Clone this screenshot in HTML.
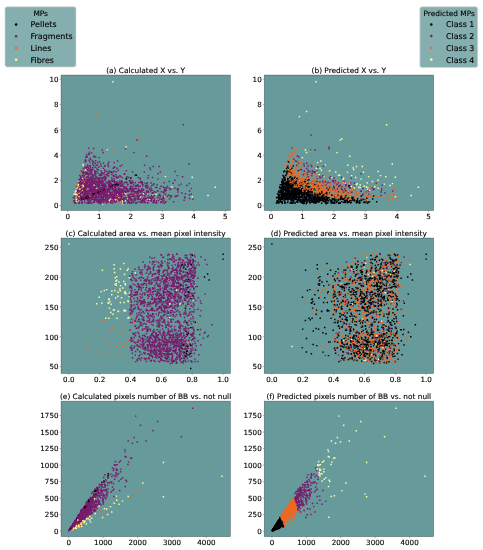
<!DOCTYPE html>
<html><head><meta charset="utf-8"><title>MPs scatter</title>
<style>
html,body{margin:0;padding:0;background:#fff}
body{width:483px;height:550px;position:relative;overflow:hidden}
text{font-family:"DejaVu Sans","Liberation Sans",sans-serif;fill:#000;stroke:#000;stroke-width:0.12px}
.t{font-size:7.15px}
.ti{font-size:7.37px}
.l{font-size:7.95px}
.lt{font-size:7.35px}
</style></head><body>
<svg width="483" height="550" viewBox="0 0 483 550" style="display:block;position:absolute;left:0;top:0">
<rect width="483" height="550" fill="#fff"/>
<g>
<rect x="61.0" y="75.0" width="169.5" height="135.6" fill="#669a9b"/>
<clipPath id="c00"><rect x="61.0" y="75.0" width="169.5" height="135.6"/></clipPath>
<g clip-path="url(#c00)" fill="none" stroke-width="1.45" stroke-linecap="square">
<path d="M100.8 191.1h.01M95.5 193.4h.01M97.2 191.5h.01" stroke="#000004"/>
<path d="M79.2 185.1h.01M121.1 190.0h.01M91.0 193.3h.01M104.1 185.4h.01M111.3 183.5h.01M95.3 197.4h.01M107.7 190.6h.01M99.6 161.8h.01M88.8 174.3h.01M124.8 197.8h.01M90.6 170.8h.01M97.6 184.0h.01M96.3 193.6h.01M98.3 197.3h.01M93.0 169.1h.01M140.9 198.5h.01M104.7 190.2h.01M138.9 182.4h.01M77.3 201.7h.01M97.1 191.8h.01M164.3 203.2h.01M89.1 178.8h.01M98.9 195.5h.01M108.9 187.3h.01M90.9 177.6h.01M79.5 191.3h.01M102.5 199.8h.01M91.6 189.8h.01M79.2 203.2h.01M108.5 194.1h.01M137.2 198.2h.01M88.2 189.8h.01M104.4 184.8h.01M99.5 175.4h.01M114.0 184.7h.01M140.9 194.7h.01M95.6 156.9h.01M103.1 188.2h.01M79.1 197.8h.01M86.3 173.8h.01M94.1 194.0h.01M101.6 188.4h.01M99.3 184.7h.01M140.0 199.4h.01M89.9 180.3h.01M121.4 191.9h.01M140.8 182.6h.01M91.3 181.6h.01M152.0 190.1h.01M135.3 192.0h.01M133.2 188.7h.01M122.4 191.8h.01M100.6 203.0h.01M176.7 196.2h.01M78.7 193.5h.01M177.3 189.3h.01M80.8 183.7h.01" stroke="#781c6d"/>
<path d="M76.4 187.5h.01M88.3 186.1h.01" stroke="#ed6925"/>
<path d="M80.7 189.2h.01M76.6 201.8h.01M74.8 201.3h.01" stroke="#fcffa4"/>
<path d="M83.2 198.5h.01" stroke="#000004"/>
<path d="M144.8 192.9h.01M85.2 161.3h.01M130.8 183.5h.01M104.9 187.4h.01M86.5 186.1h.01M96.6 200.7h.01M116.3 200.9h.01M103.4 168.2h.01M123.8 193.7h.01M120.2 185.6h.01M96.5 185.7h.01M138.1 192.5h.01M110.3 192.8h.01M80.2 186.8h.01M85.7 157.1h.01M83.6 184.3h.01M98.6 188.6h.01M99.3 202.4h.01M116.6 200.0h.01M141.0 191.4h.01M130.8 194.6h.01M110.0 198.9h.01M89.2 177.9h.01M75.4 199.7h.01M101.4 183.4h.01M82.6 196.3h.01M87.4 186.6h.01M89.6 172.5h.01M84.8 182.5h.01M94.1 192.2h.01M81.8 183.2h.01M95.1 184.9h.01M96.3 191.3h.01M92.7 180.6h.01M122.3 184.4h.01M164.9 187.6h.01M147.3 185.3h.01M156.7 202.8h.01M163.6 197.7h.01M112.1 179.7h.01M90.9 195.8h.01M92.7 175.1h.01M95.1 174.9h.01M118.9 193.1h.01M102.9 181.9h.01M100.7 181.0h.01M92.4 180.2h.01M90.2 169.2h.01M118.1 191.9h.01M92.3 179.8h.01M97.9 181.9h.01M156.2 203.2h.01M112.2 189.8h.01M96.9 190.8h.01M99.7 196.0h.01M139.1 196.3h.01M111.4 195.7h.01M133.9 194.0h.01" stroke="#781c6d"/>
<path d="M77.4 197.3h.01M85.9 178.6h.01" stroke="#ed6925"/>
<path d="M79.6 183.4h.01M90.9 181.3h.01M105.9 197.5h.01M81.7 186.1h.01" stroke="#fcffa4"/>
<path d="M75.6 202.7h.01M135.3 175.1h.01M102.2 190.2h.01M136.4 175.3h.01" stroke="#000004"/>
<path d="M134.1 191.5h.01M87.6 172.4h.01M139.8 195.5h.01M88.2 167.1h.01M112.5 203.3h.01M99.2 199.1h.01M133.3 201.4h.01M110.9 200.1h.01M86.2 166.9h.01M79.1 203.2h.01M95.7 190.2h.01M103.2 199.0h.01M131.8 189.7h.01M141.5 182.4h.01M77.3 200.8h.01M101.1 174.0h.01M84.2 192.1h.01M77.7 197.0h.01M88.4 176.8h.01M79.8 182.0h.01M82.1 184.5h.01M123.5 199.3h.01M95.5 189.9h.01M111.5 196.5h.01M148.2 195.6h.01M143.9 198.3h.01M92.1 192.0h.01M80.1 198.0h.01M191.4 188.6h.01M83.0 183.2h.01M84.3 183.5h.01M85.1 191.1h.01M104.7 180.3h.01M110.8 200.7h.01M97.1 201.3h.01M143.3 198.7h.01M108.1 190.0h.01M97.4 199.2h.01M95.8 187.1h.01M124.9 187.1h.01M104.9 194.6h.01M91.4 176.3h.01M82.3 198.0h.01M92.5 186.2h.01M93.8 190.6h.01M104.8 169.9h.01M148.1 186.5h.01M92.4 188.5h.01M152.3 196.9h.01M112.5 196.0h.01M95.3 195.9h.01M90.1 182.8h.01M144.1 202.7h.01M111.3 172.0h.01M86.8 196.0h.01M150.0 167.9h.01" stroke="#781c6d"/>
<path d="M86.5 197.7h.01" stroke="#ed6925"/>
<path d="M83.0 193.6h.01M111.1 202.1h.01M77.4 194.4h.01M121.5 199.1h.01" stroke="#fcffa4"/>
<path d="M116.4 184.5h.01" stroke="#000004"/>
<path d="M93.8 192.1h.01M130.4 196.7h.01M125.0 195.1h.01M120.3 200.2h.01M118.9 192.4h.01M85.4 195.1h.01M83.2 181.8h.01M117.6 194.3h.01M100.3 190.1h.01M105.5 195.0h.01M90.6 185.9h.01M107.5 188.8h.01M92.8 196.2h.01M145.6 187.0h.01M122.3 199.8h.01M160.4 195.8h.01M115.5 188.9h.01M113.9 196.9h.01M140.4 199.2h.01M104.7 188.7h.01M141.6 190.0h.01M154.3 202.0h.01M101.0 199.1h.01M92.9 199.2h.01M96.5 191.2h.01M142.4 200.2h.01M84.4 187.7h.01M135.9 196.8h.01M99.2 157.6h.01M123.8 194.8h.01M117.6 193.6h.01M79.8 194.2h.01M105.1 190.7h.01M95.2 163.1h.01M109.2 185.3h.01M138.2 190.7h.01M142.6 193.8h.01M152.5 193.8h.01M117.2 200.6h.01M89.2 191.2h.01M142.3 190.9h.01M88.2 193.6h.01M89.7 194.0h.01M161.4 191.7h.01M104.4 190.6h.01M84.4 188.1h.01M84.0 176.1h.01M91.5 184.2h.01M121.9 190.2h.01M121.7 192.9h.01M134.0 196.1h.01M130.8 189.3h.01M81.0 178.4h.01M94.3 180.5h.01M114.1 180.3h.01M154.3 200.3h.01M123.3 194.4h.01M121.7 181.7h.01M130.4 182.9h.01M120.2 166.2h.01M95.1 170.7h.01M95.5 189.4h.01" stroke="#781c6d"/>
<path d="M86.0 175.5h.01" stroke="#ed6925"/>
<path d="M137.5 196.2h.01" stroke="#fcffa4"/>
<path d="M115.5 185.1h.01M87.4 196.6h.01" stroke="#000004"/>
<path d="M104.2 184.6h.01M81.6 183.1h.01M106.1 182.6h.01M89.9 193.5h.01M87.5 193.7h.01M85.2 168.1h.01M145.4 201.8h.01M102.6 188.1h.01M78.3 193.2h.01M114.3 162.6h.01M120.1 198.7h.01M100.8 193.5h.01M121.8 186.1h.01M108.8 181.6h.01M82.3 202.6h.01M120.0 191.8h.01M129.7 189.0h.01M98.7 181.6h.01M119.1 198.3h.01M132.2 189.3h.01M94.9 183.9h.01M94.4 184.2h.01M82.6 175.7h.01M101.4 200.0h.01M140.4 178.1h.01M130.4 194.2h.01M126.3 178.0h.01M81.9 192.5h.01M116.9 186.0h.01M104.0 185.1h.01M86.4 172.9h.01M108.8 185.0h.01M145.4 185.5h.01M157.6 191.1h.01M80.6 176.2h.01M152.3 192.8h.01M94.0 180.5h.01M103.4 177.7h.01M109.4 193.7h.01M100.8 182.3h.01M166.1 190.6h.01M89.1 190.5h.01M151.8 190.2h.01M128.5 202.3h.01M108.1 193.2h.01M98.6 184.9h.01M89.9 180.5h.01M92.3 184.7h.01M94.1 183.8h.01M106.3 174.6h.01M169.5 199.0h.01M117.3 198.5h.01M78.8 201.6h.01M120.6 176.4h.01M76.8 192.5h.01M120.2 185.4h.01M111.0 172.0h.01M83.3 182.1h.01" stroke="#781c6d"/>
<path d="M119.3 196.2h.01" stroke="#ed6925"/>
<path d="M149.6 199.4h.01M87.6 182.8h.01M78.8 187.0h.01" stroke="#fcffa4"/>
<path d="M86.6 198.3h.01" stroke="#000004"/>
<path d="M107.6 194.7h.01M163.1 192.1h.01M109.4 180.9h.01M90.7 197.9h.01M91.0 189.0h.01M100.7 187.6h.01M135.2 200.1h.01M93.6 178.0h.01M83.9 194.5h.01M90.3 188.5h.01M77.3 188.1h.01M102.7 192.8h.01M143.0 193.3h.01M131.0 182.6h.01M84.2 185.6h.01M104.7 192.9h.01M150.2 197.4h.01M102.1 190.2h.01M102.0 173.3h.01M82.3 192.7h.01M95.2 196.4h.01M83.8 187.1h.01M113.0 189.0h.01M106.1 191.7h.01M114.7 199.5h.01M89.3 179.7h.01M112.9 200.5h.01M102.6 184.4h.01M98.1 185.0h.01M98.1 185.6h.01M146.1 185.9h.01M120.5 191.6h.01M101.7 201.3h.01M92.6 187.0h.01M95.0 193.4h.01M121.5 189.5h.01M85.9 181.7h.01M153.2 197.2h.01M120.6 199.0h.01M106.9 175.2h.01M111.5 187.8h.01M104.3 187.8h.01M91.9 177.3h.01M103.3 152.4h.01M108.8 191.8h.01M86.7 195.2h.01M112.5 184.9h.01M120.6 195.7h.01M78.9 192.7h.01M127.9 184.8h.01M98.2 184.9h.01M90.9 198.1h.01M126.0 191.7h.01M85.4 162.0h.01M99.2 192.1h.01M118.9 196.3h.01M90.0 198.3h.01M108.0 195.2h.01M103.5 181.4h.01M108.8 199.1h.01" stroke="#781c6d"/>
<path d="M137.1 203.0h.01" stroke="#ed6925"/>
<path d="M82.2 177.9h.01M84.4 187.4h.01" stroke="#fcffa4"/>
<path d="M95.3 193.6h.01M87.5 198.7h.01M105.3 190.9h.01M87.3 195.4h.01M94.2 194.2h.01" stroke="#000004"/>
<path d="M104.3 194.9h.01M121.0 199.8h.01M135.5 185.7h.01M100.9 194.1h.01M129.3 195.3h.01M85.9 184.9h.01M163.2 187.0h.01M94.3 183.4h.01M130.1 180.9h.01M98.6 181.8h.01M74.6 201.5h.01M114.6 199.3h.01M139.8 190.4h.01M102.6 191.5h.01M114.9 196.5h.01M111.0 197.0h.01M91.0 191.7h.01M100.2 181.5h.01M89.6 198.2h.01M96.2 195.8h.01M101.2 197.1h.01M161.0 202.3h.01M123.6 192.8h.01M124.2 192.2h.01M108.1 201.5h.01M88.3 180.5h.01M151.2 187.9h.01M118.3 184.2h.01M125.8 182.3h.01M99.7 189.6h.01M102.1 182.5h.01M105.6 196.8h.01M132.4 196.9h.01M91.6 189.6h.01M89.8 174.4h.01M98.3 192.9h.01M97.1 192.0h.01M84.3 190.2h.01M121.6 195.4h.01M79.1 179.2h.01M107.4 200.3h.01M94.4 188.5h.01M116.3 194.0h.01M100.6 202.3h.01M119.2 199.6h.01M83.2 188.8h.01M94.2 201.5h.01M84.8 188.9h.01M89.5 184.5h.01M81.1 179.0h.01M114.0 190.4h.01M125.6 148.7h.01M97.8 201.7h.01M84.1 172.8h.01" stroke="#781c6d"/>
<path d="M79.2 198.1h.01M156.4 201.1h.01" stroke="#ed6925"/>
<path d="M147.0 194.2h.01M88.3 189.2h.01M89.4 195.1h.01" stroke="#fcffa4"/>
<path d="M117.1 183.4h.01M97.6 192.2h.01" stroke="#000004"/>
<path d="M107.5 188.6h.01M99.3 184.7h.01M140.0 198.2h.01M119.6 198.6h.01M102.5 186.3h.01M100.6 200.8h.01M140.9 197.3h.01M123.9 192.6h.01M140.0 202.2h.01M143.1 200.8h.01M116.4 192.2h.01M137.2 199.5h.01M147.1 187.9h.01M96.3 198.9h.01M103.7 202.2h.01M96.7 190.3h.01M80.9 193.5h.01M106.8 200.1h.01M88.9 191.5h.01M135.2 199.4h.01M137.5 196.5h.01M105.6 196.9h.01M116.4 194.1h.01M147.9 177.9h.01M142.3 201.9h.01M104.5 194.1h.01M145.2 198.4h.01M90.6 188.1h.01M91.6 197.8h.01M79.7 184.8h.01M105.4 196.2h.01M92.3 190.6h.01M98.3 192.8h.01M116.6 199.0h.01M75.4 196.7h.01M101.6 178.9h.01M110.3 193.8h.01M90.0 182.9h.01M80.8 189.2h.01M127.4 191.3h.01M163.4 201.8h.01M97.1 178.9h.01M103.3 194.2h.01M131.8 193.7h.01M140.1 186.2h.01M99.2 178.7h.01M123.7 203.2h.01M115.0 187.5h.01M95.4 174.6h.01M127.2 188.9h.01M81.6 194.1h.01M85.2 183.5h.01M133.7 188.9h.01M177.3 175.6h.01M84.5 165.9h.01M106.4 182.2h.01M87.6 194.8h.01M82.6 188.9h.01M101.0 188.2h.01M91.9 178.4h.01" stroke="#781c6d"/>
<path d="M141.5 197.2h.01" stroke="#ed6925"/>
<path d="M79.1 183.1h.01" stroke="#fcffa4"/>
<path d="M111.9 187.2h.01" stroke="#000004"/>
<path d="M101.7 196.6h.01M119.8 193.3h.01M80.7 189.9h.01M109.1 197.0h.01M86.1 194.3h.01M118.5 200.3h.01M138.4 201.6h.01M103.4 178.2h.01M177.8 195.4h.01M96.2 165.2h.01M81.2 197.9h.01M119.3 194.5h.01M102.3 199.1h.01M111.2 202.4h.01M78.6 195.6h.01M101.3 192.2h.01M99.3 181.5h.01M113.9 197.3h.01M102.6 197.0h.01M86.5 166.9h.01M93.2 177.2h.01M79.9 182.6h.01M103.4 185.3h.01M95.5 198.7h.01M121.0 197.8h.01M91.6 192.7h.01M146.8 183.5h.01M153.2 166.5h.01M128.3 195.1h.01M99.6 180.7h.01M135.1 199.7h.01M95.0 179.1h.01M105.8 196.0h.01M146.6 191.3h.01M108.0 165.0h.01M79.2 187.8h.01M116.2 177.0h.01M82.1 187.4h.01M113.7 200.3h.01M77.4 190.3h.01M87.9 193.7h.01M90.4 201.6h.01M91.2 177.2h.01M101.1 166.0h.01M80.0 196.1h.01M100.0 200.3h.01M82.5 197.8h.01M124.2 186.9h.01M94.7 172.9h.01M92.3 169.9h.01M89.5 185.1h.01M87.7 202.6h.01M99.6 189.9h.01M90.8 196.6h.01M83.4 182.9h.01" stroke="#781c6d"/>
<path d="M95.3 194.2h.01M80.5 171.8h.01M129.6 202.8h.01" stroke="#ed6925"/>
<path d="M124.7 193.0h.01M79.3 185.1h.01M87.9 183.2h.01M120.5 201.6h.01M151.2 200.3h.01" stroke="#fcffa4"/>
<path d="M95.5 193.6h.01" stroke="#000004"/>
<path d="M126.2 192.9h.01M106.9 196.9h.01M144.6 195.9h.01M78.9 189.0h.01M122.0 185.3h.01M110.5 188.8h.01M140.2 192.2h.01M80.4 184.2h.01M102.0 197.4h.01M161.0 202.6h.01M86.9 202.9h.01M135.2 182.7h.01M103.2 197.4h.01M109.9 199.1h.01M110.4 189.5h.01M184.6 197.0h.01M165.3 195.2h.01M116.3 190.2h.01M80.8 196.2h.01M116.1 195.2h.01M108.1 182.6h.01M101.6 175.3h.01M115.9 174.6h.01M145.7 198.1h.01M91.0 194.3h.01M119.4 199.5h.01M116.0 188.9h.01M96.9 197.3h.01M93.2 181.8h.01M95.8 173.4h.01M134.9 194.9h.01M90.2 192.5h.01M90.6 167.3h.01M84.8 192.3h.01M93.8 190.5h.01M106.2 201.7h.01M125.0 188.0h.01M94.5 179.1h.01M91.7 184.7h.01M135.1 188.5h.01M161.8 202.6h.01M97.5 200.1h.01M141.3 202.5h.01M117.0 198.3h.01M121.4 201.7h.01M125.0 197.6h.01M110.0 197.3h.01M151.0 200.5h.01M111.6 192.6h.01M91.3 198.6h.01M113.9 200.9h.01M104.3 186.7h.01M80.6 200.1h.01M102.5 173.3h.01M89.5 192.5h.01M135.1 198.7h.01M88.9 153.8h.01M110.1 187.8h.01" stroke="#781c6d"/>
<path d="M84.5 170.9h.01M79.7 188.1h.01" stroke="#ed6925"/>
<path d="M76.3 197.1h.01M156.0 194.5h.01M112.0 197.3h.01" stroke="#fcffa4"/>
<path d="M84.0 198.5h.01M111.6 186.1h.01" stroke="#000004"/>
<path d="M105.1 177.3h.01M99.2 186.4h.01M75.9 192.2h.01M123.5 188.1h.01M166.9 187.8h.01M144.5 165.3h.01M87.9 166.4h.01M179.1 185.1h.01M157.0 187.6h.01M113.8 195.7h.01M150.5 169.6h.01M86.8 167.9h.01M98.3 194.5h.01M106.2 195.3h.01M110.8 200.1h.01M93.6 148.4h.01M73.4 197.7h.01M128.8 202.5h.01M112.0 202.2h.01M151.6 185.6h.01M148.7 192.1h.01M81.9 194.6h.01M87.0 156.4h.01M82.8 193.5h.01M90.2 200.6h.01M82.6 172.6h.01M121.6 198.5h.01M112.3 197.4h.01M112.1 186.7h.01M134.2 201.1h.01M115.1 193.2h.01M136.4 193.6h.01M104.0 186.5h.01M105.4 192.7h.01M96.7 168.1h.01M93.5 189.5h.01M83.7 188.2h.01M119.0 189.3h.01M93.1 182.9h.01M87.7 193.7h.01M99.3 190.7h.01M99.2 202.7h.01M165.3 202.2h.01M97.8 185.3h.01M127.5 194.7h.01M80.4 186.7h.01M116.9 198.2h.01M91.0 193.6h.01M83.8 194.5h.01M84.5 179.3h.01M131.0 188.1h.01M79.6 187.7h.01M132.5 171.9h.01M89.6 197.3h.01" stroke="#781c6d"/>
<path d="M76.1 197.4h.01M157.9 199.0h.01M78.8 198.0h.01" stroke="#ed6925"/>
<path d="M152.3 194.4h.01M112.0 199.6h.01M74.3 194.0h.01M122.1 193.9h.01M83.7 166.2h.01" stroke="#fcffa4"/>
<path d="M98.4 191.5h.01" stroke="#000004"/>
<path d="M98.1 189.4h.01M100.2 203.4h.01M145.5 202.3h.01M132.4 182.7h.01M171.5 195.6h.01M97.2 184.9h.01M142.5 182.7h.01M111.2 186.9h.01M135.8 185.9h.01M109.7 186.8h.01M115.8 201.8h.01M107.0 198.0h.01M85.1 197.5h.01M170.9 197.2h.01M85.8 185.8h.01M80.1 193.7h.01M97.0 182.5h.01M78.3 196.7h.01M80.2 195.2h.01M142.4 201.1h.01M141.7 188.6h.01M104.9 191.0h.01M94.0 156.7h.01M171.0 189.3h.01M94.1 197.8h.01M100.4 199.6h.01M113.5 200.5h.01M133.4 202.6h.01M116.9 193.0h.01M85.5 186.5h.01M112.3 195.6h.01M117.1 190.9h.01M75.3 198.4h.01M98.3 169.8h.01M124.4 187.9h.01M84.8 198.6h.01M130.6 203.3h.01M87.7 179.8h.01M83.4 173.9h.01M85.1 187.8h.01M102.2 150.0h.01M150.9 200.6h.01M110.9 197.2h.01M142.7 190.6h.01M143.7 193.0h.01M106.8 189.6h.01M93.6 161.4h.01M78.7 182.1h.01M100.6 175.4h.01M120.3 196.0h.01M86.7 191.3h.01M112.7 197.5h.01M113.9 176.2h.01M85.4 185.0h.01M108.9 161.9h.01M120.7 186.0h.01M79.4 197.1h.01M122.9 186.3h.01M111.6 172.3h.01M114.6 167.2h.01" stroke="#781c6d"/>
<path d="M111.8 202.4h.01" stroke="#ed6925"/>
<path d="M83.0 164.7h.01M83.5 183.6h.01" stroke="#fcffa4"/>
<path d="M86.3 197.3h.01M103.5 190.1h.01" stroke="#000004"/>
<path d="M122.1 190.0h.01M96.2 199.5h.01M114.0 194.7h.01M109.5 186.2h.01M90.0 197.0h.01M100.5 193.8h.01M82.5 183.0h.01M103.6 198.2h.01M101.8 197.5h.01M84.8 195.6h.01M117.6 161.0h.01M103.6 183.6h.01M124.4 191.2h.01M93.5 194.5h.01M150.6 191.1h.01M90.1 188.4h.01M110.0 194.4h.01M116.3 185.9h.01M90.4 170.6h.01M86.2 182.7h.01M130.2 188.2h.01M93.5 195.9h.01M124.3 182.8h.01M84.7 184.3h.01M111.8 172.7h.01M78.8 201.9h.01M94.6 202.2h.01M83.7 182.2h.01M122.0 189.8h.01M94.0 187.6h.01M101.7 189.3h.01M114.5 182.7h.01M157.0 184.9h.01M164.7 187.7h.01M93.4 182.8h.01M156.6 200.7h.01M96.1 185.5h.01M144.3 201.3h.01M115.4 197.8h.01M88.9 202.6h.01M132.7 186.7h.01M122.2 181.5h.01M146.8 191.1h.01M113.1 197.8h.01M173.5 201.8h.01M94.8 186.4h.01M117.6 192.7h.01M108.5 166.5h.01M90.8 196.0h.01M115.5 190.8h.01M80.2 183.9h.01M83.8 172.8h.01M89.3 191.5h.01M95.8 190.4h.01M163.9 193.0h.01M137.8 195.3h.01M87.0 183.9h.01" stroke="#781c6d"/>
<path d="M122.6 202.5h.01M94.6 185.3h.01M146.2 199.6h.01M76.3 198.2h.01M90.4 192.4h.01" stroke="#fcffa4"/>
<path d="M97.8 193.0h.01M116.6 183.6h.01M93.2 193.0h.01" stroke="#000004"/>
<path d="M107.4 182.4h.01M89.1 187.2h.01M78.2 188.4h.01M78.5 194.4h.01M173.1 183.2h.01M93.7 199.6h.01M82.1 180.0h.01M115.5 197.7h.01M90.1 186.4h.01M91.7 186.9h.01M90.0 165.4h.01M133.8 190.8h.01M75.4 195.6h.01M85.0 191.3h.01M86.9 177.1h.01M85.3 185.8h.01M141.5 197.4h.01M107.7 173.2h.01M89.4 202.9h.01M115.9 181.9h.01M95.1 199.7h.01M107.3 200.6h.01M141.9 181.8h.01M95.8 160.6h.01M100.7 163.9h.01M105.1 171.1h.01M109.3 190.7h.01M146.5 194.1h.01M103.0 173.6h.01M82.2 192.8h.01M114.6 190.4h.01M109.4 192.7h.01M112.5 194.2h.01M93.0 197.3h.01M119.4 193.6h.01M96.1 183.1h.01M167.5 186.1h.01M81.5 203.1h.01M152.2 196.6h.01M98.9 178.0h.01M104.3 174.6h.01M144.0 200.7h.01M92.8 164.1h.01M137.7 191.2h.01M84.6 186.7h.01M104.4 188.6h.01M92.5 192.0h.01M98.6 197.0h.01M94.0 178.6h.01M85.2 185.7h.01M96.2 194.9h.01M94.0 194.2h.01M162.7 199.9h.01M133.7 196.4h.01M82.5 196.0h.01M110.8 202.6h.01M80.3 184.2h.01" stroke="#781c6d"/>
<path d="M77.1 184.8h.01" stroke="#ed6925"/>
<path d="M140.8 197.1h.01M128.2 198.9h.01M139.5 197.8h.01" stroke="#fcffa4"/>
<path d="M130.8 177.9h.01" stroke="#000004"/>
<path d="M110.9 199.2h.01M84.7 192.8h.01M111.2 180.9h.01M111.9 192.1h.01M86.5 186.1h.01M87.5 183.1h.01M151.8 195.2h.01M161.8 199.6h.01M151.2 199.3h.01M81.8 189.4h.01M140.8 181.5h.01M99.2 199.3h.01M87.5 165.0h.01M91.9 174.2h.01M189.3 183.6h.01M119.3 194.6h.01M81.6 189.8h.01M98.7 188.2h.01M78.9 194.9h.01M83.4 168.6h.01M101.2 183.1h.01M77.5 198.8h.01M151.1 199.1h.01M90.6 194.1h.01M159.9 199.2h.01M98.1 173.3h.01M101.1 191.8h.01M101.9 181.9h.01M85.0 182.1h.01M90.4 190.0h.01M80.8 177.3h.01M121.5 194.0h.01M106.1 192.8h.01M137.0 195.5h.01M96.9 171.5h.01M124.5 198.2h.01M113.5 198.3h.01M84.5 178.4h.01M184.9 197.7h.01M135.7 203.3h.01M82.4 184.0h.01M106.2 199.4h.01M133.3 191.3h.01M108.3 176.1h.01M82.8 183.3h.01M86.0 198.0h.01M123.1 189.4h.01M90.0 179.1h.01M117.1 194.7h.01M75.4 202.6h.01M120.1 188.6h.01M106.4 189.9h.01M83.4 191.2h.01" stroke="#781c6d"/>
<path d="M84.5 188.2h.01M112.4 193.3h.01M83.8 197.4h.01M108.7 201.7h.01M77.5 192.2h.01M79.0 186.5h.01M135.0 194.1h.01" stroke="#ed6925"/>
<path d="M82.0 196.0h.01M78.3 188.1h.01M82.4 190.4h.01" stroke="#fcffa4"/>
<path d="M85.7 190.9h.01M158.5 200.6h.01M87.1 177.4h.01M101.2 203.1h.01M109.3 189.1h.01M113.5 175.4h.01M102.0 184.5h.01M102.6 198.5h.01M122.5 195.6h.01M181.8 192.9h.01M79.0 195.1h.01M100.0 182.6h.01M80.5 198.3h.01M150.9 196.9h.01M88.3 187.7h.01M92.9 182.6h.01M89.8 182.3h.01M121.0 194.4h.01M102.7 185.5h.01M89.5 198.6h.01M89.7 199.8h.01M137.8 185.0h.01M95.4 192.2h.01M104.5 166.2h.01M91.6 185.1h.01M167.4 196.2h.01M95.9 197.8h.01M100.3 189.6h.01M95.2 183.7h.01M174.9 188.3h.01M104.3 193.1h.01M109.1 193.3h.01M109.4 182.9h.01M114.2 180.4h.01M82.9 175.1h.01M135.7 202.9h.01M119.5 181.3h.01M79.8 175.4h.01M161.4 202.0h.01M87.9 173.6h.01M94.8 171.7h.01M122.3 200.9h.01M166.2 190.2h.01M112.2 201.6h.01M84.2 167.3h.01M116.1 190.9h.01M114.2 192.1h.01M85.7 174.3h.01M117.0 198.6h.01M96.5 194.3h.01M103.4 189.4h.01M87.7 185.9h.01M100.2 183.2h.01M97.8 162.4h.01M92.4 196.0h.01M193.0 199.2h.01" stroke="#781c6d"/>
<path d="M76.8 187.8h.01M77.3 191.6h.01M78.4 201.4h.01M113.1 201.5h.01M76.3 194.9h.01M118.6 197.5h.01M75.8 190.6h.01M103.1 203.7h.01" stroke="#fcffa4"/>
<path d="M83.7 198.7h.01" stroke="#000004"/>
<path d="M85.0 196.0h.01M84.3 186.9h.01M120.7 194.6h.01M132.7 199.4h.01M84.5 202.4h.01M164.1 200.1h.01M114.2 176.1h.01M85.9 172.6h.01M98.2 179.2h.01M175.2 196.4h.01M114.9 200.8h.01M95.9 181.0h.01M88.9 199.3h.01M92.2 186.4h.01M87.2 170.3h.01M88.3 202.8h.01M83.1 177.3h.01M90.3 188.2h.01M81.0 186.9h.01M98.6 183.3h.01M87.3 182.7h.01M82.6 191.8h.01M81.1 195.8h.01M165.5 194.1h.01M89.0 184.5h.01M89.7 162.0h.01M88.2 192.6h.01M153.3 202.4h.01M91.5 192.1h.01M84.8 181.6h.01M118.7 187.5h.01M123.4 197.0h.01M113.3 168.3h.01M120.2 188.8h.01M119.8 175.8h.01M101.2 199.4h.01M98.1 187.1h.01M114.2 167.3h.01M93.3 201.6h.01M133.7 184.5h.01M84.8 183.3h.01M100.5 193.8h.01M136.8 186.1h.01M86.2 192.9h.01M105.8 192.9h.01M122.2 165.1h.01M90.9 169.3h.01M92.9 188.4h.01M134.7 193.1h.01M97.4 181.5h.01M129.9 181.4h.01M132.1 186.3h.01M126.3 188.6h.01M96.0 192.7h.01M93.5 192.9h.01M118.9 198.8h.01M84.3 188.6h.01M137.9 191.2h.01M129.0 199.3h.01" stroke="#781c6d"/>
<path d="M79.6 193.0h.01" stroke="#ed6925"/>
<path d="M108.5 193.5h.01M131.7 197.3h.01M147.4 199.0h.01" stroke="#fcffa4"/>
<path d="M90.0 196.3h.01" stroke="#000004"/>
<path d="M97.0 177.7h.01M139.3 196.8h.01M99.6 178.9h.01M170.3 195.9h.01M113.6 171.8h.01M103.5 202.9h.01M87.9 181.7h.01M138.2 196.2h.01M98.4 196.7h.01M162.0 198.8h.01M101.9 172.7h.01M83.8 189.9h.01M101.0 195.9h.01M126.2 178.7h.01M80.6 193.7h.01M95.6 188.0h.01M138.3 185.6h.01M99.8 192.8h.01M114.1 178.6h.01M83.2 189.2h.01M89.2 202.6h.01M118.0 193.6h.01M118.4 199.8h.01M109.7 195.2h.01M105.0 195.6h.01M161.0 186.3h.01M153.9 183.7h.01M81.4 180.2h.01M104.5 193.6h.01M101.5 182.6h.01M107.6 182.7h.01M104.8 200.4h.01M84.6 199.3h.01M90.8 191.2h.01M117.0 198.0h.01M93.3 197.3h.01M80.2 194.1h.01M119.1 189.9h.01M131.2 196.7h.01M131.9 189.3h.01M85.8 171.6h.01M166.3 201.6h.01M79.8 187.8h.01M84.3 187.1h.01M148.1 191.2h.01M96.3 196.8h.01M138.8 199.2h.01M130.4 187.5h.01M105.2 184.4h.01M113.0 201.9h.01M103.6 163.3h.01M160.3 172.2h.01M110.8 196.5h.01M85.7 187.6h.01M91.1 183.4h.01M93.7 183.0h.01M74.1 200.6h.01M79.7 181.6h.01" stroke="#781c6d"/>
<path d="M88.3 174.8h.01" stroke="#ed6925"/>
<path d="M78.8 193.2h.01M79.7 189.0h.01M88.4 178.1h.01M143.2 193.8h.01" stroke="#fcffa4"/>
<path d="M126.5 178.8h.01" stroke="#000004"/>
<path d="M86.8 192.0h.01M89.6 182.2h.01M116.8 190.8h.01M130.2 197.6h.01M136.6 202.7h.01M116.6 193.2h.01M77.8 199.3h.01M94.2 156.0h.01M117.5 185.9h.01M121.9 196.2h.01M117.4 199.8h.01M92.8 181.5h.01M124.7 174.3h.01M91.2 181.4h.01M128.2 197.4h.01M125.1 200.5h.01M137.0 185.3h.01M124.2 173.7h.01M84.6 191.0h.01M76.3 199.1h.01M93.8 189.3h.01M129.2 198.3h.01M144.0 199.2h.01M79.1 189.5h.01M93.9 175.9h.01M105.1 190.4h.01M113.8 171.0h.01M112.7 184.6h.01M101.2 185.4h.01M113.9 188.7h.01M146.8 192.4h.01M109.7 183.0h.01M106.4 202.3h.01M115.7 198.7h.01M169.2 181.5h.01M105.9 177.3h.01M92.0 193.2h.01M148.9 198.3h.01M135.2 191.8h.01M118.3 185.2h.01M109.2 180.6h.01M97.0 187.6h.01M97.7 182.7h.01M170.1 189.4h.01M89.5 184.9h.01M102.4 196.6h.01M127.7 191.2h.01M91.8 177.1h.01M146.9 187.8h.01M84.2 184.3h.01M138.0 194.1h.01M129.2 198.5h.01M109.7 191.8h.01M108.3 185.0h.01M81.7 198.6h.01M189.5 198.4h.01M111.8 177.8h.01M102.3 179.8h.01M84.3 186.1h.01" stroke="#781c6d"/>
<path d="M92.7 151.2h.01" stroke="#ed6925"/>
<path d="M76.5 199.6h.01M117.4 199.7h.01M123.0 196.4h.01" stroke="#fcffa4"/>
<path d="M107.8 173.6h.01M81.8 199.2h.01M123.4 192.5h.01M88.4 194.1h.01M112.8 195.9h.01M86.3 181.0h.01M138.9 186.8h.01M123.6 198.7h.01M150.1 189.7h.01M95.2 181.6h.01M105.6 185.2h.01M140.8 192.1h.01M121.1 180.8h.01M80.1 189.3h.01M154.4 198.7h.01M148.4 175.6h.01M90.2 193.1h.01M110.2 182.4h.01M138.8 198.3h.01M81.5 186.2h.01M104.4 183.8h.01M101.1 171.0h.01M87.6 176.8h.01M84.6 190.0h.01M89.5 196.6h.01M128.7 196.9h.01M105.5 192.8h.01M92.5 198.4h.01M108.8 188.1h.01M141.4 200.6h.01M94.9 189.8h.01M119.4 197.8h.01M114.6 201.8h.01M87.2 181.3h.01M107.7 191.1h.01M119.2 190.9h.01M95.2 181.8h.01M81.2 190.3h.01M101.4 192.1h.01M85.2 194.0h.01M82.0 202.7h.01M91.1 196.2h.01M108.2 190.2h.01M153.8 200.6h.01M108.6 175.5h.01M85.9 184.6h.01M113.1 188.7h.01M148.8 197.2h.01M95.6 178.5h.01M93.2 197.4h.01M98.2 182.8h.01M113.2 191.5h.01M80.1 191.7h.01M83.1 184.2h.01M86.0 160.4h.01M109.1 171.0h.01M92.9 183.5h.01M79.7 185.2h.01M98.9 188.4h.01M103.1 199.3h.01" stroke="#781c6d"/>
<path d="M82.8 184.7h.01M83.5 186.3h.01M122.9 203.7h.01M146.5 201.0h.01" stroke="#fcffa4"/>
<path d="M111.5 186.9h.01M100.2 191.4h.01M87.7 196.0h.01" stroke="#000004"/>
<path d="M83.7 196.3h.01M99.3 178.8h.01M90.8 191.5h.01M119.6 190.7h.01M136.5 192.0h.01M88.0 200.0h.01M131.6 191.7h.01M113.3 186.2h.01M159.8 188.4h.01M121.9 192.1h.01M123.4 200.2h.01M145.8 194.1h.01M102.7 185.3h.01M91.2 197.8h.01M118.9 192.1h.01M89.9 190.4h.01M88.8 193.9h.01M163.2 196.4h.01M97.2 169.5h.01M108.1 199.7h.01M100.4 201.8h.01M118.1 177.5h.01M133.6 191.6h.01M92.7 189.6h.01M84.3 181.1h.01M79.5 180.5h.01M94.2 182.1h.01M108.7 187.0h.01M130.6 186.2h.01M133.2 191.5h.01M83.9 181.8h.01M109.1 189.2h.01M90.3 186.4h.01M105.0 178.7h.01M118.7 191.6h.01M153.4 202.8h.01M163.2 196.5h.01M91.3 179.6h.01M107.9 197.3h.01M112.6 181.3h.01M138.1 197.3h.01M104.1 188.6h.01M77.5 197.1h.01M88.9 189.9h.01M76.5 187.0h.01M95.4 163.1h.01M91.1 184.3h.01M121.9 194.9h.01M79.4 197.4h.01M112.0 174.4h.01M84.4 197.7h.01M103.5 187.8h.01M134.3 198.0h.01M105.3 187.1h.01M153.2 184.8h.01M88.2 177.9h.01M103.0 187.6h.01M189.6 191.0h.01M117.3 197.8h.01M88.3 190.0h.01" stroke="#781c6d"/>
<path d="M76.3 199.4h.01" stroke="#fcffa4"/>
<path d="M87.1 197.4h.01M118.1 184.7h.01M85.9 197.5h.01" stroke="#000004"/>
<path d="M87.1 156.8h.01M78.8 197.7h.01M112.1 201.1h.01M109.1 192.0h.01M99.4 194.3h.01M78.4 198.6h.01M90.2 186.4h.01M97.5 200.0h.01M101.1 194.9h.01M131.4 202.1h.01M93.6 190.2h.01M133.0 189.5h.01M112.7 188.8h.01M84.0 197.4h.01M132.2 182.7h.01M85.5 190.8h.01M102.2 194.3h.01M91.3 184.9h.01M164.6 196.1h.01M119.1 189.7h.01M86.6 177.3h.01M77.7 191.0h.01M116.9 168.2h.01M178.2 188.7h.01M74.1 197.2h.01M148.7 200.4h.01M87.9 186.8h.01M92.8 167.8h.01M78.2 192.3h.01M84.2 193.3h.01M91.1 190.3h.01M133.4 195.8h.01M105.1 165.8h.01M98.7 202.7h.01M99.1 181.3h.01M84.4 193.1h.01M121.2 192.4h.01M94.2 202.3h.01M97.5 165.2h.01M88.8 198.1h.01M168.9 195.2h.01M104.5 199.7h.01M88.7 178.5h.01M128.6 177.4h.01M178.0 192.0h.01M77.8 199.2h.01M114.7 197.2h.01M98.8 201.6h.01M96.5 181.8h.01M130.8 196.9h.01M115.2 201.9h.01M132.4 190.0h.01M106.7 194.9h.01M117.2 196.9h.01M116.6 185.8h.01" stroke="#781c6d"/>
<path d="M109.3 201.9h.01M76.0 195.5h.01" stroke="#ed6925"/>
<path d="M79.0 196.7h.01M164.7 196.4h.01M96.4 188.1h.01M125.3 200.8h.01" stroke="#fcffa4"/>
<path d="M98.0 191.2h.01M82.0 199.6h.01M82.3 197.3h.01M94.2 193.7h.01" stroke="#000004"/>
<path d="M88.5 191.8h.01M102.6 177.6h.01M119.1 195.9h.01M126.4 199.5h.01M127.8 203.0h.01M182.6 176.8h.01M87.1 195.6h.01M120.0 183.4h.01M79.3 194.9h.01M92.0 182.8h.01M112.6 193.0h.01M142.3 184.1h.01M102.9 192.1h.01M87.1 191.7h.01M114.3 181.6h.01M108.9 173.3h.01M108.4 182.6h.01M124.7 188.1h.01M81.6 190.0h.01M80.6 181.1h.01M109.5 181.9h.01M89.9 197.6h.01M98.2 181.5h.01M81.4 195.9h.01M91.2 172.5h.01M141.7 194.3h.01M88.8 148.1h.01M111.6 195.4h.01M89.2 200.0h.01M118.6 182.9h.01M117.4 192.5h.01M123.4 193.5h.01M90.4 196.4h.01M92.7 191.0h.01M103.3 195.4h.01M136.2 188.4h.01M131.9 182.9h.01M135.9 203.3h.01M84.7 201.0h.01M115.0 191.1h.01M105.8 197.0h.01M92.4 194.7h.01M126.5 186.9h.01M84.8 180.3h.01M151.6 200.7h.01M124.0 199.7h.01M78.6 197.9h.01M87.1 182.3h.01M147.3 202.8h.01M142.6 195.4h.01M84.3 175.6h.01M82.2 189.0h.01M113.3 186.4h.01M128.5 190.4h.01M128.6 201.3h.01M146.9 200.5h.01M131.9 200.5h.01M189.4 194.9h.01" stroke="#781c6d"/>
<path d="M85.8 170.2h.01M75.6 194.2h.01" stroke="#fcffa4"/>
<path d="M84.0 199.3h.01M110.8 186.1h.01M86.9 198.2h.01" stroke="#000004"/>
<path d="M115.4 185.7h.01M128.5 194.9h.01M129.5 180.4h.01M111.6 198.8h.01M95.8 184.5h.01M141.5 201.2h.01M153.6 201.6h.01M91.5 152.9h.01M175.8 196.1h.01M132.0 180.7h.01M88.6 174.9h.01M132.6 196.3h.01M125.1 191.3h.01M120.2 196.0h.01M79.9 181.3h.01M121.5 197.7h.01M83.6 194.6h.01M113.9 201.1h.01M103.4 201.9h.01M120.0 184.1h.01M83.2 194.8h.01M116.6 176.5h.01M147.9 202.4h.01M127.2 200.9h.01M115.3 187.6h.01M101.0 188.2h.01M92.3 160.9h.01M83.0 198.0h.01M152.5 177.4h.01M122.3 177.5h.01M125.0 190.0h.01M131.3 201.1h.01M125.3 192.2h.01M94.9 199.1h.01M114.1 197.8h.01M157.8 197.9h.01M155.8 192.2h.01M88.8 154.5h.01M83.2 171.5h.01M95.2 192.0h.01M101.2 181.7h.01M151.9 198.6h.01M89.0 202.5h.01M90.3 158.4h.01M81.8 194.1h.01M122.6 184.0h.01M88.7 168.2h.01M103.1 193.9h.01M148.3 192.2h.01M118.7 193.3h.01M116.0 189.5h.01M79.6 183.5h.01M89.3 195.7h.01M105.3 188.8h.01M85.6 192.7h.01" stroke="#781c6d"/>
<path d="M78.1 187.8h.01M87.2 188.6h.01" stroke="#ed6925"/>
<path d="M125.9 193.9h.01M117.8 194.7h.01M82.8 194.6h.01M78.6 181.5h.01" stroke="#fcffa4"/>
<path d="M114.9 184.4h.01M93.2 194.7h.01M88.7 197.1h.01M81.5 198.9h.01M97.8 193.0h.01M112.9 185.4h.01M89.3 195.6h.01" stroke="#000004"/>
<path d="M110.6 193.7h.01M94.5 182.2h.01M104.8 192.2h.01M107.1 150.5h.01M126.5 181.9h.01M87.3 169.6h.01M86.7 191.1h.01M153.0 192.8h.01M103.3 196.5h.01M108.0 163.8h.01M100.9 193.5h.01M157.9 179.1h.01M85.1 190.2h.01M115.3 186.7h.01M98.4 181.4h.01M99.7 190.4h.01M102.4 177.4h.01M174.9 180.3h.01M97.5 193.6h.01M114.8 187.2h.01M127.7 189.1h.01M86.4 195.4h.01M100.3 177.7h.01M82.9 195.1h.01M126.7 182.8h.01M103.2 191.7h.01M122.3 190.1h.01M114.3 194.1h.01M160.0 197.4h.01M87.6 183.1h.01M114.3 191.3h.01M84.6 199.3h.01M85.9 189.0h.01M101.1 200.4h.01M88.5 203.3h.01M89.4 152.1h.01M142.3 183.1h.01M83.7 194.5h.01M109.3 189.2h.01M88.5 186.5h.01M88.8 195.7h.01M123.4 203.1h.01M140.9 190.5h.01M149.4 188.4h.01M99.9 189.8h.01M154.6 195.8h.01M98.5 190.1h.01M103.5 200.9h.01M98.8 184.9h.01M92.6 163.2h.01M135.3 199.4h.01M117.4 183.1h.01" stroke="#781c6d"/>
<path d="M165.4 196.2h.01M90.0 196.2h.01M77.8 198.9h.01M116.4 196.4h.01M118.4 203.3h.01" stroke="#ed6925"/>
<path d="M86.9 185.8h.01M94.6 180.5h.01M131.7 203.1h.01M102.8 185.9h.01M106.0 196.9h.01M107.1 197.3h.01M98.1 201.4h.01M81.4 170.9h.01M123.0 185.0h.01M104.1 194.1h.01M120.2 182.8h.01M101.7 201.2h.01M108.9 185.6h.01M79.4 191.6h.01M79.0 202.3h.01M164.4 189.6h.01M86.7 154.5h.01M103.2 187.8h.01M88.8 190.6h.01M123.2 200.8h.01M159.7 194.3h.01M92.1 203.0h.01M98.5 194.6h.01M94.4 200.1h.01M88.4 170.2h.01M78.8 191.5h.01M85.1 193.2h.01M90.1 170.1h.01M93.0 192.2h.01M88.8 170.8h.01M127.4 176.6h.01M84.9 185.6h.01M191.2 194.3h.01M164.0 182.7h.01M113.0 181.5h.01M92.8 195.2h.01M93.5 165.5h.01M91.0 186.8h.01M98.9 200.8h.01M98.0 184.3h.01M125.8 197.6h.01M145.2 199.4h.01M89.7 192.9h.01M108.1 189.5h.01M186.8 185.5h.01M118.5 194.6h.01M99.6 190.4h.01M111.4 184.3h.01M142.6 186.0h.01M137.9 192.7h.01M90.9 173.4h.01M155.6 187.3h.01M74.9 203.1h.01M89.8 185.0h.01M169.0 188.1h.01M130.8 199.4h.01M113.8 196.6h.01M149.8 197.7h.01M77.8 191.7h.01" stroke="#781c6d"/>
<path d="M80.5 189.2h.01M78.6 193.5h.01M84.4 182.3h.01" stroke="#ed6925"/>
<path d="M109.4 200.2h.01M115.3 199.8h.01" stroke="#fcffa4"/>
<path d="M104.4 176.5h.01M139.0 191.8h.01M126.4 170.7h.01M100.7 175.1h.01M127.0 189.1h.01M108.2 198.4h.01M80.3 182.4h.01M85.7 190.8h.01M155.4 202.1h.01M103.5 196.8h.01M91.1 180.6h.01M102.4 197.4h.01M132.7 194.7h.01M116.8 182.0h.01M89.0 160.2h.01M120.8 192.5h.01M152.1 198.3h.01M113.9 196.5h.01M151.1 183.0h.01M146.6 198.7h.01M97.2 202.0h.01M97.2 196.8h.01M135.5 186.1h.01M104.7 196.1h.01M108.2 201.7h.01M94.0 187.1h.01M145.0 183.1h.01M100.3 183.1h.01M106.6 195.2h.01M95.4 186.5h.01M124.6 202.8h.01M82.5 196.6h.01M102.0 189.4h.01M98.8 195.2h.01M123.0 190.5h.01M79.4 199.5h.01M110.7 194.5h.01M158.0 195.9h.01M78.5 182.4h.01M117.5 199.0h.01M127.5 184.2h.01M110.1 183.9h.01M96.1 176.5h.01M95.1 167.2h.01M101.1 190.7h.01M89.4 182.4h.01M129.6 191.1h.01M108.9 184.6h.01M94.8 172.4h.01M96.0 199.9h.01M82.2 199.5h.01M132.3 189.2h.01M89.7 183.0h.01M117.9 188.5h.01M103.0 192.7h.01M165.8 189.1h.01M100.4 174.4h.01M114.7 194.2h.01M110.4 202.6h.01" stroke="#781c6d"/>
<path d="M116.5 199.1h.01M82.3 187.8h.01M127.4 193.8h.01" stroke="#ed6925"/>
<path d="M81.7 194.8h.01M79.4 188.9h.01" stroke="#fcffa4"/>
<path d="M104.4 189.0h.01" stroke="#000004"/>
<path d="M86.3 156.5h.01M131.4 193.4h.01M105.7 198.7h.01M91.1 179.4h.01M164.4 191.1h.01M106.1 194.7h.01M104.9 185.0h.01M107.0 203.1h.01M108.6 195.5h.01M108.6 182.5h.01M128.1 200.4h.01M104.8 186.4h.01M111.0 201.2h.01M87.0 182.0h.01M121.0 183.0h.01M113.9 200.2h.01M143.0 184.6h.01M85.2 186.4h.01M91.6 180.1h.01M92.5 199.1h.01M89.4 180.9h.01M87.6 183.7h.01M88.0 185.6h.01M90.9 188.6h.01M100.0 193.0h.01M95.1 199.9h.01M73.8 202.3h.01M83.0 184.0h.01M86.0 199.2h.01M121.5 197.3h.01M116.2 171.7h.01M74.0 201.1h.01M119.5 201.1h.01M116.7 191.2h.01M102.6 180.3h.01M143.1 189.3h.01M119.0 193.6h.01M78.5 190.6h.01M89.1 203.2h.01M91.6 171.7h.01M142.0 202.1h.01M102.1 181.3h.01M137.2 191.1h.01M178.0 190.0h.01M144.3 172.1h.01M116.9 195.7h.01M114.3 196.7h.01M163.6 198.2h.01M106.7 171.4h.01M126.9 190.9h.01M106.2 199.8h.01M118.2 170.2h.01M88.6 201.0h.01M97.7 177.6h.01M91.0 203.0h.01M117.5 183.8h.01M157.9 191.2h.01M114.7 186.1h.01" stroke="#781c6d"/>
<path d="M119.7 197.7h.01" stroke="#ed6925"/>
<path d="M75.3 191.9h.01M78.4 184.8h.01M122.3 200.9h.01M77.2 187.9h.01" stroke="#fcffa4"/>
<path d="M93.3 193.9h.01" stroke="#000004"/>
<path d="M133.1 182.1h.01M138.2 188.6h.01M111.3 194.0h.01M78.5 188.5h.01M104.9 176.8h.01M91.1 178.2h.01M157.9 173.7h.01M86.5 179.3h.01M128.3 191.5h.01M114.7 182.7h.01M109.3 189.9h.01M87.1 173.7h.01M91.3 199.7h.01M138.8 189.6h.01M118.7 177.1h.01M97.8 191.3h.01M130.8 190.0h.01M109.7 171.4h.01M129.9 199.7h.01M81.2 177.9h.01M104.9 191.8h.01M136.2 186.2h.01M95.0 194.2h.01M85.4 184.6h.01M88.2 174.4h.01M104.8 188.6h.01M147.4 182.9h.01M111.3 198.2h.01M98.1 202.3h.01M106.5 186.7h.01M123.7 200.4h.01M88.0 202.3h.01M107.9 193.0h.01M112.8 198.5h.01M92.1 170.2h.01M123.0 196.6h.01M135.3 188.5h.01M90.6 159.3h.01M144.9 195.7h.01M184.1 200.3h.01M90.9 190.1h.01M140.1 178.9h.01M113.6 185.1h.01M111.5 186.9h.01M97.9 185.4h.01M105.7 179.4h.01M159.3 195.2h.01M110.9 184.4h.01M100.6 197.8h.01M120.8 186.3h.01M154.2 191.7h.01M89.2 185.8h.01M114.7 192.8h.01M90.1 165.9h.01M96.7 193.0h.01M86.4 187.8h.01M136.0 191.9h.01M100.0 174.8h.01M129.7 196.9h.01M107.6 192.0h.01M98.4 186.9h.01M116.9 178.0h.01" stroke="#781c6d"/>
<path d="M73.2 203.0h.01" stroke="#ed6925"/>
<path d="M87.6 199.9h.01M98.7 196.9h.01M118.4 193.0h.01M105.9 178.2h.01M82.0 195.0h.01M104.5 200.2h.01M100.3 185.6h.01M112.1 187.4h.01M164.8 190.9h.01M98.8 166.9h.01M97.6 181.0h.01M81.6 201.2h.01M152.5 193.2h.01M138.3 177.4h.01M104.5 172.6h.01M92.8 174.9h.01M130.0 197.0h.01M129.3 202.4h.01M85.3 159.9h.01M113.2 199.2h.01M93.5 196.6h.01M109.9 184.3h.01M87.4 197.4h.01M164.3 192.0h.01M97.9 185.6h.01M131.1 198.8h.01M85.9 195.3h.01M96.1 176.8h.01M113.8 195.6h.01M95.7 187.6h.01M143.7 190.0h.01M147.2 197.8h.01M88.0 182.5h.01M100.3 200.8h.01M185.5 193.7h.01M113.5 186.3h.01M79.4 182.8h.01M87.2 182.5h.01M95.3 186.0h.01M183.4 124.8h.01M137.1 139.9h.01M189.1 163.9h.01M133.9 152.6h.01M146.6 156.3h.01M159.1 166.4h.01M174.9 171.5h.01M181.2 184.1h.01" stroke="#781c6d"/>
<path d="M103.4 111.5h.01M96.2 116.6h.01M107.8 134.9h.01M138.7 138.7h.01M223.1 197.4h.01M185.9 199.9h.01M111.9 150.0h.01" stroke="#ed6925"/>
<path d="M110.5 199.1h.01M112.8 81.8h.01M126.1 146.9h.01M192.2 177.2h.01M208.0 195.5h.01M215.2 187.3h.01M192.2 196.8h.01M107.2 150.0h.01M165.4 176.6h.01M171.8 186.7h.01" stroke="#fcffa4"/>
</g>
<rect x="61.0" y="75.0" width="169.5" height="135.6" fill="none" stroke="#000" stroke-opacity="0.45" stroke-width="0.5"/>
<text x="67.8" y="219.0" text-anchor="middle" class="t">0</text>
<text x="99.3" y="219.0" text-anchor="middle" class="t">1</text>
<text x="130.8" y="219.0" text-anchor="middle" class="t">2</text>
<text x="162.3" y="219.0" text-anchor="middle" class="t">3</text>
<text x="193.8" y="219.0" text-anchor="middle" class="t">4</text>
<text x="225.3" y="219.0" text-anchor="middle" class="t">5</text>
<text x="58.5" y="208.3" text-anchor="end" class="t">0</text>
<text x="58.5" y="183.0" text-anchor="end" class="t">2</text>
<text x="58.5" y="157.8" text-anchor="end" class="t">4</text>
<text x="58.5" y="132.5" text-anchor="end" class="t">6</text>
<text x="58.5" y="107.3" text-anchor="end" class="t">8</text>
<text x="58.5" y="82.0" text-anchor="end" class="t">10</text>
<path d="M67.8 210.6v1.4M99.3 210.6v1.4M130.8 210.6v1.4M162.3 210.6v1.4M193.8 210.6v1.4M225.3 210.6v1.4M61.0 205.6h-1.4M61.0 180.3h-1.4M61.0 155.1h-1.4M61.0 129.8h-1.4M61.0 104.6h-1.4M61.0 79.3h-1.4" stroke="#000" stroke-opacity="0.6" stroke-width="0.5" fill="none"/>
<text x="145.6" y="73.0" text-anchor="middle" class="ti">(a) Calculated X vs. Y</text>
</g>
<g>
<rect x="264.2" y="75.0" width="169.5" height="135.6" fill="#669a9b"/>
<clipPath id="c01"><rect x="264.2" y="75.0" width="169.5" height="135.6"/></clipPath>
<g clip-path="url(#c01)" fill="none" stroke-width="1.45" stroke-linecap="square">
<path d="M282.4 185.1h.01M294.2 193.3h.01M298.5 197.4h.01M310.9 190.6h.01M292.0 174.3h.01M328.0 197.8h.01M299.5 193.6h.01M279.6 187.5h.01M301.5 197.3h.01M283.9 189.2h.01M344.1 198.5h.01M280.5 201.7h.01M300.3 191.8h.01M367.5 203.2h.01M292.3 178.8h.01M302.1 195.5h.01M304.0 191.1h.01M282.7 191.3h.01M305.7 199.8h.01M294.8 189.8h.01M282.4 203.2h.01M311.7 194.1h.01M340.4 198.2h.01M291.4 189.8h.01M291.5 186.1h.01M279.8 201.8h.01M307.6 184.8h.01M306.3 188.2h.01M282.3 197.8h.01M297.3 194.0h.01M298.7 193.4h.01M304.8 188.4h.01M343.2 199.4h.01M293.1 180.3h.01M294.5 181.6h.01M303.8 203.0h.01M278.0 201.3h.01M300.4 191.5h.01M281.9 193.5h.01M284.0 183.7h.01" stroke="#000004"/>
<path d="M298.8 156.9h.01M355.2 190.1h.01" stroke="#781c6d"/>
<path d="M324.3 190.0h.01M307.3 185.4h.01M314.5 183.5h.01M302.8 161.8h.01M293.8 170.8h.01M300.8 184.0h.01M296.2 169.1h.01M307.9 190.2h.01M342.1 182.4h.01M312.1 187.3h.01M294.1 177.6h.01M302.7 175.4h.01M317.2 184.7h.01M344.1 194.7h.01M289.5 173.8h.01M302.5 184.7h.01M324.6 191.9h.01M338.5 192.0h.01M336.4 188.7h.01M325.6 191.8h.01M379.9 196.2h.01" stroke="#ed6925"/>
<path d="M344.0 182.6h.01M380.5 189.3h.01" stroke="#fcffa4"/>
<path d="M288.4 161.3h.01M289.7 186.1h.01M299.8 200.7h.01M319.5 200.9h.01M283.4 186.8h.01M286.8 184.3h.01M280.6 197.3h.01M302.5 202.4h.01M319.8 200.0h.01M334.0 194.6h.01M313.2 198.9h.01M292.4 177.9h.01M278.6 199.7h.01M282.8 183.4h.01M285.8 196.3h.01M309.1 197.5h.01M289.1 178.6h.01M290.6 186.6h.01M288.0 182.5h.01M297.3 192.2h.01M285.0 183.2h.01M299.5 191.3h.01M284.9 186.1h.01M359.9 202.8h.01M294.1 195.8h.01M322.1 193.1h.01M321.3 191.9h.01M359.4 203.2h.01M315.4 189.8h.01M300.1 190.8h.01M302.9 196.0h.01M314.6 195.7h.01M286.4 198.5h.01" stroke="#000004"/>
<path d="M348.0 192.9h.01M306.6 168.2h.01M323.4 185.6h.01M344.2 191.4h.01M368.1 187.6h.01M350.5 185.3h.01" stroke="#781c6d"/>
<path d="M334.0 183.5h.01M308.1 187.4h.01M327.0 193.7h.01M299.7 185.7h.01M341.3 192.5h.01M313.5 192.8h.01M288.9 157.1h.01M301.8 188.6h.01M304.6 183.4h.01M294.1 181.3h.01M292.8 172.5h.01M298.3 184.9h.01M295.9 180.6h.01M325.5 184.4h.01M366.8 197.7h.01M315.3 179.7h.01M295.9 175.1h.01M298.3 174.9h.01M306.1 181.9h.01M303.9 181.0h.01M295.6 180.2h.01M293.4 169.2h.01M295.5 179.8h.01M301.1 181.9h.01M342.3 196.3h.01M337.1 194.0h.01" stroke="#ed6925"/>
<path d="M290.8 172.4h.01M315.7 203.3h.01M302.4 199.1h.01M289.7 197.7h.01M336.5 201.4h.01M314.1 200.1h.01M282.3 203.2h.01M298.9 190.2h.01M306.4 199.0h.01M280.5 200.8h.01M287.4 192.1h.01M280.9 197.0h.01M278.8 202.7h.01M283.0 182.0h.01M285.3 184.5h.01M326.7 199.3h.01M298.7 189.9h.01M314.7 196.5h.01M347.1 198.3h.01M295.3 192.0h.01M283.3 198.0h.01M286.2 183.2h.01M287.5 183.5h.01M286.2 193.6h.01M288.3 191.1h.01M307.9 180.3h.01M314.0 200.7h.01M300.3 201.3h.01M300.6 199.2h.01M308.1 194.6h.01M314.3 202.1h.01M285.5 198.0h.01M295.7 186.2h.01M297.0 190.6h.01M295.6 188.5h.01M298.5 195.9h.01M293.3 182.8h.01M347.3 202.7h.01M314.5 172.0h.01M290.0 196.0h.01M280.6 194.4h.01M324.7 199.1h.01" stroke="#000004"/>
<path d="M304.3 174.0h.01M308.0 169.9h.01" stroke="#781c6d"/>
<path d="M337.3 191.5h.01M343.0 195.5h.01M291.4 167.1h.01M289.4 166.9h.01M335.0 189.7h.01M344.7 182.4h.01M291.6 176.8h.01M351.4 195.6h.01M394.6 188.6h.01M305.4 190.2h.01M346.5 198.7h.01M311.3 190.0h.01M299.0 187.1h.01M328.1 187.1h.01M294.6 176.3h.01M355.5 196.9h.01M315.7 196.0h.01" stroke="#ed6925"/>
<path d="M338.5 175.1h.01M339.6 175.3h.01M351.3 186.5h.01M353.2 167.9h.01" stroke="#fcffa4"/>
<path d="M297.0 192.1h.01M333.6 196.7h.01M323.5 200.2h.01M288.6 195.1h.01M286.4 181.8h.01M320.8 194.3h.01M303.5 190.1h.01M308.7 195.0h.01M310.7 188.8h.01M296.0 196.2h.01M325.5 199.8h.01M318.7 188.9h.01M317.1 196.9h.01M343.6 199.2h.01M357.5 202.0h.01M304.2 199.1h.01M296.1 199.2h.01M299.7 191.2h.01M345.6 200.2h.01M287.6 187.7h.01M327.0 194.8h.01M320.8 193.6h.01M283.0 194.2h.01M308.3 190.7h.01M320.4 200.6h.01M292.4 191.2h.01M291.4 193.6h.01M292.9 194.0h.01M307.6 190.6h.01M287.6 188.1h.01M294.7 184.2h.01M324.9 192.9h.01M337.2 196.1h.01M334.0 189.3h.01M284.2 178.4h.01M357.5 200.3h.01M298.3 170.7h.01M298.7 189.4h.01" stroke="#000004"/>
<path d="M348.8 187.0h.01M344.8 190.0h.01M355.7 193.8h.01M324.9 181.7h.01M323.4 166.2h.01" stroke="#781c6d"/>
<path d="M328.2 195.1h.01M322.1 192.4h.01M293.8 185.9h.01M363.6 195.8h.01M307.9 188.7h.01M319.6 184.5h.01M339.1 196.8h.01M298.4 163.1h.01M340.7 196.2h.01M312.4 185.3h.01M341.4 190.7h.01M345.8 193.8h.01M345.5 190.9h.01M364.6 191.7h.01M289.2 175.5h.01M287.2 176.1h.01M325.1 190.2h.01M297.5 180.5h.01M317.3 180.3h.01M326.5 194.4h.01M333.6 182.9h.01" stroke="#ed6925"/>
<path d="M302.4 157.6h.01" stroke="#fcffa4"/>
<path d="M284.8 183.1h.01M309.3 182.6h.01M293.1 193.5h.01M290.7 193.7h.01M288.4 168.1h.01M348.6 201.8h.01M305.8 188.1h.01M281.5 193.2h.01M323.3 198.7h.01M304.0 193.5h.01M352.8 199.4h.01M290.8 182.8h.01M322.5 196.2h.01M285.5 202.6h.01M282.0 187.0h.01M322.3 198.3h.01M298.1 183.9h.01M297.6 184.2h.01M285.8 175.7h.01M304.6 200.0h.01M285.1 192.5h.01M283.8 176.2h.01M297.2 180.5h.01M312.6 193.7h.01M304.0 182.3h.01M292.3 190.5h.01M331.7 202.3h.01M290.6 196.6h.01M372.7 199.0h.01M320.5 198.5h.01M282.0 201.6h.01M280.0 192.5h.01M286.5 182.1h.01" stroke="#000004"/>
<path d="M332.9 189.0h.01M335.4 189.3h.01M329.5 178.0h.01M320.1 186.0h.01M348.6 185.5h.01M360.8 191.1h.01M369.3 190.6h.01M323.4 185.4h.01M314.2 172.0h.01" stroke="#781c6d"/>
<path d="M307.4 184.6h.01M325.0 186.1h.01M312.0 181.6h.01M323.2 191.8h.01M301.9 181.6h.01M333.6 194.2h.01M307.2 185.1h.01M289.6 172.9h.01M312.0 185.0h.01M318.7 185.1h.01M355.5 192.8h.01M306.6 177.7h.01M355.0 190.2h.01M311.3 193.2h.01M301.8 184.9h.01M293.1 180.5h.01M295.5 184.7h.01M297.3 183.8h.01M309.5 174.6h.01" stroke="#ed6925"/>
<path d="M317.5 162.6h.01M343.6 178.1h.01M323.8 176.4h.01" stroke="#fcffa4"/>
<path d="M289.8 198.3h.01M310.8 194.7h.01M312.6 180.9h.01M293.9 197.9h.01M294.2 189.0h.01M338.4 200.1h.01M296.8 178.0h.01M287.1 194.5h.01M285.4 177.9h.01M293.5 188.5h.01M280.5 188.1h.01M305.9 192.8h.01M287.4 185.6h.01M307.9 192.9h.01M287.6 187.4h.01M353.4 197.4h.01M305.3 190.2h.01M285.5 192.7h.01M298.4 196.4h.01M287.0 187.1h.01M309.3 191.7h.01M317.9 199.5h.01M292.5 179.7h.01M316.1 200.5h.01M305.8 184.4h.01M301.3 185.0h.01M349.3 185.9h.01M304.9 201.3h.01M298.2 193.4h.01M289.1 181.7h.01M323.8 199.0h.01M314.7 187.8h.01M307.5 187.8h.01M312.0 191.8h.01M289.9 195.2h.01M282.1 192.7h.01M294.1 198.1h.01M288.6 162.0h.01M322.1 196.3h.01M293.2 198.3h.01M311.2 195.2h.01M340.3 203.0h.01M312.0 199.1h.01" stroke="#000004"/>
<path d="M366.3 192.1h.01M334.2 182.6h.01" stroke="#781c6d"/>
<path d="M303.9 187.6h.01M346.2 193.3h.01M305.2 173.3h.01M316.2 189.0h.01M301.3 185.6h.01M323.7 191.6h.01M295.8 187.0h.01M324.7 189.5h.01M356.4 197.2h.01M310.1 175.2h.01M295.1 177.3h.01M315.7 184.9h.01M323.8 195.7h.01M331.1 184.8h.01M301.4 184.9h.01M329.2 191.7h.01M302.4 192.1h.01M306.7 181.4h.01" stroke="#ed6925"/>
<path d="M306.5 152.4h.01" stroke="#fcffa4"/>
<path d="M307.5 194.9h.01M324.2 199.8h.01M298.5 193.6h.01M304.1 194.1h.01M290.7 198.7h.01M289.1 184.9h.01M308.5 190.9h.01M290.5 195.4h.01M282.4 198.1h.01M301.8 181.8h.01M277.8 201.5h.01M317.8 199.3h.01M305.8 191.5h.01M318.1 196.5h.01M314.2 197.0h.01M291.5 189.2h.01M294.2 191.7h.01M292.8 198.2h.01M299.4 195.8h.01M297.4 194.2h.01M304.4 197.1h.01M364.2 202.3h.01M311.3 201.5h.01M291.5 180.5h.01M305.3 182.5h.01M308.8 196.8h.01M335.6 196.9h.01M294.8 189.6h.01M301.5 192.9h.01M300.3 192.0h.01M359.6 201.1h.01M287.5 190.2h.01M324.8 195.4h.01M282.3 179.2h.01M310.6 200.3h.01M297.6 188.5h.01M303.8 202.3h.01M322.4 199.6h.01M286.4 188.8h.01M292.6 195.1h.01M297.4 201.5h.01M288.0 188.9h.01M292.7 184.5h.01M284.3 179.0h.01M301.0 201.7h.01" stroke="#000004"/>
<path d="M333.3 180.9h.01M343.0 190.4h.01M329.0 182.3h.01M328.8 148.7h.01" stroke="#781c6d"/>
<path d="M338.7 185.7h.01M332.5 195.3h.01M297.5 183.4h.01M350.2 194.2h.01M303.4 181.5h.01M326.8 192.8h.01M327.4 192.2h.01M321.5 184.2h.01M302.9 189.6h.01M293.0 174.4h.01M319.5 194.0h.01M317.2 190.4h.01M287.3 172.8h.01" stroke="#ed6925"/>
<path d="M366.4 187.0h.01M354.4 187.9h.01" stroke="#fcffa4"/>
<path d="M302.5 184.7h.01M343.2 198.2h.01M322.8 198.6h.01M303.8 200.8h.01M327.1 192.6h.01M343.2 202.2h.01M346.3 200.8h.01M340.4 199.5h.01M299.5 198.9h.01M306.9 202.2h.01M299.9 190.3h.01M284.1 193.5h.01M310.0 200.1h.01M292.1 191.5h.01M338.4 199.4h.01M340.7 196.5h.01M308.8 196.9h.01M282.3 183.1h.01M319.6 194.1h.01M345.5 201.9h.01M307.7 194.1h.01M348.4 198.4h.01M293.8 188.1h.01M294.8 197.8h.01M282.9 184.8h.01M308.6 196.2h.01M295.5 190.6h.01M301.5 192.8h.01M319.8 199.0h.01M278.6 196.7h.01M344.7 197.2h.01M313.5 193.8h.01M293.2 182.9h.01M284.0 189.2h.01M330.6 191.3h.01M366.6 201.8h.01M306.5 194.2h.01M302.4 178.7h.01M326.9 203.2h.01M300.8 192.2h.01M284.8 194.1h.01M288.4 183.5h.01M287.7 165.9h.01M290.8 194.8h.01M285.8 188.9h.01M304.2 188.2h.01" stroke="#000004"/>
<path d="M350.3 187.9h.01M351.1 177.9h.01M336.9 188.9h.01" stroke="#781c6d"/>
<path d="M310.7 188.6h.01M320.3 183.4h.01M305.7 186.3h.01M344.1 197.3h.01M319.6 192.2h.01M304.8 178.9h.01M300.3 178.9h.01M335.0 193.7h.01M343.3 186.2h.01M318.2 187.5h.01M298.6 174.6h.01M330.4 188.9h.01M309.6 182.2h.01M295.1 178.4h.01" stroke="#ed6925"/>
<path d="M380.5 175.6h.01" stroke="#fcffa4"/>
<path d="M304.9 196.6h.01M283.9 189.9h.01M312.3 197.0h.01M289.3 194.3h.01M321.7 200.3h.01M341.6 201.6h.01M284.4 197.9h.01M322.5 194.5h.01M305.5 199.1h.01M314.4 202.4h.01M281.8 195.6h.01M304.5 192.2h.01M317.1 197.3h.01M305.8 197.0h.01M283.1 182.6h.01M298.7 198.7h.01M324.2 197.8h.01M298.5 194.2h.01M294.8 192.7h.01M283.7 171.8h.01M331.5 195.1h.01M338.3 199.7h.01M298.2 179.1h.01M309.0 196.0h.01M282.4 187.8h.01M285.3 187.4h.01M316.9 200.3h.01M282.5 185.1h.01M280.6 190.3h.01M291.1 193.7h.01M291.1 183.2h.01M293.6 201.6h.01M323.7 201.6h.01M283.2 196.1h.01M303.2 200.3h.01M285.7 197.8h.01M332.8 202.8h.01M292.7 185.1h.01M290.9 202.6h.01M294.0 196.6h.01M286.6 182.9h.01" stroke="#000004"/>
<path d="M381.0 195.4h.01M311.2 165.0h.01M304.3 166.0h.01" stroke="#781c6d"/>
<path d="M323.0 193.3h.01M306.6 178.2h.01M299.4 165.2h.01M302.5 181.5h.01M289.7 166.9h.01M296.4 177.2h.01M327.9 193.0h.01M306.6 185.3h.01M302.8 180.7h.01M315.1 187.2h.01M349.8 191.3h.01M319.4 177.0h.01M294.4 177.2h.01M327.4 186.9h.01M297.9 172.9h.01M295.5 169.9h.01M302.8 189.9h.01M354.4 200.3h.01" stroke="#ed6925"/>
<path d="M350.0 183.5h.01M356.4 166.5h.01" stroke="#fcffa4"/>
<path d="M329.4 192.9h.01M310.1 196.9h.01M287.7 170.9h.01M282.1 189.0h.01M298.7 193.6h.01M279.5 197.1h.01M282.9 188.1h.01M313.7 188.8h.01M343.4 192.2h.01M283.6 184.2h.01M305.2 197.4h.01M364.2 202.6h.01M290.1 202.9h.01M306.4 197.4h.01M313.1 199.1h.01M313.6 189.5h.01M284.0 196.2h.01M319.3 195.2h.01M348.9 198.1h.01M294.2 194.3h.01M322.6 199.5h.01M319.2 188.9h.01M300.1 197.3h.01M296.4 181.8h.01M338.1 194.9h.01M293.4 192.5h.01M288.0 192.3h.01M297.0 190.5h.01M309.4 201.7h.01M294.9 184.7h.01M338.3 188.5h.01M365.0 202.6h.01M300.7 200.1h.01M344.5 202.5h.01M320.2 198.3h.01M324.6 201.7h.01M328.2 197.6h.01M313.2 197.3h.01M354.2 200.5h.01M314.8 192.6h.01M294.5 198.6h.01M317.1 200.9h.01M307.5 186.7h.01M283.8 200.1h.01M292.7 192.5h.01M315.2 197.3h.01" stroke="#000004"/>
<path d="M338.4 182.7h.01M305.7 173.3h.01" stroke="#781c6d"/>
<path d="M347.8 195.9h.01M325.2 185.3h.01M387.8 197.0h.01M368.5 195.2h.01M319.5 190.2h.01M311.3 182.6h.01M304.8 175.3h.01M299.0 173.4h.01M293.8 167.3h.01M328.2 188.0h.01M297.7 179.1h.01M359.2 194.5h.01M338.3 198.7h.01M292.1 153.8h.01M313.3 187.8h.01" stroke="#ed6925"/>
<path d="M319.1 174.6h.01" stroke="#fcffa4"/>
<path d="M302.4 186.4h.01M279.1 192.2h.01M326.7 188.1h.01M287.2 198.5h.01M279.3 197.4h.01M317.0 195.7h.01M301.5 194.5h.01M361.1 199.0h.01M315.2 199.6h.01M277.5 194.0h.01M309.4 195.3h.01M314.0 200.1h.01M325.3 193.9h.01M276.6 197.7h.01M332.0 202.5h.01M315.2 202.2h.01M285.1 194.6h.01M286.0 193.5h.01M293.4 200.6h.01M324.8 198.5h.01M315.5 197.4h.01M337.4 201.1h.01M282.0 198.0h.01M308.6 192.7h.01M296.7 189.5h.01M286.9 188.2h.01M296.3 182.9h.01M290.9 193.7h.01M302.4 202.7h.01M368.5 202.2h.01M301.0 185.3h.01M283.6 186.7h.01M320.1 198.2h.01M294.2 193.6h.01M287.0 194.5h.01M287.7 179.3h.01M334.2 188.1h.01M282.8 187.7h.01M292.8 197.3h.01" stroke="#000004"/>
<path d="M382.3 185.1h.01M354.8 185.6h.01M351.9 192.1h.01" stroke="#781c6d"/>
<path d="M308.3 177.3h.01M355.5 194.4h.01M370.1 187.8h.01M291.1 166.4h.01M290.0 167.9h.01M314.8 186.1h.01M296.8 148.4h.01M290.2 156.4h.01M286.9 166.2h.01M285.8 172.6h.01M315.3 186.7h.01M318.3 193.2h.01M339.6 193.6h.01M307.2 186.5h.01M299.9 168.1h.01M322.2 189.3h.01M302.5 190.7h.01M330.7 194.7h.01" stroke="#ed6925"/>
<path d="M347.7 165.3h.01M360.2 187.6h.01M353.7 169.6h.01M335.7 171.9h.01" stroke="#fcffa4"/>
<path d="M301.3 189.4h.01M303.4 203.4h.01M348.7 202.3h.01M319.0 201.8h.01M310.2 198.0h.01M288.3 197.5h.01M315.0 202.4h.01M289.0 185.8h.01M283.3 193.7h.01M281.5 196.7h.01M283.4 195.2h.01M345.6 201.1h.01M297.3 197.8h.01M303.6 199.6h.01M316.7 200.5h.01M336.6 202.6h.01M320.1 193.0h.01M288.7 186.5h.01M278.5 198.4h.01M288.0 198.6h.01M333.8 203.3h.01M290.9 179.8h.01M286.6 173.9h.01M288.3 187.8h.01M354.1 200.6h.01M314.1 197.2h.01M345.9 190.6h.01M281.9 182.1h.01M289.9 191.3h.01M315.9 197.5h.01M288.6 185.0h.01M286.7 183.6h.01M282.6 197.1h.01M301.6 191.5h.01" stroke="#000004"/>
<path d="M335.6 182.7h.01M345.7 182.7h.01M339.0 185.9h.01M344.9 188.6h.01M374.2 189.3h.01M301.5 169.8h.01M327.6 187.9h.01M296.8 161.4h.01M317.1 176.2h.01M314.8 172.3h.01M317.8 167.2h.01" stroke="#781c6d"/>
<path d="M374.7 195.6h.01M300.4 184.9h.01M314.4 186.9h.01M312.9 186.8h.01M374.1 197.2h.01M300.2 182.5h.01M308.1 191.0h.01M297.2 156.7h.01M286.2 164.7h.01M315.5 195.6h.01M320.3 190.9h.01M346.9 193.0h.01M310.0 189.6h.01M303.8 175.4h.01M323.5 196.0h.01M312.1 161.9h.01M323.9 186.0h.01M326.1 186.3h.01" stroke="#ed6925"/>
<path d="M305.4 150.0h.01" stroke="#fcffa4"/>
<path d="M299.4 199.5h.01M289.5 197.3h.01M325.8 202.5h.01M293.2 197.0h.01M303.7 193.8h.01M285.7 183.0h.01M306.8 198.2h.01M305.0 197.5h.01M288.0 195.6h.01M296.7 194.5h.01M293.3 188.4h.01M313.2 194.4h.01M297.8 185.3h.01M289.4 182.7h.01M296.7 195.9h.01M287.9 184.3h.01M282.0 201.9h.01M297.8 202.2h.01M286.9 182.2h.01M297.2 187.6h.01M304.9 189.3h.01M279.5 198.2h.01M296.6 182.8h.01M359.8 200.7h.01M299.3 185.5h.01M347.5 201.3h.01M318.6 197.8h.01M292.1 202.6h.01M293.6 192.4h.01M316.3 197.8h.01M376.7 201.8h.01M298.0 186.4h.01M294.0 196.0h.01M318.7 190.8h.01M283.4 183.9h.01M287.0 172.8h.01M292.5 191.5h.01M299.0 190.4h.01M290.2 183.9h.01" stroke="#000004"/>
<path d="M327.5 182.8h.01M315.0 172.7h.01M325.4 181.5h.01M311.7 166.5h.01" stroke="#781c6d"/>
<path d="M325.3 190.0h.01M317.2 194.7h.01M312.7 186.2h.01M306.8 183.6h.01M327.6 191.2h.01M353.8 191.1h.01M319.5 185.9h.01M293.6 170.6h.01M333.4 188.2h.01M325.2 189.8h.01M349.4 199.6h.01M317.7 182.7h.01M335.9 186.7h.01M350.0 191.1h.01M320.8 192.7h.01M306.7 190.1h.01M367.1 193.0h.01M341.0 195.3h.01" stroke="#ed6925"/>
<path d="M320.8 161.0h.01M360.2 184.9h.01M367.9 187.7h.01" stroke="#fcffa4"/>
<path d="M292.3 187.2h.01M281.4 188.4h.01M281.7 194.4h.01M296.9 199.6h.01M285.3 180.0h.01M318.7 197.7h.01M293.3 186.4h.01M294.9 186.9h.01M278.6 195.6h.01M288.2 191.3h.01M290.1 177.1h.01M288.5 185.8h.01M344.7 197.4h.01M292.6 202.9h.01M301.0 193.0h.01M298.3 199.7h.01M310.5 200.6h.01M285.4 192.8h.01M315.7 194.2h.01M296.2 197.3h.01M299.3 183.1h.01M284.7 203.1h.01M347.2 200.7h.01M287.8 186.7h.01M295.7 192.0h.01M301.8 197.0h.01M297.2 178.6h.01M288.4 185.7h.01M299.4 194.9h.01M297.2 194.2h.01M285.7 196.0h.01M314.0 202.6h.01M280.3 184.8h.01M296.4 193.0h.01M283.5 184.2h.01" stroke="#000004"/>
<path d="M376.3 183.2h.01M303.9 163.9h.01M308.3 171.1h.01M307.5 174.6h.01" stroke="#781c6d"/>
<path d="M310.6 182.4h.01M293.2 165.4h.01M337.0 190.8h.01M310.9 173.2h.01M319.1 181.9h.01M344.0 197.1h.01M331.4 198.9h.01M345.1 181.8h.01M299.0 160.6h.01M312.5 190.7h.01M349.7 194.1h.01M306.2 173.6h.01M317.8 190.4h.01M319.8 183.6h.01M312.6 192.7h.01M322.6 193.6h.01M370.7 186.1h.01M355.4 196.6h.01M342.7 197.8h.01M302.1 178.0h.01M296.0 164.1h.01M340.9 191.2h.01M307.6 188.6h.01M365.9 199.9h.01M336.9 196.4h.01" stroke="#ed6925"/>
<path d="M314.1 199.2h.01M287.9 192.8h.01M287.7 188.2h.01M285.2 196.0h.01M315.6 193.3h.01M289.7 186.1h.01M365.0 199.6h.01M287.0 197.4h.01M354.4 199.3h.01M311.9 201.7h.01M285.0 189.4h.01M302.4 199.3h.01M322.5 194.6h.01M284.8 189.8h.01M301.9 188.2h.01M282.1 194.9h.01M286.6 168.6h.01M280.7 198.8h.01M354.3 199.1h.01M293.8 194.1h.01M363.1 199.2h.01M304.3 191.8h.01M280.7 192.2h.01M281.5 188.1h.01M288.2 182.1h.01M293.6 190.0h.01M284.0 177.3h.01M327.7 198.2h.01M316.7 198.3h.01M287.7 178.4h.01M338.9 203.3h.01M285.6 184.0h.01M309.4 199.4h.01M286.0 183.3h.01M282.2 186.5h.01M289.2 198.0h.01M285.6 190.4h.01M293.2 179.1h.01M320.3 194.7h.01M278.6 202.6h.01M286.6 191.2h.01" stroke="#000004"/>
<path d="M344.0 181.5h.01M334.0 177.9h.01" stroke="#781c6d"/>
<path d="M314.4 180.9h.01M315.1 192.1h.01M290.7 183.1h.01M355.0 195.2h.01M290.7 165.0h.01M295.1 174.2h.01M304.4 183.1h.01M301.3 173.3h.01M305.1 181.9h.01M324.7 194.0h.01M309.3 192.8h.01M340.2 195.5h.01M300.1 171.5h.01M388.1 197.7h.01M336.5 191.3h.01M311.5 176.1h.01M326.3 189.4h.01M323.3 188.6h.01M309.6 189.9h.01M338.2 194.1h.01" stroke="#ed6925"/>
<path d="M392.5 183.6h.01" stroke="#fcffa4"/>
<path d="M288.9 190.9h.01M361.7 200.6h.01M304.4 203.1h.01M305.8 198.5h.01M282.2 195.1h.01M280.0 187.8h.01M283.7 198.3h.01M280.5 191.6h.01M291.5 187.7h.01M293.0 182.3h.01M324.2 194.4h.01M305.9 185.5h.01M292.7 198.6h.01M292.9 199.8h.01M281.6 201.4h.01M298.6 192.2h.01M294.8 185.1h.01M299.1 197.8h.01M303.5 189.6h.01M316.3 201.5h.01M307.5 193.1h.01M312.3 193.3h.01M279.5 194.9h.01M321.8 197.5h.01M286.1 175.1h.01M338.9 202.9h.01M283.0 175.4h.01M364.6 202.0h.01M291.1 173.6h.01M325.5 200.9h.01M315.4 201.6h.01M279.0 190.6h.01M287.4 167.3h.01M320.2 198.6h.01M299.7 194.3h.01M306.3 203.7h.01M306.6 189.4h.01M290.9 185.9h.01M303.4 183.2h.01M295.6 196.0h.01" stroke="#000004"/>
<path d="M385.0 192.9h.01M322.7 181.3h.01" stroke="#781c6d"/>
<path d="M290.3 177.4h.01M312.5 189.1h.01M316.7 175.4h.01M305.2 184.5h.01M325.7 195.6h.01M303.2 182.6h.01M354.1 196.9h.01M296.1 182.6h.01M341.0 185.0h.01M307.7 166.2h.01M370.6 196.2h.01M298.4 183.7h.01M312.6 182.9h.01M317.4 180.4h.01M298.0 171.7h.01M319.3 190.9h.01M317.4 192.1h.01M288.9 174.3h.01M301.0 162.4h.01M396.2 199.2h.01" stroke="#ed6925"/>
<path d="M378.1 188.3h.01M369.4 190.2h.01" stroke="#fcffa4"/>
<path d="M288.2 196.0h.01M287.5 186.9h.01M323.9 194.6h.01M335.9 199.4h.01M287.7 202.4h.01M318.1 200.8h.01M292.1 199.3h.01M291.5 202.8h.01M282.8 193.0h.01M293.5 188.2h.01M284.2 186.9h.01M290.5 182.7h.01M285.8 191.8h.01M284.3 195.8h.01M292.2 184.5h.01M291.4 192.6h.01M356.5 202.4h.01M294.7 192.1h.01M288.0 181.6h.01M326.6 197.0h.01M304.4 199.4h.01M296.5 201.6h.01M288.0 183.3h.01M303.7 193.8h.01M289.4 192.9h.01M286.9 198.7h.01M309.0 192.9h.01M296.1 188.4h.01M299.2 192.7h.01M296.7 192.9h.01M322.1 198.8h.01M287.5 188.6h.01M332.2 199.3h.01" stroke="#000004"/>
<path d="M368.7 194.1h.01M323.0 175.8h.01M317.4 167.3h.01M336.9 184.5h.01M333.1 181.4h.01M329.5 188.6h.01" stroke="#781c6d"/>
<path d="M367.3 200.1h.01M317.4 176.1h.01M289.1 172.6h.01M301.4 179.2h.01M378.4 196.4h.01M299.1 181.0h.01M295.4 186.4h.01M290.4 170.3h.01M286.3 177.3h.01M301.8 183.3h.01M311.7 193.5h.01M292.9 162.0h.01M321.9 187.5h.01M334.9 197.3h.01M323.4 188.8h.01M301.3 187.1h.01M340.0 186.1h.01M294.1 169.3h.01M350.6 199.0h.01M337.9 193.1h.01M300.6 181.5h.01M335.3 186.3h.01M341.1 191.2h.01" stroke="#ed6925"/>
<path d="M316.5 168.3h.01M325.4 165.1h.01" stroke="#fcffa4"/>
<path d="M282.0 193.2h.01M373.5 195.9h.01M306.7 202.9h.01M291.1 181.7h.01M341.4 196.2h.01M301.6 196.7h.01M282.9 189.0h.01M287.0 189.9h.01M304.2 195.9h.01M291.5 174.8h.01M283.8 193.7h.01M298.8 188.0h.01M303.0 192.8h.01M286.4 189.2h.01M292.4 202.6h.01M321.2 193.6h.01M321.6 199.8h.01M312.9 195.2h.01M308.2 195.6h.01M284.6 180.2h.01M307.7 193.6h.01M308.0 200.4h.01M287.8 199.3h.01M294.0 191.2h.01M320.2 198.0h.01M296.5 197.3h.01M283.4 194.1h.01M334.4 196.7h.01M289.0 171.6h.01M369.5 201.6h.01M283.0 187.8h.01M293.2 196.3h.01M287.5 187.1h.01M299.5 196.8h.01M342.0 199.2h.01M308.4 184.4h.01M316.2 201.9h.01M314.0 196.5h.01M288.9 187.6h.01M294.3 183.4h.01M277.3 200.6h.01M282.9 181.6h.01" stroke="#000004"/>
<path d="M317.3 178.6h.01M333.6 187.5h.01M306.8 163.3h.01" stroke="#781c6d"/>
<path d="M300.2 177.7h.01M342.5 196.8h.01M302.8 178.9h.01M365.2 198.8h.01M305.1 172.7h.01M341.5 185.6h.01M291.6 178.1h.01M304.7 182.6h.01M310.8 182.7h.01M322.3 189.9h.01M335.1 189.3h.01M346.4 193.8h.01M351.3 191.2h.01M296.9 183.0h.01" stroke="#ed6925"/>
<path d="M316.8 171.8h.01M329.4 178.7h.01M364.2 186.3h.01M357.1 183.7h.01M363.5 172.2h.01" stroke="#fcffa4"/>
<path d="M290.0 192.0h.01M292.8 182.2h.01M333.4 197.6h.01M339.8 202.7h.01M319.8 193.2h.01M281.0 199.3h.01M320.6 199.8h.01M296.0 181.5h.01M328.3 200.5h.01M279.7 199.6h.01M287.8 191.0h.01M279.5 199.1h.01M297.0 189.3h.01M332.4 198.3h.01M347.2 199.2h.01M282.3 189.5h.01M308.3 190.4h.01M315.9 184.6h.01M309.6 202.3h.01M318.9 198.7h.01M295.2 193.2h.01M352.1 198.3h.01M338.4 191.8h.01M300.2 187.6h.01M320.6 199.7h.01M292.7 184.9h.01M305.6 196.6h.01M295.0 177.1h.01M287.4 184.3h.01M332.4 198.5h.01M284.9 198.6h.01M305.5 179.8h.01M326.2 196.4h.01M287.5 186.1h.01" stroke="#000004"/>
<path d="M297.4 156.0h.01M340.2 185.3h.01M317.0 171.0h.01M312.9 183.0h.01M321.5 185.2h.01M373.3 189.4h.01M350.1 187.8h.01M329.7 178.8h.01" stroke="#781c6d"/>
<path d="M320.0 190.8h.01M320.7 185.9h.01M325.1 196.2h.01M327.9 174.3h.01M294.4 181.4h.01M331.4 197.4h.01M327.4 173.7h.01M297.1 175.9h.01M304.4 185.4h.01M295.9 151.2h.01M317.1 188.7h.01M350.0 192.4h.01M309.1 177.3h.01M312.4 180.6h.01M300.9 182.7h.01M330.9 191.2h.01M341.2 194.1h.01M312.9 191.8h.01M311.5 185.0h.01M392.7 198.4h.01M315.0 177.8h.01" stroke="#ed6925"/>
<path d="M372.4 181.5h.01" stroke="#fcffa4"/>
<path d="M285.0 199.2h.01M326.6 192.5h.01M291.6 194.1h.01M316.0 195.9h.01M289.5 181.0h.01M286.0 184.7h.01M326.8 198.7h.01M283.3 189.3h.01M357.6 198.7h.01M293.4 193.1h.01M286.7 186.3h.01M342.0 198.3h.01M284.7 186.2h.01M307.6 183.8h.01M290.8 176.8h.01M287.8 190.0h.01M292.7 196.6h.01M308.7 192.8h.01M295.7 198.4h.01M344.6 200.6h.01M298.1 189.8h.01M322.6 197.8h.01M317.8 201.8h.01M326.1 203.7h.01M310.9 191.1h.01M322.4 190.9h.01M284.4 190.3h.01M349.7 201.0h.01M304.6 192.1h.01M288.4 194.0h.01M285.2 202.7h.01M294.3 196.2h.01M357.0 200.6h.01M289.1 184.6h.01M352.0 197.2h.01M296.4 197.4h.01M301.4 182.8h.01M283.3 191.7h.01M286.3 184.2h.01M296.1 183.5h.01M282.9 185.2h.01M302.1 188.4h.01M306.3 199.3h.01" stroke="#000004"/>
<path d="M342.1 186.8h.01M304.3 171.0h.01M311.8 175.5h.01M312.3 171.0h.01" stroke="#781c6d"/>
<path d="M311.0 173.6h.01M353.3 189.7h.01M298.4 181.6h.01M308.8 185.2h.01M344.0 192.1h.01M324.3 180.8h.01M313.4 182.4h.01M331.9 196.9h.01M312.0 188.1h.01M290.4 181.3h.01M298.4 181.8h.01M311.4 190.2h.01M316.3 188.7h.01M298.8 178.5h.01M316.4 191.5h.01M289.2 160.4h.01" stroke="#ed6925"/>
<path d="M351.6 175.6h.01" stroke="#fcffa4"/>
<path d="M286.9 196.3h.01M294.0 191.5h.01M291.2 200.0h.01M279.5 199.4h.01M326.6 200.2h.01M294.4 197.8h.01M322.1 192.1h.01M293.1 190.4h.01M292.0 193.9h.01M311.3 199.7h.01M303.6 201.8h.01M295.9 189.6h.01M287.5 181.1h.01M282.7 180.5h.01M297.4 182.1h.01M287.1 181.8h.01M312.3 189.2h.01M290.9 196.0h.01M321.9 191.6h.01M356.6 202.8h.01M294.5 179.6h.01M311.1 197.3h.01M341.3 197.3h.01M307.3 188.6h.01M280.7 197.1h.01M292.1 189.9h.01M279.7 187.0h.01M294.3 184.3h.01M282.6 197.4h.01M287.6 197.7h.01M308.5 187.1h.01M291.4 177.9h.01M320.5 197.8h.01M291.5 190.0h.01" stroke="#000004"/>
<path d="M363.0 188.4h.01M300.4 169.5h.01M333.8 186.2h.01M298.6 163.1h.01M392.8 191.0h.01" stroke="#781c6d"/>
<path d="M302.5 178.8h.01M322.8 190.7h.01M339.7 192.0h.01M334.8 191.7h.01M316.5 186.2h.01M325.1 192.1h.01M349.0 194.1h.01M305.9 185.3h.01M366.4 196.4h.01M321.3 177.5h.01M314.7 186.9h.01M336.8 191.6h.01M303.4 191.4h.01M311.9 187.0h.01M336.4 191.5h.01M293.5 186.4h.01M308.2 178.7h.01M366.4 196.5h.01M315.8 181.3h.01M325.1 194.9h.01M315.2 174.4h.01M306.7 187.8h.01M337.5 198.0h.01M306.2 187.6h.01" stroke="#ed6925"/>
<path d="M356.4 184.8h.01" stroke="#fcffa4"/>
<path d="M282.0 197.7h.01M315.3 201.1h.01M290.3 197.4h.01M282.2 196.7h.01M312.3 192.0h.01M302.6 194.3h.01M281.6 198.6h.01M293.4 186.4h.01M300.7 200.0h.01M304.3 194.9h.01M334.6 202.1h.01M296.8 190.2h.01M312.5 201.9h.01M287.2 197.4h.01M288.7 190.8h.01M305.4 194.3h.01M289.8 177.3h.01M280.9 191.0h.01M289.1 197.5h.01M277.3 197.2h.01M351.9 200.4h.01M291.1 186.8h.01M281.4 192.3h.01M287.4 193.3h.01M294.3 190.3h.01M301.9 202.7h.01M287.6 193.1h.01M297.4 202.3h.01M328.5 200.8h.01M292.0 198.1h.01M307.7 199.7h.01M291.9 178.5h.01M281.0 199.2h.01M317.9 197.2h.01M302.0 201.6h.01M318.4 201.9h.01M279.2 195.5h.01M309.9 194.9h.01M320.4 196.9h.01" stroke="#000004"/>
<path d="M335.4 182.7h.01M381.4 188.7h.01M308.3 165.8h.01M381.2 192.0h.01M335.6 190.0h.01" stroke="#781c6d"/>
<path d="M290.3 156.8h.01M367.9 196.4h.01M336.2 189.5h.01M315.9 188.8h.01M294.5 184.9h.01M367.8 196.1h.01M322.3 189.7h.01M321.3 184.7h.01M296.0 167.8h.01M336.6 195.8h.01M299.6 188.1h.01M302.3 181.3h.01M324.4 192.4h.01M300.7 165.2h.01M372.1 195.2h.01M299.7 181.8h.01M334.0 196.9h.01M319.8 185.8h.01" stroke="#ed6925"/>
<path d="M320.1 168.2h.01M331.8 177.4h.01" stroke="#fcffa4"/>
<path d="M291.7 191.8h.01M322.3 195.9h.01M329.6 199.5h.01M331.0 203.0h.01M301.2 191.2h.01M290.3 195.6h.01M285.2 199.6h.01M282.5 194.9h.01M295.2 182.8h.01M306.1 192.1h.01M290.3 191.7h.01M311.6 182.6h.01M284.8 190.0h.01M283.8 181.1h.01M293.1 197.6h.01M301.4 181.5h.01M285.5 197.3h.01M284.6 195.9h.01M314.8 195.4h.01M292.4 200.0h.01M278.8 194.2h.01M326.6 193.5h.01M293.6 196.4h.01M297.4 193.7h.01M295.9 191.0h.01M306.5 195.4h.01M339.1 203.3h.01M287.9 201.0h.01M309.0 197.0h.01M295.6 194.7h.01M288.0 180.3h.01M354.8 200.7h.01M327.2 199.7h.01M281.8 197.9h.01M350.5 202.8h.01M345.8 195.4h.01M285.4 189.0h.01M331.8 201.3h.01M350.1 200.5h.01M335.1 200.5h.01" stroke="#000004"/>
<path d="M305.8 177.6h.01M345.5 184.1h.01M317.5 181.6h.01M312.1 173.3h.01M292.0 148.1h.01M329.7 186.9h.01" stroke="#781c6d"/>
<path d="M323.2 183.4h.01M315.8 193.0h.01M327.9 188.1h.01M312.7 181.9h.01M294.4 172.5h.01M344.9 194.3h.01M289.0 170.2h.01M321.8 182.9h.01M320.6 192.5h.01M339.4 188.4h.01M335.1 182.9h.01M318.2 191.1h.01M290.3 182.3h.01M287.5 175.6h.01M316.5 186.4h.01M331.7 190.4h.01M392.6 194.9h.01" stroke="#ed6925"/>
<path d="M385.8 176.8h.01" stroke="#fcffa4"/>
<path d="M331.7 194.9h.01M314.8 198.8h.01M344.7 201.2h.01M356.8 201.6h.01M323.4 196.0h.01M283.1 181.3h.01M324.7 197.7h.01M286.8 194.6h.01M317.1 201.1h.01M306.6 201.9h.01M286.4 194.8h.01M321.0 194.7h.01M287.2 199.3h.01M351.1 202.4h.01M330.4 200.9h.01M286.2 198.0h.01M328.2 190.0h.01M334.5 201.1h.01M298.1 199.1h.01M317.3 197.8h.01M290.1 198.2h.01M286.4 171.5h.01M286.0 194.6h.01M281.3 187.8h.01M298.4 192.0h.01M304.4 181.7h.01M292.2 202.5h.01M285.0 194.1h.01M291.9 168.2h.01M306.3 193.9h.01M281.8 181.5h.01M282.8 183.5h.01M292.5 195.7h.01M290.4 188.6h.01M308.5 188.8h.01M288.8 192.7h.01" stroke="#000004"/>
<path d="M332.7 180.4h.01M335.2 180.7h.01M319.8 176.5h.01M295.5 160.9h.01M351.5 192.2h.01" stroke="#781c6d"/>
<path d="M318.6 185.7h.01M299.0 184.5h.01M294.7 152.9h.01M379.0 196.1h.01M291.8 174.9h.01M335.8 196.3h.01M328.3 191.3h.01M329.1 193.9h.01M323.2 184.1h.01M318.5 187.6h.01M304.2 188.2h.01M314.0 186.1h.01M325.5 177.5h.01M328.5 192.2h.01M361.0 197.9h.01M359.0 192.2h.01M292.0 154.5h.01M355.1 198.6h.01M293.5 158.4h.01M325.8 184.0h.01M321.9 193.3h.01M319.2 189.5h.01" stroke="#ed6925"/>
<path d="M355.7 177.4h.01" stroke="#fcffa4"/>
<path d="M308.0 192.2h.01M290.5 169.6h.01M289.9 191.1h.01M306.5 196.5h.01M296.4 194.7h.01M304.1 193.5h.01M288.3 190.2h.01M302.9 190.4h.01M300.7 193.6h.01M289.6 195.4h.01M286.1 195.1h.01M317.5 194.1h.01M291.9 197.1h.01M290.8 183.1h.01M287.8 199.3h.01M289.1 189.0h.01M304.3 200.4h.01M291.7 203.3h.01M293.2 196.2h.01M281.0 198.9h.01M286.9 194.5h.01M291.7 186.5h.01M284.7 198.9h.01M319.6 196.4h.01M292.0 195.7h.01M326.6 203.1h.01M301.7 190.1h.01M306.7 200.9h.01M301.0 193.0h.01M321.6 203.3h.01M292.5 195.6h.01M338.5 199.4h.01" stroke="#000004"/>
<path d="M329.9 182.8h.01" stroke="#781c6d"/>
<path d="M313.8 193.7h.01M297.7 182.2h.01M329.7 181.9h.01M356.2 192.8h.01M311.2 163.8h.01M318.1 184.4h.01M368.6 196.2h.01M318.5 186.7h.01M301.6 181.4h.01M305.6 177.4h.01M318.0 187.2h.01M330.9 189.1h.01M303.5 177.7h.01M306.4 191.7h.01M325.5 190.1h.01M363.2 197.4h.01M317.5 191.3h.01M292.6 152.1h.01M312.5 189.2h.01M344.1 190.5h.01M352.6 188.4h.01M303.1 189.8h.01M357.8 195.8h.01M302.0 184.9h.01M316.1 185.4h.01M295.8 163.2h.01M320.6 183.1h.01" stroke="#ed6925"/>
<path d="M310.3 150.5h.01M361.1 179.1h.01M378.1 180.3h.01M345.5 183.1h.01" stroke="#fcffa4"/>
<path d="M290.1 185.8h.01M334.9 203.1h.01M306.0 185.9h.01M309.2 196.9h.01M310.3 197.3h.01M301.3 201.4h.01M312.6 200.2h.01M284.6 170.9h.01M307.3 194.1h.01M304.9 201.2h.01M282.6 191.6h.01M282.2 202.3h.01M292.0 190.6h.01M326.4 200.8h.01M295.3 203.0h.01M301.7 194.6h.01M297.6 200.1h.01M282.0 191.5h.01M288.3 193.2h.01M296.2 192.2h.01M288.1 185.6h.01M296.0 195.2h.01M283.7 189.2h.01M302.1 200.8h.01M329.0 197.6h.01M292.9 192.9h.01M311.3 189.5h.01M281.8 193.5h.01M278.1 203.1h.01M293.0 185.0h.01M318.5 199.8h.01M287.6 182.3h.01M334.0 199.4h.01M317.0 196.6h.01M353.0 197.7h.01M281.0 191.7h.01" stroke="#000004"/>
<path d="M326.2 185.0h.01M323.4 182.8h.01M362.9 194.3h.01M330.6 176.6h.01M316.2 181.5h.01M296.7 165.5h.01M345.8 186.0h.01M372.2 188.1h.01" stroke="#781c6d"/>
<path d="M297.8 180.5h.01M312.1 185.6h.01M289.9 154.5h.01M306.4 187.8h.01M291.6 170.2h.01M293.3 170.1h.01M292.0 170.8h.01M394.4 194.3h.01M294.2 186.8h.01M301.2 184.3h.01M348.4 199.4h.01M321.7 194.6h.01M302.8 190.4h.01M314.6 184.3h.01M341.1 192.7h.01M294.1 173.4h.01" stroke="#ed6925"/>
<path d="M367.6 189.6h.01M367.2 182.7h.01M390.0 185.5h.01M358.8 187.3h.01" stroke="#fcffa4"/>
<path d="M311.4 198.4h.01M283.5 182.4h.01M288.9 190.8h.01M358.6 202.1h.01M306.7 196.8h.01M294.3 180.6h.01M305.6 197.4h.01M284.9 194.8h.01M300.4 202.0h.01M300.4 196.8h.01M307.9 196.1h.01M311.4 201.7h.01M309.8 195.2h.01M327.8 202.8h.01M285.7 196.6h.01M302.0 195.2h.01M319.7 199.1h.01M282.6 199.5h.01M361.2 195.9h.01M281.7 182.4h.01M320.7 199.0h.01M285.5 187.8h.01M304.3 190.7h.01M292.6 182.4h.01M282.6 188.9h.01M299.2 199.9h.01M285.4 199.5h.01M306.2 192.7h.01M317.9 194.2h.01M313.6 202.6h.01" stroke="#000004"/>
<path d="M320.0 182.0h.01M354.3 183.0h.01M338.7 186.1h.01" stroke="#781c6d"/>
<path d="M307.6 176.5h.01M342.2 191.8h.01M303.9 175.1h.01M330.2 189.1h.01M335.9 194.7h.01M292.2 160.2h.01M324.0 192.5h.01M355.3 198.3h.01M317.1 196.5h.01M349.8 198.7h.01M297.2 187.1h.01M348.2 183.1h.01M303.5 183.1h.01M298.6 186.5h.01M305.2 189.4h.01M326.2 190.5h.01M313.9 194.5h.01M330.7 184.2h.01M313.3 183.9h.01M299.3 176.5h.01M298.3 167.2h.01M332.8 191.1h.01M312.1 184.6h.01M298.0 172.4h.01M335.5 189.2h.01M292.9 183.0h.01M330.6 193.8h.01M321.1 188.5h.01M369.0 189.1h.01M303.6 174.4h.01" stroke="#ed6925"/>
<path d="M329.6 170.7h.01" stroke="#fcffa4"/>
<path d="M308.9 198.7h.01M278.5 191.9h.01M309.3 194.7h.01M322.9 197.7h.01M310.2 203.1h.01M311.8 195.5h.01M331.3 200.4h.01M308.0 186.4h.01M314.2 201.2h.01M290.2 182.0h.01M281.6 184.8h.01M317.1 200.2h.01M288.4 186.4h.01M295.7 199.1h.01M290.8 183.7h.01M291.2 185.6h.01M294.1 188.6h.01M303.2 193.0h.01M298.3 199.9h.01M277.0 202.3h.01M286.2 184.0h.01M289.2 199.2h.01M324.7 197.3h.01M277.2 201.1h.01M322.7 201.1h.01M281.7 190.6h.01M292.3 203.2h.01M345.2 202.1h.01M305.3 181.3h.01M325.5 200.9h.01M317.5 196.7h.01M366.8 198.2h.01M309.4 199.8h.01M280.4 187.9h.01M291.8 201.0h.01M294.2 203.0h.01M317.9 186.1h.01" stroke="#000004"/>
<path d="M367.6 191.1h.01M346.2 184.6h.01M381.2 190.0h.01M309.9 171.4h.01M361.1 191.2h.01" stroke="#781c6d"/>
<path d="M289.5 156.5h.01M334.6 193.4h.01M294.3 179.4h.01M308.1 185.0h.01M311.8 182.5h.01M324.2 183.0h.01M294.8 180.1h.01M292.6 180.9h.01M319.4 171.7h.01M319.9 191.2h.01M305.8 180.3h.01M346.3 189.3h.01M322.2 193.6h.01M294.8 171.7h.01M340.4 191.1h.01M320.1 195.7h.01M330.1 190.9h.01M300.9 177.6h.01M307.6 189.0h.01M320.7 183.8h.01" stroke="#ed6925"/>
<path d="M347.5 172.1h.01M321.4 170.2h.01" stroke="#fcffa4"/>
<path d="M314.5 194.0h.01M296.5 193.9h.01M281.7 188.5h.01M294.3 178.2h.01M294.5 199.7h.01M301.0 191.3h.01M333.1 199.7h.01M284.4 177.9h.01M308.1 191.8h.01M298.2 194.2h.01M288.6 184.6h.01M314.5 198.2h.01M301.3 202.3h.01M309.7 186.7h.01M326.9 200.4h.01M291.2 202.3h.01M311.1 193.0h.01M316.0 198.5h.01M326.2 196.6h.01M294.1 190.1h.01M301.1 185.4h.01M308.9 179.4h.01M276.4 203.0h.01M314.1 184.4h.01M303.8 197.8h.01M292.4 185.8h.01M293.3 165.9h.01M299.9 193.0h.01M289.6 187.8h.01M310.8 192.0h.01" stroke="#000004"/>
<path d="M341.4 188.6h.01M308.1 176.8h.01M361.1 173.7h.01M342.0 189.6h.01M321.9 177.1h.01M312.9 171.4h.01M339.4 186.2h.01M350.6 182.9h.01M293.8 159.3h.01M362.5 195.2h.01M303.2 174.8h.01M320.1 178.0h.01" stroke="#781c6d"/>
<path d="M336.3 182.1h.01M289.7 179.3h.01M331.5 191.5h.01M317.9 182.7h.01M312.5 189.9h.01M290.3 173.7h.01M334.0 190.0h.01M291.4 174.4h.01M308.0 188.6h.01M295.3 170.2h.01M338.5 188.5h.01M348.1 195.7h.01M387.3 200.3h.01M316.8 185.1h.01M314.7 186.9h.01M324.0 186.3h.01M357.4 191.7h.01M317.9 192.8h.01M339.2 191.9h.01M332.9 196.9h.01M301.6 186.9h.01" stroke="#ed6925"/>
<path d="M343.3 178.9h.01" stroke="#fcffa4"/>
<path d="M290.8 199.9h.01M301.9 196.9h.01M321.6 193.0h.01M285.2 195.0h.01M307.7 200.2h.01M284.8 201.2h.01M332.5 202.4h.01M316.4 199.2h.01M296.7 196.6h.01M290.6 197.4h.01M313.7 199.1h.01M301.1 185.6h.01M334.3 198.8h.01M289.1 195.3h.01M317.0 195.6h.01M298.9 187.6h.01M303.5 200.8h.01M282.6 182.8h.01" stroke="#000004"/>
<path d="M368.0 190.9h.01M341.5 177.4h.01M307.7 172.6h.01M311.0 134.9h.01M329.3 146.9h.01M315.1 150.0h.01M310.4 150.0h.01" stroke="#781c6d"/>
<path d="M309.1 178.2h.01M303.5 185.6h.01M315.3 187.4h.01M302.0 166.9h.01M300.8 181.0h.01M355.7 193.2h.01M296.0 174.9h.01M333.2 197.0h.01M288.5 159.9h.01M313.1 184.3h.01M367.5 192.0h.01M299.3 176.8h.01M346.9 190.0h.01M350.4 197.8h.01M291.2 182.5h.01M388.7 193.7h.01M316.7 186.3h.01M290.4 182.5h.01M298.5 186.0h.01M426.3 197.4h.01M389.1 199.9h.01" stroke="#ed6925"/>
<path d="M316.0 81.8h.01M306.6 111.5h.01M299.4 116.6h.01M386.6 124.8h.01M341.9 138.7h.01M340.3 139.9h.01M392.3 163.9h.01M395.4 177.2h.01M411.2 195.5h.01M418.4 187.3h.01M395.4 196.8h.01M337.1 152.6h.01M349.8 156.3h.01M362.3 166.4h.01M378.1 171.5h.01M368.6 176.6h.01M384.4 184.1h.01M374.9 186.7h.01" stroke="#fcffa4"/>
</g>
<rect x="264.2" y="75.0" width="169.5" height="135.6" fill="none" stroke="#000" stroke-opacity="0.45" stroke-width="0.5"/>
<text x="271.0" y="219.0" text-anchor="middle" class="t">0</text>
<text x="302.5" y="219.0" text-anchor="middle" class="t">1</text>
<text x="334.0" y="219.0" text-anchor="middle" class="t">2</text>
<text x="365.5" y="219.0" text-anchor="middle" class="t">3</text>
<text x="397.0" y="219.0" text-anchor="middle" class="t">4</text>
<text x="428.5" y="219.0" text-anchor="middle" class="t">5</text>
<text x="261.7" y="208.3" text-anchor="end" class="t">0</text>
<text x="261.7" y="183.0" text-anchor="end" class="t">2</text>
<text x="261.7" y="157.8" text-anchor="end" class="t">4</text>
<text x="261.7" y="132.5" text-anchor="end" class="t">6</text>
<text x="261.7" y="107.3" text-anchor="end" class="t">8</text>
<text x="261.7" y="82.0" text-anchor="end" class="t">10</text>
<path d="M271.0 210.6v1.4M302.5 210.6v1.4M334.0 210.6v1.4M365.5 210.6v1.4M397.0 210.6v1.4M428.5 210.6v1.4M264.2 205.6h-1.4M264.2 180.3h-1.4M264.2 155.1h-1.4M264.2 129.8h-1.4M264.2 104.6h-1.4M264.2 79.3h-1.4" stroke="#000" stroke-opacity="0.6" stroke-width="0.5" fill="none"/>
<text x="348.8" y="73.0" text-anchor="middle" class="ti">(b) Predicted X vs. Y</text>
</g>
<g>
<rect x="61.0" y="238.0" width="169.5" height="135.6" fill="#669a9b"/>
<clipPath id="c10"><rect x="61.0" y="238.0" width="169.5" height="135.6"/></clipPath>
<g clip-path="url(#c10)" fill="none" stroke-width="1.45" stroke-linecap="square">
<path d="M161.7 344.3h.01M176.4 340.2h.01M172.8 334.9h.01M155.5 332.4h.01M131.4 349.8h.01M175.4 275.2h.01M189.6 337.8h.01M183.3 345.6h.01M173.2 343.5h.01M130.2 313.0h.01M174.0 282.9h.01M172.9 336.0h.01M156.9 325.8h.01M175.5 297.7h.01M156.5 347.0h.01M198.4 297.8h.01M177.4 359.0h.01M176.3 332.8h.01M154.6 288.1h.01M151.9 324.6h.01M141.1 323.3h.01M142.3 274.4h.01M161.2 295.7h.01M176.9 270.2h.01M174.6 260.7h.01M157.7 349.8h.01M179.6 287.1h.01M180.2 341.1h.01M173.4 276.9h.01M145.6 348.6h.01M144.6 267.4h.01M152.3 296.9h.01M174.9 341.7h.01M131.3 337.4h.01M151.6 316.0h.01M154.9 302.3h.01M145.4 302.8h.01M167.8 291.2h.01M195.8 268.1h.01M160.1 350.6h.01M149.1 321.9h.01M142.8 339.0h.01M144.4 301.8h.01M164.0 350.9h.01M138.7 319.6h.01M134.8 289.7h.01M177.4 346.3h.01M169.1 341.3h.01M164.8 274.5h.01M180.7 274.0h.01M172.3 362.9h.01M158.1 344.1h.01M147.6 345.0h.01M183.6 335.4h.01M144.5 293.8h.01M193.1 260.8h.01M130.2 310.3h.01M153.9 360.5h.01M139.1 321.1h.01M195.1 269.5h.01M189.6 261.0h.01M158.3 271.0h.01M187.4 298.0h.01M145.4 346.9h.01M158.3 356.5h.01M171.7 293.6h.01M191.5 305.4h.01M162.1 337.2h.01M159.3 343.3h.01M179.6 354.0h.01" stroke="#781c6d"/>
<path d="M124.6 292.9h.01M128.2 269.0h.01M109.2 299.0h.01M125.9 293.7h.01" stroke="#fcffa4"/>
<path d="M163.2 290.4h.01M156.7 310.5h.01M163.4 340.4h.01M145.8 358.7h.01M163.9 291.8h.01M185.9 291.9h.01M185.0 320.5h.01M173.9 284.4h.01M156.5 295.9h.01M169.2 324.4h.01M163.7 282.4h.01M140.2 322.3h.01M130.0 297.6h.01M149.6 280.5h.01M194.2 275.5h.01M171.5 279.5h.01M144.1 306.3h.01M179.6 298.9h.01M185.9 312.1h.01M177.6 265.8h.01M165.9 280.5h.01M186.0 257.5h.01M156.4 302.8h.01M166.7 300.5h.01M166.4 356.1h.01M182.7 339.8h.01M179.7 348.4h.01M164.8 311.1h.01M184.3 276.2h.01M144.7 293.1h.01M140.2 352.1h.01M187.6 322.6h.01M191.7 271.1h.01M179.8 277.2h.01M152.1 299.2h.01M161.5 297.6h.01M150.1 349.6h.01M150.6 273.2h.01M157.6 335.6h.01M148.2 298.2h.01M173.4 360.7h.01M187.2 350.5h.01M156.1 353.3h.01M158.7 262.7h.01M190.0 286.4h.01M178.0 355.3h.01M179.2 337.1h.01M150.9 350.0h.01M171.8 357.9h.01M169.3 268.4h.01M170.4 342.7h.01M195.2 261.2h.01M146.5 280.0h.01M178.0 265.6h.01M160.1 330.4h.01M143.3 284.5h.01M177.3 306.8h.01M154.4 346.3h.01M152.1 307.7h.01M191.8 276.7h.01M154.5 344.8h.01M159.7 361.8h.01M150.4 330.5h.01M159.5 347.6h.01M185.0 349.0h.01M186.7 334.3h.01M200.8 345.0h.01M131.2 347.8h.01M143.5 278.2h.01" stroke="#781c6d"/>
<path d="M122.8 346.6h.01M143.4 330.2h.01" stroke="#ed6925"/>
<path d="M109.7 301.4h.01M115.8 281.3h.01M123.8 263.4h.01" stroke="#fcffa4"/>
<path d="M167.2 350.0h.01M185.4 310.4h.01M163.4 271.5h.01M175.0 280.6h.01M175.5 352.0h.01M173.4 336.8h.01M193.5 270.4h.01M171.4 293.8h.01M154.6 291.1h.01M146.4 281.0h.01M157.2 270.7h.01M178.9 288.1h.01M171.4 259.8h.01M190.8 296.3h.01M151.5 279.9h.01M169.3 348.9h.01M176.1 349.9h.01M176.1 348.8h.01M181.0 298.4h.01M192.8 316.7h.01M194.3 337.5h.01M156.2 346.3h.01M161.3 299.4h.01M194.9 268.2h.01M148.0 346.6h.01M193.5 303.4h.01M133.0 277.2h.01M163.6 360.7h.01M179.1 327.4h.01M190.7 277.1h.01M171.5 271.7h.01M164.2 298.1h.01M194.8 292.8h.01M169.0 298.8h.01M185.2 257.6h.01M184.6 262.4h.01M168.6 330.8h.01M167.3 345.9h.01M160.2 286.2h.01M182.3 262.7h.01M167.7 300.9h.01M168.0 307.8h.01M180.9 341.2h.01M155.6 338.9h.01M179.0 346.8h.01M169.1 350.7h.01M162.5 305.5h.01M149.1 358.6h.01M136.1 274.7h.01M181.0 362.4h.01M180.9 262.7h.01M144.3 280.7h.01M172.5 358.9h.01M135.4 307.1h.01M190.9 260.1h.01M172.9 257.7h.01M179.0 356.7h.01M163.9 331.1h.01M194.3 353.4h.01M149.7 338.8h.01M150.0 338.6h.01M165.7 325.0h.01M167.7 344.2h.01M138.6 289.7h.01M150.2 289.5h.01M145.7 347.8h.01M146.4 273.2h.01M156.9 293.1h.01M152.5 339.5h.01M141.6 304.1h.01M152.2 299.2h.01M188.6 260.4h.01" stroke="#781c6d"/>
<path d="M121.5 327.4h.01" stroke="#ed6925"/>
<path d="M120.4 268.9h.01" stroke="#fcffa4"/>
<path d="M185.0 264.9h.01" stroke="#000004"/>
<path d="M156.2 355.4h.01M191.9 336.0h.01M186.8 332.4h.01M187.4 324.4h.01M164.6 308.9h.01M184.6 355.2h.01M131.4 302.2h.01M150.0 355.8h.01M163.9 295.0h.01M134.1 305.0h.01M183.3 363.1h.01M174.4 337.8h.01M155.0 278.6h.01M174.9 350.5h.01M189.1 293.0h.01M185.0 300.3h.01M146.6 333.4h.01M147.6 331.0h.01M188.2 297.3h.01M164.2 297.4h.01M150.5 314.9h.01M184.1 330.1h.01M155.7 300.7h.01M167.7 287.1h.01M143.2 324.0h.01M144.3 335.3h.01M167.1 286.2h.01M174.8 344.3h.01M159.5 298.4h.01M176.7 346.7h.01M171.6 360.1h.01M159.8 348.8h.01M161.4 312.5h.01M193.9 275.3h.01M190.7 284.2h.01M193.0 306.9h.01M158.3 315.6h.01M173.6 342.0h.01M143.0 287.5h.01M178.4 286.6h.01M132.4 358.0h.01M176.5 311.4h.01M141.6 272.4h.01M162.7 318.5h.01M142.6 335.5h.01M152.3 264.0h.01M166.8 313.5h.01M199.1 264.9h.01M155.8 336.4h.01M152.4 296.6h.01M164.5 311.1h.01M166.5 335.5h.01M185.4 336.8h.01M200.9 257.0h.01M170.8 319.9h.01M165.6 282.0h.01M198.9 354.7h.01M135.0 321.1h.01M206.9 264.5h.01M191.8 286.8h.01M155.8 350.3h.01M190.1 292.8h.01M161.5 260.9h.01M134.2 347.7h.01M168.6 361.5h.01M182.5 339.7h.01M175.9 329.9h.01M165.9 355.1h.01M182.2 264.8h.01M180.4 259.8h.01" stroke="#781c6d"/>
<path d="M115.4 329.2h.01" stroke="#ed6925"/>
<path d="M116.2 285.2h.01M129.2 296.8h.01" stroke="#fcffa4"/>
<path d="M145.8 349.9h.01M158.6 345.6h.01M141.6 357.9h.01M160.9 294.3h.01M193.6 261.1h.01M155.2 354.4h.01M187.3 294.7h.01M169.0 332.8h.01M153.0 352.1h.01M155.7 338.9h.01M148.6 290.8h.01M185.2 274.9h.01M187.8 334.4h.01M181.5 288.6h.01M146.9 309.7h.01M188.3 266.5h.01M176.8 283.0h.01M156.0 340.6h.01M151.6 351.2h.01M155.6 357.2h.01M145.0 280.1h.01M174.7 289.0h.01M163.2 298.3h.01M157.7 344.7h.01M133.1 284.1h.01M166.8 359.8h.01M179.9 350.5h.01M131.9 345.6h.01M161.0 348.3h.01M179.8 301.3h.01M141.4 344.9h.01M177.5 292.2h.01M163.0 333.2h.01M178.9 297.9h.01M174.9 312.3h.01M154.2 354.0h.01M182.6 278.3h.01M143.6 317.4h.01M152.9 317.1h.01M150.5 337.5h.01M171.6 280.0h.01M181.6 276.8h.01M181.7 340.4h.01M166.9 351.5h.01M177.5 320.9h.01M191.2 351.6h.01M139.7 286.8h.01M165.1 337.7h.01M190.3 262.9h.01M182.5 277.8h.01M137.1 359.5h.01M182.8 265.0h.01M154.4 350.9h.01M175.1 264.8h.01M154.4 288.4h.01M182.7 260.2h.01M150.9 346.0h.01M155.1 361.4h.01M188.1 331.1h.01M191.0 349.0h.01M151.9 344.7h.01M169.1 263.5h.01M151.5 360.1h.01M178.4 277.6h.01M186.0 305.7h.01M169.1 292.3h.01M150.5 292.6h.01M151.7 321.6h.01M159.3 299.5h.01M161.8 309.7h.01M157.0 337.1h.01" stroke="#781c6d"/>
<path d="M122.2 355.6h.01" stroke="#ed6925"/>
<path d="M115.1 284.2h.01M125.5 284.8h.01" stroke="#fcffa4"/>
<path d="M186.2 355.1h.01M183.5 289.0h.01M186.5 322.4h.01M185.9 279.7h.01" stroke="#000004"/>
<path d="M184.2 298.1h.01M183.7 266.9h.01M164.5 288.1h.01M142.3 284.5h.01M169.1 280.6h.01M168.2 292.3h.01M173.5 261.8h.01M178.5 331.1h.01M167.5 348.7h.01M131.3 296.6h.01M198.1 340.7h.01M164.6 339.7h.01M187.6 355.4h.01M174.6 361.0h.01M151.7 310.2h.01M163.8 274.9h.01M192.9 266.3h.01M166.2 349.1h.01M179.6 355.2h.01M174.1 346.6h.01M164.4 289.6h.01M133.6 333.7h.01M165.0 280.8h.01M173.4 335.7h.01M184.5 262.9h.01M191.8 362.1h.01M161.6 261.9h.01M189.8 308.9h.01M164.8 289.0h.01M170.8 304.9h.01M166.1 277.1h.01M176.2 269.8h.01M165.8 270.3h.01M156.4 336.4h.01M164.0 347.9h.01M141.9 354.1h.01M151.9 351.3h.01M170.4 278.9h.01M199.8 334.4h.01M178.8 295.1h.01M152.4 355.9h.01M166.5 347.9h.01M130.0 309.5h.01M154.0 298.3h.01M186.5 295.6h.01M148.1 354.3h.01M151.0 344.8h.01M137.3 345.5h.01M180.2 348.5h.01M145.9 327.0h.01M168.9 296.3h.01M141.7 301.5h.01M190.7 261.3h.01M134.6 292.6h.01M153.9 267.1h.01M165.1 342.5h.01M176.7 362.2h.01M148.8 342.2h.01M192.1 311.8h.01M164.6 321.1h.01M154.3 316.7h.01M146.5 361.4h.01M163.8 270.5h.01M191.4 298.6h.01M140.3 340.6h.01M132.0 280.8h.01M188.8 294.3h.01M164.1 319.9h.01" stroke="#781c6d"/>
<path d="M188.7 343.2h.01" stroke="#ed6925"/>
<path d="M125.6 310.8h.01" stroke="#fcffa4"/>
<path d="M174.3 298.1h.01M186.1 346.1h.01M164.7 281.3h.01M155.0 264.6h.01M131.4 309.7h.01M147.3 269.3h.01M162.5 348.1h.01M166.9 358.3h.01M169.7 300.5h.01M168.1 351.5h.01M190.8 302.6h.01M193.5 293.8h.01M163.4 281.3h.01M166.8 281.9h.01M177.9 280.8h.01M177.7 310.2h.01M152.4 345.0h.01M164.3 350.2h.01M192.8 278.6h.01M172.5 353.8h.01M153.3 291.6h.01M175.8 346.8h.01M151.8 355.7h.01M178.9 344.2h.01M191.3 265.2h.01M166.7 286.1h.01M194.6 341.5h.01M153.5 320.7h.01M152.4 292.2h.01M164.0 315.1h.01M163.4 332.5h.01M161.1 316.5h.01M195.3 343.6h.01M167.4 303.8h.01M164.6 322.9h.01M132.7 275.5h.01M167.1 350.9h.01M191.7 361.5h.01M169.3 341.9h.01M159.0 351.3h.01M180.8 325.0h.01M136.9 286.4h.01M166.3 358.7h.01M169.4 273.7h.01M156.6 294.6h.01M175.6 342.2h.01M183.1 272.2h.01M159.9 339.8h.01M173.8 289.8h.01M148.0 348.0h.01M140.1 324.9h.01M176.0 359.0h.01M188.4 348.4h.01M147.8 346.3h.01M171.6 289.0h.01M145.0 339.2h.01M146.8 316.2h.01M165.8 344.7h.01M142.4 337.7h.01M145.5 342.2h.01M170.6 322.0h.01M139.1 346.4h.01M166.8 281.1h.01M138.0 283.7h.01M152.9 310.5h.01M133.1 340.7h.01M136.9 301.3h.01M169.6 337.6h.01M169.1 254.8h.01M159.1 325.3h.01" stroke="#781c6d"/>
<path d="M119.7 332.7h.01M99.1 347.6h.01" stroke="#ed6925"/>
<path d="M129.4 293.1h.01M104.3 290.5h.01" stroke="#fcffa4"/>
<path d="M188.0 304.1h.01M192.8 339.1h.01" stroke="#000004"/>
<path d="M158.5 277.0h.01M167.2 325.0h.01M181.6 346.2h.01M192.9 280.7h.01M131.3 286.4h.01M153.6 331.1h.01M165.0 360.9h.01M167.4 300.6h.01M180.3 351.3h.01M138.8 267.2h.01M160.2 352.3h.01M166.4 343.9h.01M160.0 283.4h.01M174.6 326.4h.01M174.9 272.6h.01M156.6 282.0h.01M183.8 289.7h.01M176.7 354.4h.01M194.8 338.4h.01M166.8 294.7h.01M174.2 286.4h.01M158.2 327.1h.01M182.7 344.5h.01M149.7 288.3h.01M186.1 348.8h.01M190.8 279.6h.01M130.5 347.3h.01M195.2 271.8h.01M170.7 349.5h.01M167.6 349.7h.01M177.7 333.9h.01M167.5 270.1h.01M191.6 286.3h.01M161.6 265.5h.01M159.2 312.3h.01M173.1 316.0h.01M174.9 306.5h.01M191.9 327.5h.01M164.9 261.6h.01M179.2 270.8h.01M143.0 348.6h.01M162.2 276.7h.01M169.0 351.6h.01M164.2 342.8h.01M172.6 342.1h.01M181.1 305.0h.01M176.1 294.0h.01M177.5 335.9h.01M161.0 335.0h.01M171.1 335.0h.01M170.5 306.0h.01M131.1 347.9h.01M191.0 281.1h.01M153.2 294.2h.01M175.2 281.3h.01M167.8 346.7h.01M166.8 351.1h.01M147.6 295.4h.01M152.5 314.9h.01M170.3 292.1h.01M187.0 262.2h.01M183.3 283.1h.01M179.5 257.6h.01M187.9 276.7h.01M172.7 337.8h.01M141.0 298.2h.01" stroke="#781c6d"/>
<path d="M122.8 333.8h.01M103.2 351.9h.01" stroke="#ed6925"/>
<path d="M118.9 282.0h.01M108.7 303.0h.01M109.4 308.1h.01M124.2 311.0h.01" stroke="#fcffa4"/>
<path d="M154.8 298.9h.01M171.9 306.3h.01M152.6 274.4h.01M191.9 345.2h.01M173.4 270.3h.01M130.2 314.4h.01M179.8 297.3h.01M168.0 266.0h.01M181.9 275.4h.01M169.9 289.0h.01M180.8 354.3h.01M166.1 288.0h.01M139.6 336.9h.01M176.4 339.5h.01M152.0 333.5h.01M177.3 273.6h.01M171.7 279.2h.01M153.2 302.7h.01M176.9 344.0h.01M139.4 300.3h.01M166.1 286.9h.01M145.2 353.7h.01M177.4 340.0h.01M153.0 279.0h.01M189.0 313.9h.01M138.9 285.2h.01M163.6 302.7h.01M171.7 282.4h.01M174.7 291.6h.01M164.4 334.5h.01M177.0 275.8h.01M177.4 333.6h.01M167.0 340.4h.01M163.5 271.1h.01M176.3 277.2h.01M184.5 317.4h.01M195.2 349.3h.01M187.5 296.4h.01M171.5 326.0h.01M171.7 360.3h.01M141.4 284.4h.01M166.9 278.3h.01M193.8 288.2h.01M168.0 356.0h.01M149.6 303.8h.01M171.6 341.2h.01M166.9 292.8h.01M136.6 280.7h.01M159.8 357.3h.01M172.4 302.5h.01M129.9 295.5h.01M186.0 305.6h.01M165.6 327.5h.01M169.5 335.8h.01M160.1 324.5h.01M144.3 299.8h.01M131.8 294.4h.01M138.9 285.4h.01M173.3 282.4h.01M190.9 264.2h.01M147.2 344.7h.01M186.1 296.7h.01M187.8 276.5h.01M196.9 265.1h.01M172.7 254.7h.01M150.3 273.1h.01M152.7 320.4h.01M137.2 297.6h.01M172.2 257.6h.01M149.1 290.7h.01" stroke="#781c6d"/>
<path d="M125.9 327.5h.01" stroke="#ed6925"/>
<path d="M108.9 318.3h.01M117.9 296.2h.01M110.8 312.4h.01" stroke="#fcffa4"/>
<path d="M184.3 352.6h.01" stroke="#000004"/>
<path d="M162.9 341.2h.01M181.5 278.5h.01M166.9 302.8h.01M181.2 270.7h.01M148.7 274.2h.01M156.6 358.2h.01M190.5 334.5h.01M135.5 343.0h.01M158.3 277.3h.01M141.7 277.3h.01M183.4 271.5h.01M138.5 286.1h.01M170.3 259.0h.01M181.1 340.4h.01M190.4 273.0h.01M159.0 293.2h.01M194.7 267.6h.01M172.9 281.3h.01M162.7 341.4h.01M166.3 327.2h.01M180.4 329.0h.01M183.7 313.9h.01M150.4 347.1h.01M161.6 349.2h.01M170.9 282.7h.01M166.4 343.2h.01M132.8 311.8h.01M160.7 264.5h.01M148.8 266.5h.01M144.3 358.2h.01M144.5 323.5h.01M204.4 333.3h.01M153.6 262.4h.01M138.1 308.0h.01M172.2 310.5h.01M153.4 321.8h.01M163.6 332.0h.01M131.4 287.3h.01M176.8 272.8h.01M181.5 338.3h.01M184.8 338.6h.01M163.5 284.3h.01M166.3 289.4h.01M137.4 360.6h.01M183.1 285.3h.01M160.3 354.7h.01M147.9 292.0h.01M192.9 259.8h.01M164.1 332.0h.01M164.4 342.3h.01M193.1 318.6h.01M131.0 290.6h.01M193.0 336.1h.01M182.2 361.7h.01M189.0 320.5h.01M150.3 329.3h.01M132.0 305.4h.01M142.7 344.2h.01M130.0 286.0h.01M135.2 326.2h.01M174.3 285.9h.01M182.1 292.8h.01M159.6 354.4h.01M178.6 330.9h.01M193.6 334.1h.01M153.2 267.9h.01M166.8 354.0h.01M174.0 308.0h.01M174.8 296.2h.01M173.2 319.4h.01" stroke="#781c6d"/>
<path d="M127.9 300.9h.01M114.9 290.4h.01M117.0 318.3h.01" stroke="#fcffa4"/>
<path d="M187.8 281.3h.01M185.3 356.1h.01" stroke="#000004"/>
<path d="M161.0 295.0h.01M179.7 322.2h.01M162.8 287.9h.01M166.2 276.5h.01M159.0 285.4h.01M139.1 319.2h.01M175.9 337.0h.01M133.6 308.4h.01M165.1 344.9h.01M180.6 346.2h.01M193.1 328.4h.01M142.8 311.4h.01M174.6 330.4h.01M139.0 269.2h.01M160.1 344.5h.01M164.0 348.0h.01M140.3 315.0h.01M156.2 333.9h.01M183.2 260.8h.01M192.3 333.9h.01M148.9 329.5h.01M136.5 304.1h.01M180.8 335.1h.01M151.2 310.0h.01M150.3 290.2h.01M170.3 292.8h.01M171.2 277.2h.01M169.9 350.5h.01M147.7 340.6h.01M191.0 350.5h.01M177.7 280.3h.01M194.4 276.2h.01M172.9 339.5h.01M157.6 291.2h.01M195.3 267.1h.01M163.8 292.0h.01M148.0 338.1h.01M196.3 346.0h.01M174.7 269.9h.01M160.8 352.3h.01M136.4 328.2h.01M171.4 283.2h.01M176.0 286.6h.01M172.0 353.5h.01M148.4 280.2h.01M180.7 267.6h.01M142.8 292.9h.01M168.3 295.0h.01M175.1 340.5h.01M189.2 281.0h.01M180.0 336.1h.01M180.5 258.6h.01M186.9 287.3h.01M163.7 348.0h.01M193.4 332.6h.01M148.5 339.7h.01M159.8 302.4h.01M175.5 291.0h.01M177.6 343.8h.01M158.4 350.9h.01M194.9 359.1h.01M139.3 336.3h.01M186.6 255.5h.01M183.0 264.4h.01M147.8 313.2h.01M161.5 279.1h.01M137.0 345.0h.01" stroke="#781c6d"/>
<path d="M124.5 274.3h.01M111.7 294.7h.01M96.7 303.7h.01M191.4 299.6h.01M127.3 270.2h.01" stroke="#fcffa4"/>
<path d="M183.8 267.1h.01" stroke="#000004"/>
<path d="M182.9 344.1h.01M188.8 262.9h.01M185.0 280.6h.01M162.6 356.4h.01M182.1 344.8h.01M193.0 261.7h.01M147.9 350.5h.01M150.5 360.6h.01M158.7 313.8h.01M179.7 325.6h.01M151.8 348.0h.01M172.8 285.7h.01M149.2 289.8h.01M160.6 359.0h.01M169.3 351.2h.01M169.5 359.8h.01M180.7 347.0h.01M161.6 304.3h.01M158.1 266.4h.01M139.9 300.8h.01M137.6 349.8h.01M176.6 314.7h.01M165.0 270.3h.01M177.9 277.4h.01M147.3 306.5h.01M172.2 265.4h.01M153.2 331.1h.01M186.3 355.1h.01M169.3 348.0h.01M167.5 342.4h.01M150.8 347.5h.01M134.8 346.0h.01M152.7 287.6h.01M150.5 271.6h.01M189.2 281.9h.01M180.8 288.7h.01M155.7 273.5h.01M168.5 299.1h.01M156.3 354.8h.01M142.8 303.3h.01M130.9 279.6h.01M176.4 363.2h.01M151.4 299.3h.01M176.2 361.1h.01M163.7 297.9h.01M155.6 298.6h.01M131.1 338.9h.01M130.7 299.2h.01M174.6 341.1h.01M138.4 306.4h.01M179.8 279.7h.01M186.6 285.0h.01M146.3 324.3h.01M184.1 335.2h.01M171.7 353.6h.01M130.7 287.1h.01M176.9 335.4h.01M164.7 306.3h.01M149.8 341.2h.01M149.8 343.9h.01M185.1 272.1h.01M143.0 339.3h.01M188.8 286.9h.01M176.3 268.6h.01M185.9 313.6h.01M138.5 342.6h.01M189.1 269.8h.01M155.5 280.2h.01" stroke="#781c6d"/>
<path d="M167.7 279.4h.01M101.9 302.9h.01M115.3 277.7h.01M118.4 311.1h.01M102.4 270.2h.01" stroke="#fcffa4"/>
<path d="M185.9 331.3h.01" stroke="#000004"/>
<path d="M141.1 277.4h.01M178.2 305.7h.01M193.0 327.1h.01M167.5 279.5h.01M176.2 335.7h.01M148.4 314.5h.01M164.8 292.4h.01M138.1 302.4h.01M156.0 351.2h.01M147.9 294.9h.01M150.0 294.6h.01M193.5 321.4h.01M187.2 266.7h.01M159.8 280.2h.01M174.4 277.3h.01M162.3 340.7h.01M135.3 355.1h.01M179.5 350.5h.01M131.1 306.0h.01M159.5 350.6h.01M167.7 354.1h.01M198.0 361.4h.01M159.4 298.6h.01M171.1 293.9h.01M172.3 295.8h.01M136.1 318.4h.01M169.4 293.7h.01M164.8 344.8h.01M148.6 268.9h.01M167.2 358.5h.01M182.4 345.0h.01M182.7 344.9h.01M186.4 290.2h.01M181.1 343.4h.01M156.5 299.2h.01M186.4 344.9h.01M188.6 325.2h.01M187.1 272.5h.01M179.3 273.8h.01M158.9 308.0h.01M160.3 265.3h.01M150.7 350.4h.01M166.3 358.4h.01M157.7 291.7h.01M155.6 342.0h.01M179.9 343.6h.01M170.2 337.7h.01M164.9 286.7h.01M179.8 359.5h.01M168.4 354.5h.01M178.1 345.9h.01M180.1 352.0h.01M142.1 319.6h.01M173.2 314.6h.01M161.0 280.1h.01M191.5 314.6h.01M140.6 325.0h.01M179.8 356.7h.01M205.1 294.1h.01M185.7 300.6h.01M179.5 342.0h.01M148.9 310.8h.01M153.0 288.7h.01M162.4 263.2h.01M174.4 275.1h.01M155.9 304.2h.01M168.4 254.3h.01M167.2 311.0h.01" stroke="#781c6d"/>
<path d="M113.6 345.6h.01M125.3 355.6h.01" stroke="#ed6925"/>
<path d="M125.2 283.8h.01M105.8 318.3h.01M120.5 285.7h.01" stroke="#fcffa4"/>
<path d="M171.3 344.0h.01M137.9 299.0h.01M151.6 283.9h.01M183.6 268.5h.01M171.7 322.0h.01M157.2 349.1h.01M178.6 266.7h.01M189.6 273.7h.01M162.7 311.0h.01M179.8 347.4h.01M137.5 349.2h.01M167.7 342.5h.01M187.4 358.4h.01M175.0 303.5h.01M167.8 312.6h.01M172.5 286.4h.01M138.8 288.9h.01M155.5 278.1h.01M177.7 341.5h.01M155.5 356.5h.01M182.7 326.3h.01M163.4 293.4h.01M193.8 264.9h.01M166.1 306.0h.01M150.2 303.8h.01M180.3 335.1h.01M160.1 286.2h.01M186.9 328.4h.01M189.5 271.6h.01M178.8 285.1h.01M176.2 340.2h.01M148.2 302.5h.01M178.3 294.1h.01M141.2 312.9h.01M164.2 354.0h.01M146.1 283.8h.01M135.7 295.1h.01M167.7 303.6h.01M187.6 345.1h.01M166.2 354.1h.01M160.2 288.2h.01M154.6 340.5h.01M183.5 289.0h.01M163.5 257.5h.01M164.4 311.1h.01M180.6 270.7h.01M145.3 336.6h.01M180.7 271.2h.01M159.1 347.0h.01M162.4 296.3h.01M163.5 344.5h.01M180.0 357.4h.01M169.9 295.4h.01M188.7 340.2h.01M170.4 345.6h.01M180.3 268.8h.01M150.6 290.8h.01M173.7 350.8h.01M143.5 320.5h.01M152.3 334.8h.01M182.5 342.9h.01M141.1 302.4h.01M176.5 353.6h.01M144.0 313.0h.01M168.2 268.5h.01M153.6 349.6h.01M172.6 356.4h.01M174.7 300.2h.01M169.8 300.1h.01M180.1 360.4h.01" stroke="#781c6d"/>
<path d="M108.2 353.7h.01" stroke="#ed6925"/>
<path d="M115.7 298.0h.01M118.1 292.3h.01M101.1 291.6h.01" stroke="#fcffa4"/>
<path d="M184.5 281.5h.01M187.9 292.1h.01" stroke="#000004"/>
<path d="M170.9 294.1h.01M190.7 257.4h.01M154.1 300.1h.01M183.5 344.7h.01M146.7 287.6h.01M166.2 339.1h.01M164.2 321.4h.01M168.4 298.7h.01M180.1 327.8h.01M153.3 352.9h.01M169.5 301.8h.01M168.8 318.0h.01M177.3 302.2h.01M141.2 272.3h.01M190.3 344.3h.01M172.9 343.9h.01M151.6 308.5h.01M178.3 286.2h.01M166.7 342.0h.01M159.2 267.3h.01M170.7 341.5h.01M141.1 288.7h.01M175.3 289.0h.01M173.4 347.1h.01M179.6 291.7h.01M150.5 322.6h.01M169.1 337.9h.01M177.9 264.3h.01M168.7 312.0h.01M159.0 269.6h.01M183.0 355.6h.01M153.5 319.2h.01M165.5 350.9h.01M164.2 305.4h.01M182.7 291.3h.01M171.2 313.1h.01M159.5 319.1h.01M180.7 316.2h.01M157.3 294.9h.01M165.4 339.3h.01M131.1 301.0h.01M203.4 338.2h.01M176.6 269.0h.01M142.1 295.0h.01M169.0 273.5h.01M178.0 341.9h.01M148.0 304.0h.01M140.3 296.6h.01M145.2 359.6h.01M159.5 270.0h.01M193.9 277.7h.01M177.9 304.6h.01M152.8 261.5h.01M186.8 289.2h.01M179.9 334.8h.01M158.8 321.2h.01M168.9 357.1h.01M166.8 278.1h.01M158.7 357.5h.01M157.1 279.9h.01M143.9 343.4h.01M146.7 358.4h.01M146.6 340.4h.01M135.1 320.1h.01M190.1 268.6h.01M188.2 265.3h.01M138.6 314.8h.01" stroke="#781c6d"/>
<path d="M99.5 329.1h.01M128.6 341.2h.01" stroke="#ed6925"/>
<path d="M122.8 287.9h.01M128.4 301.5h.01M128.0 318.3h.01" stroke="#fcffa4"/>
<path d="M190.7 368.4h.01M181.9 348.2h.01" stroke="#000004"/>
<path d="M180.5 355.0h.01M201.1 303.2h.01M170.2 351.0h.01M152.8 333.0h.01M171.7 361.3h.01M159.0 308.0h.01M159.3 295.6h.01M169.5 350.7h.01M187.6 345.9h.01M187.6 262.5h.01M172.3 271.4h.01M162.3 265.8h.01M148.2 353.7h.01M185.6 298.5h.01M165.6 288.7h.01M147.9 326.9h.01M153.1 309.3h.01M164.7 353.6h.01M158.6 278.6h.01M170.5 312.4h.01M146.7 285.3h.01M179.8 350.7h.01M179.4 312.0h.01M189.8 356.5h.01M155.2 274.0h.01M160.1 320.5h.01M164.2 342.4h.01M135.0 295.1h.01M159.3 274.1h.01M168.3 322.8h.01M153.9 329.8h.01M192.0 345.4h.01M179.7 328.2h.01M142.8 318.1h.01M188.4 361.1h.01M194.9 276.0h.01M157.6 346.1h.01M192.9 272.4h.01M185.6 289.1h.01M166.6 350.9h.01M163.3 334.7h.01M184.9 290.6h.01M151.1 361.0h.01M178.5 259.1h.01M177.0 343.3h.01M135.0 268.9h.01M160.8 265.4h.01M162.2 325.7h.01M193.3 277.7h.01M146.3 309.4h.01M144.6 301.4h.01M161.3 354.0h.01M137.4 321.5h.01M184.9 343.4h.01M184.2 329.3h.01M190.1 344.0h.01M143.7 352.8h.01M159.9 346.6h.01M161.1 282.0h.01M161.4 309.0h.01M159.3 306.4h.01M148.6 320.8h.01M172.9 269.3h.01M161.8 344.6h.01M160.8 342.8h.01M156.8 335.3h.01M195.0 256.6h.01M144.9 352.9h.01M157.8 272.6h.01" stroke="#781c6d"/>
<path d="M125.5 293.3h.01M114.2 268.8h.01M121.5 297.7h.01" stroke="#fcffa4"/>
<path d="M188.4 279.3h.01" stroke="#000004"/>
<path d="M171.0 349.2h.01M187.5 315.7h.01M172.0 341.3h.01M146.1 310.4h.01M172.0 259.7h.01M162.3 326.3h.01M138.3 327.1h.01M191.3 268.8h.01M182.5 301.1h.01M177.0 287.6h.01M184.0 322.3h.01M157.4 323.0h.01M154.9 285.8h.01M149.6 320.0h.01M139.7 351.6h.01M165.1 333.1h.01M192.4 348.0h.01M173.7 286.5h.01M153.3 314.0h.01M171.8 360.4h.01M168.0 278.5h.01M189.7 263.8h.01M173.4 347.8h.01M133.0 348.1h.01M131.6 288.3h.01M189.1 291.4h.01M158.0 285.8h.01M144.1 348.8h.01M160.8 359.4h.01M147.8 345.2h.01M178.8 327.2h.01M137.1 342.3h.01M167.4 290.8h.01M160.1 333.1h.01M163.6 353.7h.01M177.7 299.9h.01M158.8 350.9h.01M174.2 279.1h.01M133.2 333.1h.01M194.2 284.6h.01M173.3 341.6h.01M134.4 342.3h.01M176.5 287.7h.01M161.0 300.7h.01M188.2 274.8h.01M168.6 302.6h.01M193.9 331.0h.01M141.4 284.6h.01M183.2 303.7h.01M157.4 277.4h.01M167.5 274.9h.01M154.1 302.5h.01M172.8 280.7h.01M142.9 341.2h.01M169.0 318.3h.01M138.7 341.1h.01M143.7 284.0h.01M198.1 262.6h.01M161.5 255.2h.01M174.6 351.4h.01M182.3 336.8h.01M185.1 255.1h.01M135.6 351.5h.01M158.5 298.5h.01M181.6 345.3h.01M185.0 348.3h.01" stroke="#781c6d"/>
<path d="M107.1 319.8h.01M110.1 330.9h.01" stroke="#ed6925"/>
<path d="M120.2 290.7h.01M111.2 304.2h.01M124.1 302.5h.01M180.2 304.0h.01M108.6 299.5h.01" stroke="#fcffa4"/>
<path d="M187.3 273.1h.01" stroke="#000004"/>
<path d="M150.6 344.5h.01M142.4 330.3h.01M149.4 342.6h.01M186.0 343.5h.01M159.9 350.1h.01M170.2 336.1h.01M195.1 361.4h.01M171.0 335.8h.01M180.9 339.7h.01M144.6 280.6h.01M149.0 316.1h.01M185.5 275.5h.01M138.0 284.1h.01M169.4 259.3h.01M176.4 301.4h.01M162.6 338.5h.01M176.8 271.8h.01M191.5 323.7h.01M172.6 278.0h.01M167.1 361.5h.01M164.8 298.1h.01M175.4 359.2h.01M166.8 307.0h.01M165.6 307.9h.01M147.2 337.7h.01M151.0 335.2h.01M173.5 298.0h.01M135.5 280.7h.01M158.6 296.9h.01M130.4 322.5h.01M131.1 287.3h.01M190.8 318.7h.01M157.1 289.8h.01M161.3 358.1h.01M171.3 286.3h.01M181.9 289.3h.01M156.0 337.4h.01M194.4 299.0h.01M165.2 314.6h.01M174.1 307.6h.01M150.0 351.1h.01M140.3 294.0h.01M159.6 293.5h.01M135.6 325.9h.01M159.3 301.8h.01M173.4 296.1h.01M168.6 267.2h.01M172.3 283.2h.01M171.1 338.0h.01M168.8 313.1h.01M149.8 284.0h.01M176.7 253.9h.01M179.9 289.3h.01M157.1 336.8h.01M161.2 267.1h.01M191.1 334.5h.01M149.1 288.7h.01M194.2 337.8h.01M176.5 345.7h.01M159.4 343.6h.01M172.6 350.6h.01M138.3 287.0h.01M192.4 299.8h.01M187.6 301.9h.01M144.9 264.9h.01M184.4 312.5h.01M164.6 283.1h.01M182.6 351.9h.01M148.7 267.6h.01M185.6 327.0h.01M181.2 353.1h.01M157.0 355.6h.01" stroke="#781c6d"/>
<path d="M116.7 346.3h.01" stroke="#ed6925"/>
<path d="M189.1 354.5h.01" stroke="#000004"/>
<path d="M185.6 285.2h.01M170.7 297.9h.01M189.8 254.6h.01M142.8 340.7h.01M164.7 355.3h.01M171.6 289.7h.01M170.4 363.4h.01M174.2 284.9h.01M165.6 351.4h.01M184.0 357.8h.01M163.8 295.4h.01M173.7 256.4h.01M180.7 297.7h.01M141.1 301.0h.01M167.3 271.1h.01M183.1 267.9h.01M149.4 340.2h.01M177.1 287.2h.01M151.7 295.0h.01M164.4 334.8h.01M162.4 353.2h.01M134.0 295.2h.01M174.1 296.6h.01M187.7 259.3h.01M192.1 286.2h.01M180.4 285.9h.01M192.4 254.9h.01M177.3 299.9h.01M154.8 351.4h.01M166.6 339.7h.01M181.0 297.4h.01M147.4 331.2h.01M161.5 275.8h.01M161.4 348.8h.01M157.4 304.1h.01M167.1 264.1h.01M160.4 289.2h.01M180.0 340.3h.01M154.7 310.8h.01M189.1 260.7h.01M188.0 345.6h.01M156.0 333.5h.01M180.6 314.1h.01M168.1 304.8h.01M191.5 352.9h.01M174.5 294.2h.01M139.9 355.3h.01M165.2 307.7h.01M169.1 341.9h.01M174.2 258.8h.01M154.0 353.6h.01M175.5 269.7h.01M153.5 336.3h.01M187.3 354.3h.01M174.7 330.5h.01M188.5 296.2h.01M172.7 361.7h.01M157.5 335.1h.01M177.3 283.5h.01M185.2 321.1h.01M172.3 306.0h.01M142.4 297.2h.01M143.0 328.9h.01M170.5 307.1h.01M154.9 347.0h.01M191.7 340.3h.01M157.5 294.5h.01M173.0 311.9h.01M174.5 351.7h.01M147.5 330.2h.01" stroke="#781c6d"/>
<path d="M127.1 342.1h.01" stroke="#ed6925"/>
<path d="M106.7 289.6h.01M114.4 309.7h.01" stroke="#fcffa4"/>
<path d="M147.9 266.4h.01M183.3 276.1h.01M156.0 342.5h.01M170.8 302.0h.01M171.7 329.1h.01M153.7 266.3h.01M149.8 302.9h.01M134.6 295.0h.01M160.1 345.9h.01M183.4 361.6h.01M171.6 297.8h.01M177.7 296.2h.01M157.7 284.9h.01M139.2 278.2h.01M138.1 328.2h.01M161.2 339.9h.01M179.0 283.0h.01M172.5 295.8h.01M183.9 351.9h.01M150.0 341.3h.01M177.8 342.6h.01M150.7 352.5h.01M170.8 310.7h.01M194.1 304.9h.01M140.8 270.1h.01M162.4 303.9h.01M170.9 306.1h.01M178.1 263.8h.01M191.7 299.9h.01M167.3 334.4h.01M158.6 323.7h.01M147.0 321.3h.01M164.2 275.6h.01M178.4 339.6h.01M175.4 282.3h.01M172.5 331.5h.01M143.5 319.7h.01M193.4 282.9h.01M183.9 341.3h.01M140.1 310.5h.01M187.5 276.9h.01M185.8 361.8h.01M182.9 260.5h.01M154.4 257.8h.01M156.5 349.6h.01M168.4 283.1h.01M140.8 287.3h.01M138.8 308.6h.01M172.7 308.3h.01M158.0 303.6h.01M161.4 308.0h.01M176.4 278.8h.01M131.6 311.8h.01M154.7 301.4h.01M173.8 279.0h.01M146.9 291.7h.01M165.3 357.5h.01M180.8 300.1h.01M177.9 337.8h.01M187.0 258.0h.01M139.7 301.3h.01M180.5 265.3h.01M134.5 334.4h.01M162.4 355.9h.01M139.2 358.6h.01M188.1 287.7h.01M166.2 344.9h.01M158.8 357.0h.01M173.6 279.3h.01M198.0 329.7h.01M163.9 311.4h.01M144.0 303.1h.01" stroke="#781c6d"/>
<path d="M113.3 310.1h.01" stroke="#fcffa4"/>
<path d="M176.3 260.2h.01M132.0 338.8h.01M179.8 325.2h.01M168.2 331.1h.01M171.0 283.5h.01M170.6 327.0h.01M132.1 350.2h.01M188.9 301.2h.01M138.5 309.2h.01M169.5 354.1h.01M183.8 276.9h.01M135.9 291.9h.01M139.2 312.6h.01M173.4 283.8h.01M181.8 279.2h.01M148.3 350.4h.01M160.1 290.6h.01M160.3 345.7h.01M143.6 341.5h.01M145.6 289.8h.01M151.0 353.9h.01M171.8 353.4h.01M129.8 276.0h.01M133.5 334.0h.01M169.5 278.2h.01M176.3 286.2h.01M161.4 310.2h.01M129.9 287.5h.01M159.9 332.4h.01M185.8 279.2h.01M163.0 315.9h.01M188.2 333.1h.01M177.3 357.9h.01M184.1 358.7h.01M178.4 322.1h.01M191.7 274.7h.01M141.2 290.6h.01M169.7 334.5h.01M135.9 293.1h.01M169.1 339.8h.01M180.8 296.8h.01M174.3 345.3h.01M131.6 319.5h.01M156.4 336.7h.01M174.8 346.3h.01M158.6 331.7h.01M158.5 361.1h.01M183.5 360.7h.01M139.8 358.7h.01M148.8 357.6h.01M167.5 304.3h.01M186.1 351.8h.01M131.0 307.4h.01M148.2 316.9h.01M173.2 256.4h.01M178.5 356.6h.01M175.7 288.7h.01M174.7 343.1h.01M168.0 299.4h.01M179.5 291.3h.01M152.7 342.3h.01M150.1 268.9h.01M169.4 307.2h.01M145.3 266.4h.01M135.7 332.8h.01M132.4 296.1h.01M172.1 354.0h.01" stroke="#781c6d"/>
<path d="M102.2 320.5h.01M112.9 328.4h.01" stroke="#ed6925"/>
<path d="M113.0 314.2h.01M116.7 280.2h.01M120.4 302.4h.01M111.9 290.9h.01" stroke="#fcffa4"/>
<path d="M186.8 351.1h.01" stroke="#000004"/>
<path d="M153.1 302.7h.01M154.4 341.0h.01M180.0 269.6h.01M195.9 350.3h.01M148.3 304.6h.01M169.6 353.8h.01M160.0 300.2h.01M147.8 277.0h.01M178.5 262.2h.01M193.2 259.4h.01M139.1 327.0h.01M137.5 294.5h.01M159.4 270.9h.01M167.5 316.3h.01M163.9 315.3h.01M168.4 354.5h.01M180.7 357.6h.01M192.9 274.7h.01M157.5 309.1h.01M173.6 333.9h.01M183.1 288.6h.01M149.6 337.4h.01M186.9 279.8h.01M139.3 287.6h.01M154.2 350.2h.01M158.7 351.0h.01M193.7 311.9h.01M142.7 302.2h.01M195.7 286.4h.01M182.5 349.2h.01M169.0 331.1h.01M149.8 318.6h.01M147.8 341.9h.01M157.3 329.7h.01M182.0 342.9h.01M189.4 269.7h.01M136.6 292.0h.01M163.7 335.6h.01M167.9 297.5h.01M134.9 308.8h.01M183.5 332.9h.01M167.7 262.5h.01M168.4 285.3h.01M147.4 328.4h.01M132.6 271.6h.01M137.4 292.5h.01M167.7 297.0h.01M164.1 320.2h.01M187.9 291.6h.01M154.4 300.2h.01M169.5 307.0h.01M167.3 299.8h.01M177.2 278.6h.01M165.0 301.8h.01M158.4 339.3h.01M185.7 288.0h.01M166.7 308.1h.01M176.9 272.1h.01M193.1 262.6h.01M157.1 320.2h.01M162.6 257.1h.01M162.1 349.9h.01M164.9 278.9h.01M193.2 267.3h.01M167.7 255.4h.01M133.1 310.0h.01M181.1 266.3h.01M159.3 342.1h.01M167.7 353.3h.01M148.9 282.9h.01M191.6 274.4h.01" stroke="#781c6d"/>
<path d="M194.9 284.8h.01" stroke="#fcffa4"/>
<path d="M188.5 333.1h.01M191.2 264.5h.01" stroke="#000004"/>
<path d="M186.2 346.5h.01M163.6 275.9h.01M155.2 352.8h.01M165.9 284.3h.01M193.2 298.4h.01M181.0 332.9h.01M151.9 308.9h.01M162.2 321.9h.01M193.8 296.6h.01M160.9 297.7h.01M162.4 336.0h.01M172.6 341.2h.01M179.7 314.4h.01M140.8 280.2h.01M176.2 275.2h.01M184.8 281.5h.01M153.7 345.9h.01M175.4 292.8h.01M174.9 349.6h.01M175.6 334.3h.01M130.5 293.9h.01M180.1 359.1h.01M151.3 282.3h.01M164.9 312.3h.01M157.9 309.3h.01M167.7 259.4h.01M156.4 277.4h.01M131.9 290.4h.01M154.7 348.7h.01M200.9 310.6h.01M188.9 340.4h.01M183.8 353.6h.01M148.8 296.2h.01M177.2 337.6h.01M173.5 314.5h.01M159.9 353.6h.01M175.3 350.3h.01M188.4 264.2h.01M177.0 322.1h.01M173.6 346.5h.01M140.5 273.4h.01M158.6 357.0h.01M179.9 272.5h.01M184.5 300.0h.01M177.9 282.6h.01M175.6 345.8h.01M155.3 338.4h.01M172.3 293.6h.01M161.2 356.3h.01M152.2 345.3h.01M167.3 353.3h.01M177.1 277.9h.01M178.9 345.6h.01M169.3 353.8h.01M179.5 301.7h.01M190.4 289.5h.01M150.6 336.9h.01M187.8 345.8h.01M188.1 264.1h.01M164.4 337.9h.01M160.1 352.5h.01M198.0 309.3h.01M151.6 342.4h.01M178.4 295.1h.01M180.7 326.2h.01M184.5 293.2h.01M166.3 278.9h.01" stroke="#781c6d"/>
<path d="M134.5 322.7h.01" stroke="#ed6925"/>
<path d="M114.0 264.8h.01M171.4 283.1h.01M176.4 290.3h.01" stroke="#fcffa4"/>
<path d="M188.5 292.1h.01" stroke="#000004"/>
<path d="M194.4 254.9h.01M180.3 283.8h.01M178.8 349.4h.01M132.4 353.3h.01M177.4 338.3h.01M191.3 254.3h.01M205.2 259.7h.01M174.8 299.6h.01M146.5 281.2h.01M170.0 294.3h.01M193.4 333.5h.01M151.2 282.9h.01M150.3 268.2h.01M177.2 287.6h.01M153.1 335.7h.01M194.4 309.8h.01M184.1 357.5h.01M178.2 335.8h.01M153.2 325.1h.01M194.7 273.5h.01M200.5 329.5h.01M189.1 278.5h.01M191.4 274.4h.01M190.9 306.1h.01M167.5 332.6h.01M157.0 308.8h.01M185.9 281.4h.01M168.7 357.6h.01M161.1 301.8h.01M147.1 304.8h.01M152.2 275.9h.01M193.9 289.5h.01M190.3 279.9h.01M164.3 298.1h.01M167.4 303.8h.01M154.7 273.7h.01M162.9 322.0h.01M183.9 349.5h.01M174.0 302.3h.01M146.2 287.4h.01M161.5 351.5h.01M139.2 355.8h.01M172.4 355.4h.01M177.6 301.2h.01M175.6 300.9h.01M137.9 346.2h.01M154.4 337.8h.01M155.3 291.0h.01M184.3 345.5h.01M174.2 262.1h.01M188.5 295.4h.01M150.6 352.7h.01M192.5 263.7h.01M163.7 349.8h.01M170.6 331.8h.01M154.0 280.8h.01M158.2 279.9h.01M167.3 349.8h.01M139.4 278.1h.01M180.5 345.5h.01M143.5 345.9h.01M181.3 351.1h.01M142.9 311.7h.01M169.5 276.4h.01M136.9 292.5h.01M173.1 280.3h.01M162.9 301.6h.01M158.4 337.7h.01M152.7 357.5h.01" stroke="#781c6d"/>
<path d="M125.5 342.0h.01" stroke="#ed6925"/>
<path d="M129.3 277.8h.01M108.1 303.0h.01" stroke="#fcffa4"/>
<path d="M190.5 298.6h.01M187.2 334.7h.01" stroke="#000004"/>
<path d="M158.9 339.1h.01M136.9 316.3h.01M170.4 336.1h.01M190.0 296.6h.01M182.6 336.6h.01M190.3 282.1h.01M176.5 279.3h.01M173.2 361.4h.01M149.8 355.5h.01M182.8 343.4h.01M131.2 304.8h.01M152.8 345.6h.01M131.3 279.2h.01M178.9 278.7h.01M152.3 282.6h.01M168.1 325.1h.01M157.7 335.3h.01M158.6 286.6h.01M164.7 280.7h.01M143.4 302.0h.01M187.5 274.2h.01M179.3 266.1h.01M167.3 357.3h.01M185.2 291.7h.01M189.1 300.1h.01M152.7 313.7h.01M164.0 341.8h.01M180.3 334.4h.01M175.4 316.4h.01M163.3 291.9h.01M171.2 274.1h.01M174.4 329.2h.01M141.7 316.1h.01M191.5 283.8h.01M173.0 267.4h.01M163.7 348.9h.01M159.7 350.6h.01M144.7 294.7h.01M192.7 272.0h.01M140.7 303.7h.01M158.7 343.1h.01M165.2 285.7h.01M133.8 298.4h.01M154.6 261.5h.01M191.7 293.4h.01M147.6 340.8h.01M164.2 353.8h.01M165.2 292.2h.01M176.8 342.2h.01M167.3 272.9h.01M135.7 361.6h.01M168.0 322.3h.01M165.0 336.4h.01M156.5 347.6h.01M188.7 328.4h.01M132.0 313.4h.01M175.5 353.0h.01M147.0 329.2h.01M136.8 313.5h.01M192.6 333.8h.01M178.3 303.1h.01M172.0 357.4h.01M156.2 321.1h.01M166.1 302.7h.01M148.7 282.9h.01M155.0 337.1h.01M145.0 347.7h.01M191.6 356.3h.01M186.5 336.4h.01" stroke="#781c6d"/>
<path d="M103.3 338.5h.01M198.1 324.3h.01" stroke="#ed6925"/>
<path d="M190.5 353.6h.01" stroke="#000004"/>
<path d="M146.9 310.6h.01M147.0 270.5h.01M180.6 277.7h.01M171.0 272.3h.01M142.4 269.9h.01M185.1 300.2h.01M143.3 262.0h.01M168.0 332.7h.01M156.2 347.2h.01M175.8 339.6h.01M181.6 333.9h.01M186.2 255.6h.01M162.3 337.3h.01M148.3 317.7h.01M164.4 286.1h.01M193.3 286.9h.01M155.8 306.3h.01M149.8 257.1h.01M176.9 254.2h.01M156.5 345.9h.01M159.1 271.8h.01M174.4 361.0h.01M184.9 275.9h.01M188.6 304.3h.01M150.5 336.3h.01M174.3 343.4h.01M179.7 340.3h.01M163.7 344.7h.01M169.0 292.2h.01M142.6 339.5h.01M147.1 279.0h.01M131.6 291.9h.01M175.4 305.6h.01M149.1 358.7h.01M167.9 352.6h.01M181.8 358.5h.01M134.1 337.5h.01M139.9 272.1h.01M191.7 335.0h.01M193.6 270.2h.01M165.7 300.6h.01M158.6 325.5h.01M179.6 346.9h.01M143.0 344.0h.01M132.3 273.6h.01M168.2 354.4h.01M149.7 354.4h.01M175.5 270.2h.01M166.7 306.4h.01M157.1 340.7h.01M185.2 341.4h.01M187.2 348.1h.01M192.2 267.5h.01M175.0 339.5h.01M136.0 279.2h.01M190.2 344.1h.01M162.5 329.0h.01M161.1 300.2h.01M178.1 276.9h.01M162.9 346.2h.01M190.2 311.9h.01M190.5 270.1h.01M171.7 339.4h.01M183.2 286.7h.01M164.8 357.8h.01M172.7 270.9h.01M156.3 314.2h.01M193.1 350.2h.01M179.5 259.9h.01M143.4 302.2h.01" stroke="#781c6d"/>
<path d="M123.7 281.5h.01M128.9 317.4h.01" stroke="#fcffa4"/>
<path d="M145.9 326.7h.01M167.9 340.8h.01M140.6 322.5h.01M183.1 345.2h.01M152.0 258.3h.01M142.9 347.0h.01M174.1 341.1h.01M151.1 316.2h.01M180.0 284.1h.01M159.8 295.3h.01M137.5 291.9h.01M170.6 354.4h.01M139.3 346.4h.01M182.2 339.4h.01M143.8 344.5h.01M160.5 289.0h.01M190.7 321.6h.01M177.8 288.1h.01M174.3 297.1h.01M151.9 356.4h.01M164.3 312.5h.01M181.1 345.6h.01M158.3 354.2h.01M134.9 320.9h.01M156.9 283.6h.01M158.9 274.5h.01M144.8 328.7h.01M132.3 322.5h.01M151.9 303.7h.01M161.0 299.3h.01M141.0 338.4h.01M200.2 315.8h.01M158.6 266.4h.01M162.7 296.9h.01M171.2 330.8h.01M170.1 286.1h.01M163.8 306.7h.01M189.0 273.2h.01M177.3 287.3h.01M142.2 342.3h.01M144.4 349.4h.01M140.7 304.4h.01M184.3 294.6h.01M168.0 266.1h.01M159.7 345.5h.01M197.5 329.6h.01M164.3 280.9h.01M180.3 290.3h.01M138.0 332.3h.01M192.0 293.9h.01M179.1 323.2h.01M197.9 278.2h.01M177.7 352.6h.01M189.8 261.9h.01M165.5 306.0h.01M140.7 347.2h.01M176.0 292.3h.01M184.1 328.5h.01M143.9 320.4h.01M200.3 300.9h.01M135.5 335.8h.01M168.6 334.2h.01M181.8 343.1h.01M156.6 302.5h.01M195.9 300.6h.01M188.5 315.4h.01M176.0 294.6h.01M161.1 354.8h.01M131.6 341.4h.01M171.2 319.5h.01" stroke="#781c6d"/>
<path d="M118.4 311.5h.01M193.0 300.1h.01M114.6 272.5h.01" stroke="#fcffa4"/>
<path d="M173.4 277.3h.01M147.6 348.6h.01M134.3 278.5h.01M178.3 320.9h.01M205.2 332.3h.01M180.3 331.1h.01M186.0 355.5h.01M192.1 286.2h.01M153.5 270.2h.01M161.1 317.3h.01M134.9 284.9h.01M141.2 309.5h.01M159.1 340.4h.01M194.0 281.5h.01M184.0 341.4h.01M179.7 347.5h.01M152.4 350.9h.01M162.7 278.7h.01M161.3 318.7h.01M178.0 296.7h.01M157.0 352.7h.01M189.3 260.0h.01M158.7 334.7h.01M160.0 308.2h.01M177.7 286.7h.01M165.5 287.7h.01M153.2 274.4h.01M191.1 360.9h.01M154.7 336.2h.01M172.2 268.7h.01M131.8 273.8h.01M136.2 294.6h.01M190.0 280.2h.01M153.8 332.3h.01M156.3 305.7h.01M185.3 276.0h.01M138.5 358.3h.01M136.8 317.0h.01M179.3 266.1h.01M169.2 294.9h.01M194.7 284.2h.01M176.2 341.9h.01M158.2 320.4h.01M169.3 317.2h.01M141.9 315.9h.01M147.0 330.9h.01M185.4 314.5h.01M193.8 329.6h.01M185.3 349.5h.01M169.8 342.2h.01M134.8 301.2h.01M165.7 341.8h.01M187.7 264.1h.01M153.1 346.7h.01M138.4 339.9h.01M171.9 285.2h.01M170.2 296.2h.01M161.0 306.5h.01M172.1 283.6h.01M145.0 336.1h.01M143.3 300.5h.01M175.5 322.2h.01M160.2 351.0h.01M186.2 340.4h.01M150.9 351.4h.01M170.6 348.0h.01M193.2 275.5h.01" stroke="#781c6d"/>
<path d="M110.0 344.5h.01M119.8 352.1h.01M139.1 342.9h.01" stroke="#ed6925"/>
<path d="M116.8 276.6h.01M124.2 310.0h.01M125.0 291.7h.01" stroke="#fcffa4"/>
<path d="M185.3 295.8h.01" stroke="#000004"/>
<path d="M150.0 306.0h.01M140.7 360.1h.01M185.8 328.5h.01M187.3 292.3h.01M177.6 267.4h.01M176.6 357.0h.01M197.2 286.4h.01M178.3 283.3h.01M185.1 360.3h.01M180.3 333.8h.01M130.4 340.2h.01M157.7 278.6h.01M141.1 303.3h.01M159.3 326.7h.01M151.4 338.1h.01M175.5 309.3h.01M159.5 302.1h.01M163.1 272.8h.01M191.7 275.3h.01M154.1 343.0h.01M154.7 342.1h.01M171.9 303.4h.01M151.8 334.0h.01M153.0 341.5h.01M168.2 275.1h.01M158.4 346.3h.01M181.3 296.3h.01M140.2 344.1h.01M155.9 294.5h.01M157.9 298.7h.01M158.7 289.6h.01M144.2 301.2h.01M153.5 269.6h.01M160.9 360.3h.01M149.8 262.2h.01M164.6 280.4h.01M139.0 333.8h.01M172.9 270.6h.01M165.3 346.1h.01M150.8 310.2h.01M147.6 336.6h.01M191.0 271.0h.01M152.6 343.9h.01M194.2 268.6h.01M191.3 275.3h.01M156.9 261.6h.01M150.0 294.1h.01M164.2 307.6h.01M167.1 278.0h.01M195.1 273.0h.01M152.6 289.0h.01M168.8 326.1h.01M208.3 335.4h.01M159.8 339.3h.01M160.9 254.6h.01M177.3 282.9h.01M172.9 351.1h.01M144.3 305.2h.01M173.4 347.6h.01M149.4 304.0h.01M145.4 347.9h.01M159.4 322.7h.01M150.4 301.8h.01M177.3 267.1h.01M163.2 340.8h.01M166.4 286.5h.01M190.6 273.0h.01M190.3 280.1h.01M157.4 293.2h.01" stroke="#781c6d"/>
<path d="M119.9 289.0h.01M116.4 283.6h.01M169.9 303.9h.01" stroke="#fcffa4"/>
<path d="M190.5 345.5h.01M186.3 353.2h.01M183.6 344.7h.01M187.0 351.2h.01M181.1 285.2h.01M185.4 308.3h.01M192.9 295.8h.01M185.8 269.3h.01M187.5 346.6h.01M190.6 327.6h.01M195.3 322.2h.01M181.9 264.9h.01M186.0 356.7h.01M192.2 255.5h.01M187.7 287.6h.01M223.1 254.3h.01M223.1 259.1h.01M207.6 274.0h.01M209.2 280.0h.01M204.5 277.0h.01" stroke="#000004"/>
<path d="M193.7 276.8h.01M158.5 285.4h.01M152.9 291.7h.01M191.9 335.4h.01M130.0 330.3h.01M159.0 272.4h.01M186.0 275.4h.01M149.4 281.2h.01M171.5 293.1h.01M192.7 343.9h.01M175.6 351.4h.01M190.6 273.2h.01M156.5 334.9h.01M141.8 325.8h.01M158.0 301.4h.01M189.2 352.1h.01M142.9 345.8h.01M170.5 315.5h.01M175.6 295.9h.01M167.0 284.8h.01M137.4 304.4h.01M162.6 360.2h.01M167.8 298.1h.01M166.3 280.3h.01M189.8 312.8h.01M185.1 330.2h.01M168.2 328.9h.01M176.6 362.9h.01M161.7 344.5h.01M160.8 358.8h.01M183.0 280.4h.01M157.1 337.0h.01M144.7 283.5h.01M155.9 283.8h.01M144.1 283.5h.01M158.6 291.9h.01M182.7 303.2h.01M184.2 337.6h.01M144.9 280.0h.01M170.9 272.2h.01M149.2 345.2h.01M155.9 339.9h.01M160.2 307.2h.01M159.5 354.0h.01M172.1 342.0h.01M177.0 304.9h.01M212.2 324.8h.01M207.6 336.8h.01" stroke="#781c6d"/>
<path d="M88.8 346.4h.01" stroke="#ed6925"/>
<path d="M99.3 297.3h.01M169.4 317.6h.01M135.2 273.0h.01M68.8 244.1h.01" stroke="#fcffa4"/>
</g>
<rect x="61.0" y="238.0" width="169.5" height="135.6" fill="none" stroke="#000" stroke-opacity="0.45" stroke-width="0.5"/>
<text x="68.8" y="382.0" text-anchor="middle" class="t">0.0</text>
<text x="99.6" y="382.0" text-anchor="middle" class="t">0.2</text>
<text x="130.5" y="382.0" text-anchor="middle" class="t">0.4</text>
<text x="161.3" y="382.0" text-anchor="middle" class="t">0.6</text>
<text x="192.2" y="382.0" text-anchor="middle" class="t">0.8</text>
<text x="223.1" y="382.0" text-anchor="middle" class="t">1.0</text>
<text x="58.5" y="369.4" text-anchor="end" class="t">50</text>
<text x="58.5" y="339.5" text-anchor="end" class="t">100</text>
<text x="58.5" y="309.6" text-anchor="end" class="t">150</text>
<text x="58.5" y="279.7" text-anchor="end" class="t">200</text>
<text x="58.5" y="249.8" text-anchor="end" class="t">250</text>
<path d="M68.8 373.6v1.4M99.6 373.6v1.4M130.5 373.6v1.4M161.3 373.6v1.4M192.2 373.6v1.4M223.1 373.6v1.4M61.0 366.7h-1.4M61.0 336.8h-1.4M61.0 306.9h-1.4M61.0 277.0h-1.4M61.0 247.1h-1.4" stroke="#000" stroke-opacity="0.6" stroke-width="0.5" fill="none"/>
<text x="145.6" y="236.0" text-anchor="middle" class="ti">(c) Calculated area vs. mean pixel intensity</text>
</g>
<g>
<rect x="264.2" y="238.0" width="169.5" height="135.6" fill="#669a9b"/>
<clipPath id="c11"><rect x="264.2" y="238.0" width="169.5" height="135.6"/></clipPath>
<g clip-path="url(#c11)" fill="none" stroke-width="1.45" stroke-linecap="square">
<path d="M364.9 344.3h.01M379.6 340.2h.01M378.6 275.2h.01M392.8 337.8h.01M359.7 347.0h.01M380.6 359.0h.01M357.8 288.1h.01M355.1 324.6h.01M344.3 323.3h.01M345.5 274.4h.01M360.9 349.8h.01M383.4 341.1h.01M376.6 276.9h.01M348.8 348.6h.01M347.8 267.4h.01M327.8 292.9h.01M348.6 302.8h.01M371.0 291.2h.01M399.0 268.1h.01M312.4 299.0h.01M363.3 350.6h.01M352.3 321.9h.01M347.6 301.8h.01M380.6 346.3h.01M383.9 274.0h.01M361.3 344.1h.01M386.8 335.4h.01M347.7 293.8h.01M396.3 260.8h.01M357.1 360.5h.01M392.8 261.0h.01M361.5 271.0h.01M348.6 346.9h.01M365.3 337.2h.01M362.5 343.3h.01M382.8 354.0h.01" stroke="#000004"/>
<path d="M358.7 332.4h.01M386.5 345.6h.01M377.2 282.9h.01M378.7 297.7h.01M379.5 332.8h.01M346.0 339.0h.01" stroke="#781c6d"/>
<path d="M376.0 334.9h.01M334.6 349.8h.01M376.4 343.5h.01M333.4 313.0h.01M376.1 336.0h.01M360.1 325.8h.01M401.6 297.8h.01M364.4 295.7h.01M380.1 270.2h.01M377.8 260.7h.01M382.8 287.1h.01M355.5 296.9h.01M378.1 341.7h.01M334.5 337.4h.01M331.4 269.0h.01M354.8 316.0h.01M358.1 302.3h.01M367.2 350.9h.01M341.9 319.6h.01M338.0 289.7h.01M372.3 341.3h.01M375.5 362.9h.01M350.8 345.0h.01M333.4 310.3h.01M342.3 321.1h.01M398.3 269.5h.01M390.6 298.0h.01M361.5 356.5h.01M374.9 293.6h.01M394.7 305.4h.01M329.1 293.7h.01" stroke="#ed6925"/>
<path d="M368.0 274.5h.01" stroke="#fcffa4"/>
<path d="M359.9 310.5h.01M367.1 291.8h.01M389.1 291.9h.01M388.2 320.5h.01M377.1 284.4h.01M359.7 295.9h.01M372.4 324.4h.01M366.9 282.4h.01M312.9 301.4h.01M333.2 297.6h.01M352.8 280.5h.01M374.7 279.5h.01M347.3 306.3h.01M389.1 312.1h.01M380.8 265.8h.01M359.6 302.8h.01M369.9 300.5h.01M369.6 356.1h.01M368.0 311.1h.01M387.5 276.2h.01M343.4 352.1h.01M390.8 322.6h.01M364.7 297.6h.01M353.3 349.6h.01M353.8 273.2h.01M360.8 335.6h.01M351.4 298.2h.01M376.6 360.7h.01M359.3 353.3h.01M346.6 330.2h.01M393.2 286.4h.01M382.4 337.1h.01M375.0 357.9h.01M373.6 342.7h.01M349.7 280.0h.01M363.3 330.4h.01M346.5 284.5h.01M357.6 346.3h.01M395.0 276.7h.01M327.0 263.4h.01M404.0 345.0h.01M334.4 347.8h.01" stroke="#000004"/>
<path d="M366.6 340.4h.01M343.4 322.3h.01M382.8 298.9h.01M389.2 257.5h.01M383.0 277.2h.01M319.0 281.3h.01M361.9 262.7h.01M381.2 355.3h.01M353.6 330.5h.01" stroke="#781c6d"/>
<path d="M366.4 290.4h.01M349.0 358.7h.01M326.0 346.6h.01M397.4 275.5h.01M369.1 280.5h.01M385.9 339.8h.01M382.9 348.4h.01M347.9 293.1h.01M394.9 271.1h.01M355.3 299.2h.01M390.4 350.5h.01M354.1 350.0h.01M372.5 268.4h.01M398.4 261.2h.01M381.2 265.6h.01M380.5 306.8h.01M355.3 307.7h.01M357.7 344.8h.01M362.9 361.8h.01M362.7 347.6h.01M388.2 349.0h.01M389.9 334.3h.01M346.7 278.2h.01" stroke="#ed6925"/>
<path d="M370.4 350.0h.01M366.6 271.5h.01M378.2 280.6h.01M349.6 281.0h.01M360.4 270.7h.01M374.6 259.8h.01M354.7 279.9h.01M379.3 348.8h.01M384.2 298.4h.01M396.0 316.7h.01M359.4 346.3h.01M398.1 268.2h.01M396.7 303.4h.01M393.9 277.1h.01M374.7 271.7h.01M372.2 298.8h.01M363.4 286.2h.01M385.5 262.7h.01M358.8 338.9h.01M372.3 350.7h.01M352.3 358.6h.01M384.2 362.4h.01M338.6 307.1h.01M394.1 260.1h.01M367.1 331.1h.01M397.5 353.4h.01M352.9 338.8h.01M353.2 338.6h.01M370.9 344.2h.01M353.4 289.5h.01M348.9 347.8h.01M324.7 327.4h.01M355.7 339.5h.01M344.8 304.1h.01M355.4 299.2h.01" stroke="#000004"/>
<path d="M396.7 270.4h.01M357.8 291.1h.01M379.3 349.9h.01M364.5 299.4h.01M351.2 346.6h.01M366.8 360.7h.01M371.8 330.8h.01M384.1 262.7h.01" stroke="#781c6d"/>
<path d="M388.6 310.4h.01M378.7 352.0h.01M376.6 336.8h.01M323.6 268.9h.01M374.6 293.8h.01M382.1 288.1h.01M394.0 296.3h.01M372.5 348.9h.01M397.5 337.5h.01M336.2 277.2h.01M382.3 327.4h.01M367.4 298.1h.01M398.0 292.8h.01M388.4 257.6h.01M387.8 262.4h.01M370.5 345.9h.01M370.9 300.9h.01M371.2 307.8h.01M382.2 346.8h.01M365.7 305.5h.01M339.3 274.7h.01M347.5 280.7h.01M375.7 358.9h.01M376.1 257.7h.01M382.2 356.7h.01M368.9 325.0h.01M341.8 289.7h.01M349.6 273.2h.01M360.1 293.1h.01M391.8 260.4h.01" stroke="#ed6925"/>
<path d="M384.1 341.2h.01" stroke="#fcffa4"/>
<path d="M395.1 336.0h.01M390.6 324.4h.01M367.8 308.9h.01M337.3 305.0h.01M386.5 363.1h.01M377.6 337.8h.01M358.2 278.6h.01M392.3 293.0h.01M388.2 300.3h.01M349.8 333.4h.01M346.4 324.0h.01M378.0 344.3h.01M362.7 298.4h.01M374.8 360.1h.01M397.1 275.3h.01M393.9 284.2h.01M396.2 306.9h.01M319.4 285.2h.01M381.6 286.6h.01M379.7 311.4h.01M344.8 272.4h.01M345.8 335.5h.01M355.5 264.0h.01M370.0 313.5h.01M359.0 336.4h.01M355.6 296.6h.01M369.7 335.5h.01M388.6 336.8h.01M368.8 282.0h.01M402.1 354.7h.01M395.0 286.8h.01M393.3 292.8h.01M364.7 260.9h.01M337.4 347.7h.01M371.8 361.5h.01M318.6 329.2h.01M369.1 355.1h.01" stroke="#000004"/>
<path d="M353.2 355.8h.01M391.4 297.3h.01M367.4 297.4h.01M387.3 330.1h.01M346.2 287.5h.01M404.1 257.0h.01M379.1 329.9h.01M385.4 264.8h.01" stroke="#781c6d"/>
<path d="M359.4 355.4h.01M390.0 332.4h.01M387.8 355.2h.01M334.6 302.2h.01M367.1 295.0h.01M378.1 350.5h.01M350.8 331.0h.01M353.7 314.9h.01M358.9 300.7h.01M370.9 287.1h.01M347.5 335.3h.01M370.3 286.2h.01M379.9 346.7h.01M363.0 348.8h.01M364.6 312.5h.01M388.2 264.9h.01M361.5 315.6h.01M376.8 342.0h.01M335.6 358.0h.01M365.9 318.5h.01M332.4 296.8h.01M402.3 264.9h.01M367.7 311.1h.01M374.0 319.9h.01M338.2 321.1h.01M359.0 350.3h.01M385.7 339.7h.01M383.6 259.8h.01" stroke="#ed6925"/>
<path d="M410.1 264.5h.01" stroke="#fcffa4"/>
<path d="M344.8 357.9h.01M364.1 294.3h.01M318.3 284.2h.01M372.2 332.8h.01M356.2 352.1h.01M358.9 338.9h.01M391.0 334.4h.01M384.7 288.6h.01M350.1 309.7h.01M391.5 266.5h.01M358.8 357.2h.01M348.2 280.1h.01M377.9 289.0h.01M366.4 298.3h.01M360.9 344.7h.01M370.0 359.8h.01M364.2 348.3h.01M344.6 344.9h.01M380.7 292.2h.01M382.1 297.9h.01M328.7 284.8h.01M357.4 354.0h.01M385.8 278.3h.01M346.8 317.4h.01M356.1 317.1h.01M374.8 280.0h.01M384.9 340.4h.01M370.1 351.5h.01M342.9 286.8h.01M368.3 337.7h.01M386.0 265.0h.01M357.6 350.9h.01M378.3 264.8h.01M357.6 288.4h.01M354.1 346.0h.01M391.3 331.1h.01M394.2 349.0h.01M355.1 344.7h.01M372.3 263.5h.01M354.7 360.1h.01M381.6 277.6h.01M372.3 292.3h.01M353.7 292.6h.01M354.9 321.6h.01M365.0 309.7h.01M360.2 337.1h.01" stroke="#000004"/>
<path d="M349.0 349.9h.01M358.4 354.4h.01M351.8 290.8h.01M354.8 351.2h.01M384.8 276.8h.01M380.7 320.9h.01M325.4 355.6h.01" stroke="#781c6d"/>
<path d="M361.8 345.6h.01M396.8 261.1h.01M390.5 294.7h.01M388.4 274.9h.01M380.0 283.0h.01M359.2 340.6h.01M336.3 284.1h.01M383.1 350.5h.01M335.1 345.6h.01M383.0 301.3h.01M366.2 333.2h.01M378.1 312.3h.01M353.7 337.5h.01M394.4 351.6h.01M393.5 262.9h.01M385.7 277.8h.01M340.3 359.5h.01M385.9 260.2h.01M358.3 361.4h.01M389.2 305.7h.01M362.5 299.5h.01" stroke="#ed6925"/>
<path d="M387.4 298.1h.01M345.5 284.5h.01M371.4 292.3h.01M376.7 261.8h.01M334.5 296.6h.01M401.3 340.7h.01M367.8 339.7h.01M328.8 310.8h.01M354.9 310.2h.01M382.8 355.2h.01M389.7 322.4h.01M367.6 289.6h.01M389.1 279.7h.01M336.8 333.7h.01M387.7 262.9h.01M393.0 308.9h.01M368.0 289.0h.01M391.9 343.2h.01M367.2 347.9h.01M355.1 351.3h.01M403.0 334.4h.01M357.2 298.3h.01M389.7 295.6h.01M354.2 344.8h.01M340.5 345.5h.01M372.1 296.3h.01M344.9 301.5h.01M393.9 261.3h.01M357.1 267.1h.01M368.3 342.5h.01M367.8 321.1h.01M367.0 270.5h.01M335.2 280.8h.01M367.3 319.9h.01" stroke="#000004"/>
<path d="M367.7 288.1h.01M389.4 355.1h.01M386.7 289.0h.01M369.4 349.1h.01M377.3 346.6h.01M374.0 304.9h.01M369.3 277.1h.01M351.3 354.3h.01M337.8 292.6h.01M379.9 362.2h.01M394.6 298.6h.01" stroke="#781c6d"/>
<path d="M386.9 266.9h.01M372.3 280.6h.01M381.7 331.1h.01M370.7 348.7h.01M390.8 355.4h.01M377.8 361.0h.01M367.0 274.9h.01M396.1 266.3h.01M368.2 280.8h.01M395.0 362.1h.01M364.8 261.9h.01M379.4 269.8h.01M369.0 270.3h.01M359.6 336.4h.01M345.1 354.1h.01M373.6 278.9h.01M382.0 295.1h.01M355.6 355.9h.01M369.7 347.9h.01M333.2 309.5h.01M383.4 348.5h.01M349.1 327.0h.01M352.0 342.2h.01M395.3 311.8h.01M357.5 316.7h.01M349.7 361.4h.01M392.0 294.3h.01" stroke="#ed6925"/>
<path d="M376.6 335.7h.01M343.5 340.6h.01" stroke="#fcffa4"/>
<path d="M358.2 264.6h.01M334.6 309.7h.01M365.7 348.1h.01M370.1 358.3h.01M371.3 351.5h.01M366.6 281.3h.01M381.1 280.8h.01M380.9 310.2h.01M356.5 291.6h.01M379.0 346.8h.01M355.0 355.7h.01M369.9 286.1h.01M355.6 292.2h.01M366.6 332.5h.01M398.5 343.6h.01M370.6 303.8h.01M307.5 290.5h.01M394.9 361.5h.01M384.0 325.0h.01M340.1 286.4h.01M369.5 358.7h.01M359.8 294.6h.01M378.8 342.2h.01M363.1 339.8h.01M377.0 289.8h.01M351.2 348.0h.01M343.3 324.9h.01M379.2 359.0h.01M350.0 316.2h.01M322.9 332.7h.01M356.1 310.5h.01M372.8 337.6h.01M302.3 347.6h.01M362.3 325.3h.01" stroke="#000004"/>
<path d="M367.9 281.3h.01M367.5 350.2h.01M394.5 265.2h.01M367.2 315.1h.01M372.6 273.7h.01M351.0 346.3h.01M348.2 339.2h.01M345.6 337.7h.01M373.8 322.0h.01" stroke="#781c6d"/>
<path d="M377.5 298.1h.01M350.5 269.3h.01M372.9 300.5h.01M394.0 302.6h.01M396.7 293.8h.01M370.0 281.9h.01M355.6 345.0h.01M396.0 278.6h.01M375.7 353.8h.01M382.1 344.2h.01M397.8 341.5h.01M356.7 320.7h.01M364.3 316.5h.01M367.8 322.9h.01M335.9 275.5h.01M370.3 350.9h.01M332.6 293.1h.01M372.5 341.9h.01M362.2 351.3h.01M391.6 348.4h.01M374.8 289.0h.01M369.0 344.7h.01M348.7 342.2h.01M342.3 346.4h.01M370.0 281.1h.01M336.3 340.7h.01M340.1 301.3h.01M372.3 254.8h.01" stroke="#ed6925"/>
<path d="M389.3 346.1h.01M386.3 272.2h.01M341.2 283.7h.01" stroke="#fcffa4"/>
<path d="M361.7 277.0h.01M396.1 280.7h.01M356.8 331.1h.01M370.6 300.6h.01M363.4 352.3h.01M369.6 343.9h.01M377.8 326.4h.01M322.1 282.0h.01M370.0 294.7h.01M377.4 286.4h.01M361.4 327.1h.01M385.9 344.5h.01M391.2 304.1h.01M394.0 279.6h.01M311.9 303.0h.01M398.4 271.8h.01M370.8 349.7h.01M380.9 333.9h.01M370.7 270.1h.01M394.8 286.3h.01M312.6 308.1h.01M378.1 306.5h.01M395.1 327.5h.01M365.4 276.7h.01M326.0 333.8h.01M375.8 342.1h.01M384.3 305.0h.01M379.3 294.0h.01M380.7 335.9h.01M327.4 311.0h.01M306.4 351.9h.01M334.3 347.9h.01M394.2 281.1h.01M356.4 294.2h.01M371.0 346.7h.01M390.2 262.2h.01M386.5 283.1h.01M375.9 337.8h.01" stroke="#000004"/>
<path d="M370.4 325.0h.01M383.5 351.3h.01M363.2 283.4h.01M364.8 265.5h.01M367.4 342.8h.01" stroke="#781c6d"/>
<path d="M384.8 346.2h.01M334.5 286.4h.01M368.2 360.9h.01M342.0 267.2h.01M378.1 272.6h.01M359.8 282.0h.01M387.0 289.7h.01M379.9 354.4h.01M398.0 338.4h.01M352.9 288.3h.01M389.3 348.8h.01M333.7 347.3h.01M373.9 349.5h.01M362.4 312.3h.01M376.3 316.0h.01M368.1 261.6h.01M346.2 348.6h.01M396.0 339.1h.01M372.2 351.6h.01M364.2 335.0h.01M374.3 335.0h.01M373.7 306.0h.01M378.4 281.3h.01M370.0 351.1h.01M350.8 295.4h.01M355.7 314.9h.01M373.5 292.1h.01M382.7 257.6h.01M391.1 276.7h.01M344.2 298.2h.01" stroke="#ed6925"/>
<path d="M382.4 270.8h.01" stroke="#fcffa4"/>
<path d="M358.0 298.9h.01M375.1 306.3h.01M376.6 270.3h.01M333.4 314.4h.01M383.0 297.3h.01M384.0 354.3h.01M379.6 339.5h.01M380.5 273.6h.01M374.9 279.2h.01M356.4 302.7h.01M380.1 344.0h.01M369.3 286.9h.01M348.4 353.7h.01M377.9 291.6h.01M380.2 275.8h.01M366.7 271.1h.01M379.5 277.2h.01M387.7 317.4h.01M312.1 318.3h.01M390.7 296.4h.01M344.6 284.4h.01M370.1 278.3h.01M374.8 341.2h.01M370.1 292.8h.01M339.8 280.7h.01M375.6 302.5h.01M335.0 294.4h.01M342.1 285.4h.01M376.5 282.4h.01M350.4 344.7h.01M391.0 276.5h.01M400.1 265.1h.01M375.4 257.6h.01" stroke="#000004"/>
<path d="M355.8 274.4h.01M371.2 266.0h.01M385.1 275.4h.01M342.6 300.3h.01M374.9 360.3h.01M363.0 357.3h.01M333.1 295.5h.01M347.5 299.8h.01M352.3 290.7h.01" stroke="#781c6d"/>
<path d="M395.1 345.2h.01M373.1 289.0h.01M369.3 288.0h.01M342.8 336.9h.01M355.2 333.5h.01M380.6 340.0h.01M356.2 279.0h.01M392.2 313.9h.01M342.1 285.2h.01M366.8 302.7h.01M374.9 282.4h.01M367.6 334.5h.01M380.6 333.6h.01M370.2 340.4h.01M398.4 349.3h.01M374.7 326.0h.01M397.0 288.2h.01M371.2 356.0h.01M352.8 303.8h.01M321.1 296.2h.01M329.1 327.5h.01M389.2 305.6h.01M368.8 327.5h.01M372.7 335.8h.01M363.3 324.5h.01M394.1 264.2h.01M389.3 296.7h.01M375.9 254.7h.01M353.5 273.1h.01M314.0 312.4h.01M355.9 320.4h.01M340.4 297.6h.01" stroke="#ed6925"/>
<path d="M366.1 341.2h.01M370.1 302.8h.01M359.8 358.2h.01M393.7 334.5h.01M344.9 277.3h.01M341.7 286.1h.01M393.6 273.0h.01M383.6 329.0h.01M386.9 313.9h.01M364.8 349.2h.01M374.1 282.7h.01M336.0 311.8h.01M363.9 264.5h.01M352.0 266.5h.01M341.3 308.0h.01M356.6 321.8h.01M366.8 332.0h.01M384.7 338.3h.01M366.7 284.3h.01M386.3 285.3h.01M363.5 354.7h.01M351.1 292.0h.01M396.1 259.8h.01M367.6 342.3h.01M396.3 318.6h.01M318.1 290.4h.01M334.2 290.6h.01M392.2 320.5h.01M353.5 329.3h.01M345.9 344.2h.01M333.2 286.0h.01M320.2 318.3h.01M338.4 326.2h.01M377.5 285.9h.01M356.4 267.9h.01M387.5 352.6h.01M377.2 308.0h.01M378.0 296.2h.01M376.4 319.4h.01" stroke="#000004"/>
<path d="M397.9 267.6h.01M369.5 327.2h.01M353.6 347.1h.01M340.6 360.6h.01M367.3 332.0h.01M335.2 305.4h.01M370.0 354.0h.01" stroke="#781c6d"/>
<path d="M384.7 278.5h.01M384.4 270.7h.01M351.9 274.2h.01M338.7 343.0h.01M361.5 277.3h.01M386.6 271.5h.01M373.5 259.0h.01M384.3 340.4h.01M362.2 293.2h.01M376.1 281.3h.01M365.9 341.4h.01M331.1 300.9h.01M369.6 343.2h.01M347.5 358.2h.01M347.7 323.5h.01M407.6 333.3h.01M356.8 262.4h.01M375.4 310.5h.01M334.6 287.3h.01M380.0 272.8h.01M388.0 338.6h.01M369.5 289.4h.01M396.2 336.1h.01M385.4 361.7h.01M362.8 354.4h.01M381.8 330.9h.01M396.8 334.1h.01" stroke="#ed6925"/>
<path d="M385.3 292.8h.01" stroke="#fcffa4"/>
<path d="M364.2 295.0h.01M342.3 319.2h.01M396.3 328.4h.01M346.0 311.4h.01M363.3 344.5h.01M367.2 348.0h.01M327.7 274.3h.01M343.5 315.0h.01M359.4 333.9h.01M386.4 260.8h.01M314.9 294.7h.01M339.7 304.1h.01M353.5 290.2h.01M374.4 277.2h.01M373.1 350.5h.01M394.2 350.5h.01M367.0 292.0h.01M364.0 352.3h.01M339.6 328.2h.01M374.6 283.2h.01M379.2 286.6h.01M378.3 340.5h.01M366.9 348.0h.01M396.6 332.6h.01M363.0 302.4h.01M378.7 291.0h.01M398.1 359.1h.01M330.5 270.2h.01M389.8 255.5h.01M386.2 264.4h.01M351.0 313.2h.01M364.7 279.1h.01" stroke="#000004"/>
<path d="M379.1 337.0h.01M391.0 281.3h.01M350.9 340.6h.01M376.1 339.5h.01M377.9 269.9h.01M375.2 353.5h.01M383.2 336.1h.01" stroke="#781c6d"/>
<path d="M382.9 322.2h.01M366.0 287.9h.01M369.4 276.5h.01M362.2 285.4h.01M336.8 308.4h.01M368.3 344.9h.01M383.8 346.2h.01M377.8 330.4h.01M342.2 269.2h.01M395.5 333.9h.01M388.5 356.1h.01M352.1 329.5h.01M384.0 335.1h.01M354.4 310.0h.01M373.5 292.8h.01M380.9 280.3h.01M397.6 276.2h.01M360.8 291.2h.01M398.5 267.1h.01M351.2 338.1h.01M399.5 346.0h.01M351.6 280.2h.01M383.9 267.6h.01M346.0 292.9h.01M371.5 295.0h.01M392.4 281.0h.01M383.7 258.6h.01M299.9 303.7h.01M390.1 287.3h.01M380.8 343.8h.01M361.6 350.9h.01M394.6 299.6h.01M342.5 336.3h.01M340.2 345.0h.01" stroke="#ed6925"/>
<path d="M351.7 339.7h.01" stroke="#fcffa4"/>
<path d="M385.3 344.8h.01M351.1 350.5h.01M353.7 360.6h.01M355.0 348.0h.01M376.0 285.7h.01M363.8 359.0h.01M383.9 347.0h.01M364.8 304.3h.01M361.3 266.4h.01M343.1 300.8h.01M340.8 349.8h.01M379.8 314.7h.01M375.4 265.4h.01M389.5 355.1h.01M355.9 287.6h.01M353.7 271.6h.01M392.4 281.9h.01M384.0 288.7h.01M379.6 363.2h.01M370.9 279.4h.01M379.4 361.1h.01M341.6 306.4h.01M318.5 277.7h.01M383.0 279.7h.01M389.8 285.0h.01M367.9 306.3h.01M353.0 341.2h.01M353.0 343.9h.01M388.3 272.1h.01M392.0 286.9h.01M389.1 313.6h.01M341.7 342.6h.01M392.3 269.8h.01M305.6 270.2h.01" stroke="#000004"/>
<path d="M354.0 347.5h.01M387.0 267.1h.01M349.5 324.3h.01M321.6 311.1h.01" stroke="#781c6d"/>
<path d="M386.1 344.1h.01M392.0 262.9h.01M388.2 280.6h.01M365.8 356.4h.01M396.2 261.7h.01M361.9 313.8h.01M382.9 325.6h.01M352.4 289.8h.01M372.5 351.2h.01M372.7 359.8h.01M368.2 270.3h.01M381.1 277.4h.01M350.5 306.5h.01M356.4 331.1h.01M372.5 348.0h.01M370.7 342.4h.01M338.0 346.0h.01M358.9 273.5h.01M371.7 299.1h.01M359.5 354.8h.01M346.0 303.3h.01M334.1 279.6h.01M354.6 299.3h.01M366.9 297.9h.01M358.8 298.6h.01M334.3 338.9h.01M305.1 302.9h.01M333.9 299.2h.01M377.8 341.1h.01M387.3 335.2h.01M374.9 353.6h.01M333.9 287.1h.01M380.1 335.4h.01M346.2 339.3h.01M379.5 268.6h.01M358.7 280.2h.01" stroke="#ed6925"/>
<path d="M381.4 305.7h.01M379.4 335.7h.01M351.6 314.5h.01M316.8 345.6h.01M341.3 302.4h.01M359.2 351.2h.01M351.1 294.9h.01M353.2 294.6h.01M396.7 321.4h.01M365.5 340.7h.01M382.7 350.5h.01M309.0 318.3h.01M362.7 350.6h.01M370.9 354.1h.01M362.6 298.6h.01M328.5 355.6h.01M368.0 344.8h.01M370.4 358.5h.01M385.6 345.0h.01M385.9 344.9h.01M391.8 325.2h.01M390.3 272.5h.01M362.1 308.0h.01M363.5 265.3h.01M389.1 331.3h.01M360.9 291.7h.01M358.8 342.0h.01M383.1 343.6h.01M323.7 285.7h.01M383.0 359.5h.01M371.6 354.5h.01M383.3 352.0h.01M345.3 319.6h.01M394.7 314.6h.01M408.3 294.1h.01M382.7 342.0h.01M356.2 288.7h.01" stroke="#000004"/>
<path d="M396.2 327.1h.01M363.0 280.2h.01M338.5 355.1h.01M375.5 295.8h.01M384.3 343.4h.01M373.4 337.7h.01M377.6 275.1h.01" stroke="#781c6d"/>
<path d="M344.3 277.4h.01M370.7 279.5h.01M368.0 292.4h.01M390.4 266.7h.01M377.6 277.3h.01M328.4 283.8h.01M334.3 306.0h.01M401.2 361.4h.01M374.3 293.9h.01M339.3 318.4h.01M372.6 293.7h.01M389.6 290.2h.01M359.7 299.2h.01M389.6 344.9h.01M382.5 273.8h.01M353.9 350.4h.01M369.5 358.4h.01M368.1 286.7h.01M381.3 345.9h.01M376.4 314.6h.01M343.8 325.0h.01M383.0 356.7h.01M388.9 300.6h.01M352.1 310.8h.01M359.1 304.2h.01M371.6 254.3h.01M370.4 311.0h.01" stroke="#ed6925"/>
<path d="M351.8 268.9h.01M364.2 280.1h.01M365.6 263.2h.01" stroke="#fcffa4"/>
<path d="M374.5 344.0h.01M318.9 298.0h.01M386.8 268.5h.01M374.9 322.0h.01M365.9 311.0h.01M340.7 349.2h.01M378.2 303.5h.01M371.0 312.6h.01M358.7 278.1h.01M385.9 326.3h.01M366.6 293.4h.01M397.0 264.9h.01M353.4 303.8h.01M383.5 335.1h.01M363.3 286.2h.01M379.4 340.2h.01M351.4 302.5h.01M381.5 294.1h.01M367.4 354.0h.01M349.3 283.8h.01M338.9 295.1h.01M370.9 303.6h.01M390.8 345.1h.01M369.4 354.1h.01M357.8 340.5h.01M367.6 311.1h.01M383.9 271.2h.01M362.3 347.0h.01M365.6 296.3h.01M366.7 344.5h.01M383.2 357.4h.01M391.9 340.2h.01M373.6 345.6h.01M383.5 268.8h.01M353.8 290.8h.01M346.7 320.5h.01M385.7 342.9h.01M311.4 353.7h.01M347.2 313.0h.01M371.4 268.5h.01" stroke="#000004"/>
<path d="M342.0 288.9h.01M390.1 328.4h.01M392.7 271.6h.01M344.4 312.9h.01M386.7 289.0h.01M355.5 334.8h.01M344.3 302.4h.01M375.8 356.4h.01" stroke="#781c6d"/>
<path d="M341.1 299.0h.01M354.8 283.9h.01M360.4 349.1h.01M381.8 266.7h.01M392.8 273.7h.01M383.0 347.4h.01M370.9 342.5h.01M390.6 358.4h.01M375.7 286.4h.01M358.7 356.5h.01M369.3 306.0h.01M382.0 285.1h.01M363.4 288.2h.01M321.3 292.3h.01M383.8 270.7h.01M348.5 336.6h.01M373.1 295.4h.01M304.3 291.6h.01M379.7 353.6h.01M356.8 349.6h.01M377.9 300.2h.01M373.0 300.1h.01M383.3 360.4h.01" stroke="#ed6925"/>
<path d="M380.9 341.5h.01M366.7 257.5h.01M376.9 350.8h.01" stroke="#fcffa4"/>
<path d="M374.1 294.1h.01M371.6 298.7h.01M383.3 327.8h.01M356.5 352.9h.01M372.7 301.8h.01M393.5 344.3h.01M381.5 286.2h.01M369.9 342.0h.01M344.3 288.7h.01M378.5 289.0h.01M376.6 347.1h.01M372.3 337.9h.01M381.1 264.3h.01M371.9 312.0h.01M362.2 269.6h.01M368.7 350.9h.01M383.9 316.2h.01M360.5 294.9h.01M368.6 339.3h.01M334.3 301.0h.01M379.8 269.0h.01M345.3 295.0h.01M381.2 341.9h.01M331.6 301.5h.01M302.7 329.1h.01M343.5 296.6h.01M348.4 359.6h.01M397.1 277.7h.01M381.1 304.6h.01M361.9 357.5h.01M360.3 279.9h.01M347.1 343.4h.01M349.9 358.4h.01M331.2 318.3h.01M393.3 268.6h.01M341.8 314.8h.01" stroke="#000004"/>
<path d="M373.9 341.5h.01M386.2 355.6h.01M385.9 291.3h.01M387.7 281.5h.01M362.0 321.2h.01" stroke="#781c6d"/>
<path d="M393.9 257.4h.01M357.3 300.1h.01M386.7 344.7h.01M349.9 287.6h.01M326.0 287.9h.01M369.4 339.1h.01M367.4 321.4h.01M372.0 318.0h.01M380.5 302.2h.01M344.4 272.3h.01M354.8 308.5h.01M362.4 267.3h.01M382.8 291.7h.01M353.7 322.6h.01M356.7 319.2h.01M367.4 305.4h.01M374.4 313.1h.01M406.6 338.2h.01M372.2 273.5h.01M351.2 304.0h.01M362.7 270.0h.01M356.0 261.5h.01M390.0 289.2h.01M383.1 334.8h.01M372.1 357.1h.01M370.0 278.1h.01M331.8 341.2h.01M349.8 340.4h.01M338.3 320.1h.01M391.1 292.1h.01M391.4 265.3h.01" stroke="#ed6925"/>
<path d="M376.1 343.9h.01M362.7 319.1h.01" stroke="#fcffa4"/>
<path d="M404.3 303.2h.01M373.4 351.0h.01M356.0 333.0h.01M362.2 308.0h.01M390.8 262.5h.01M351.4 353.7h.01M351.1 326.9h.01M361.8 278.6h.01M373.7 312.4h.01M383.0 350.7h.01M393.0 356.5h.01M363.3 320.5h.01M367.4 342.4h.01M371.5 322.8h.01M317.4 268.8h.01M395.2 345.4h.01M346.0 318.1h.01M398.1 276.0h.01M360.8 346.1h.01M396.1 272.4h.01M369.8 350.9h.01M381.7 259.1h.01M380.2 343.3h.01M338.2 268.9h.01M364.0 265.4h.01M365.4 325.7h.01M349.5 309.4h.01M347.8 301.4h.01M364.5 354.0h.01M340.6 321.5h.01M388.1 343.4h.01M387.4 329.3h.01M393.3 344.0h.01M362.5 306.4h.01M365.0 344.6h.01M324.7 297.7h.01M361.0 272.6h.01" stroke="#000004"/>
<path d="M375.5 271.4h.01M358.4 274.0h.01M382.9 328.2h.01M388.1 290.6h.01M346.9 352.8h.01M348.1 352.9h.01" stroke="#781c6d"/>
<path d="M383.7 355.0h.01M374.9 361.3h.01M393.9 368.4h.01M362.5 295.6h.01M372.7 350.7h.01M390.8 345.9h.01M365.5 265.8h.01M388.8 298.5h.01M368.8 288.7h.01M328.7 293.3h.01M356.3 309.3h.01M367.9 353.6h.01M349.9 285.3h.01M385.1 348.2h.01M382.6 312.0h.01M338.2 295.1h.01M362.5 274.1h.01M357.1 329.8h.01M391.6 361.1h.01M366.5 334.7h.01M354.3 361.0h.01M396.5 277.7h.01M363.1 346.6h.01M364.3 282.0h.01M364.6 309.0h.01M351.8 320.8h.01M376.1 269.3h.01M364.0 342.8h.01M360.0 335.3h.01M398.2 256.6h.01" stroke="#ed6925"/>
<path d="M388.8 289.1h.01" stroke="#fcffa4"/>
<path d="M349.3 310.4h.01M375.2 259.7h.01M365.5 326.3h.01M341.5 327.1h.01M394.5 268.8h.01M385.7 301.1h.01M380.2 287.6h.01M360.6 323.0h.01M352.8 320.0h.01M342.9 351.6h.01M368.3 333.1h.01M314.4 304.2h.01M376.9 286.5h.01M375.0 360.4h.01M371.2 278.5h.01M392.9 263.8h.01M392.3 291.4h.01M361.2 285.8h.01M347.3 348.8h.01M327.3 302.5h.01M364.0 359.4h.01M351.0 345.2h.01M382.0 327.2h.01M366.8 353.7h.01M380.9 299.9h.01M377.4 279.1h.01M397.4 284.6h.01M376.5 341.6h.01M311.8 299.5h.01M337.6 342.3h.01M379.7 287.7h.01M391.4 274.8h.01M371.8 302.6h.01M397.1 331.0h.01M344.6 284.6h.01M386.4 303.7h.01M360.6 277.4h.01M310.3 319.8h.01M370.7 274.9h.01M313.3 330.9h.01M346.1 341.2h.01M341.9 341.1h.01M346.9 284.0h.01M377.8 351.4h.01M385.5 336.8h.01M388.3 255.1h.01M361.7 298.5h.01M384.8 345.3h.01" stroke="#000004"/>
<path d="M387.2 322.3h.01M336.2 348.1h.01M363.3 333.1h.01M362.0 350.9h.01M336.4 333.1h.01M364.2 300.7h.01M372.2 318.3h.01M401.3 262.6h.01" stroke="#781c6d"/>
<path d="M374.2 349.2h.01M390.7 315.7h.01M375.2 341.3h.01M391.6 279.3h.01M323.4 290.7h.01M358.1 285.8h.01M395.6 348.0h.01M356.5 314.0h.01M376.6 347.8h.01M334.8 288.3h.01M340.3 342.3h.01M383.4 304.0h.01M370.6 290.8h.01M357.3 302.5h.01M376.0 280.7h.01M364.7 255.2h.01M338.8 351.5h.01M388.2 348.3h.01" stroke="#ed6925"/>
<path d="M353.8 344.5h.01M345.6 330.3h.01M389.2 343.5h.01M363.1 350.1h.01M373.4 336.1h.01M384.1 339.7h.01M352.2 316.1h.01M388.7 275.5h.01M372.6 259.3h.01M365.8 338.5h.01M394.7 323.7h.01M375.8 278.0h.01M370.0 307.0h.01M368.8 307.9h.01M350.4 337.7h.01M354.2 335.2h.01M361.8 296.9h.01M394.0 318.7h.01M360.3 289.8h.01M374.5 286.3h.01M397.6 299.0h.01M368.4 314.6h.01M353.2 351.1h.01M362.8 293.5h.01M338.8 325.9h.01M362.5 301.8h.01M376.6 296.1h.01M371.8 267.2h.01M379.9 253.9h.01M360.3 336.8h.01M352.3 288.7h.01M397.4 337.8h.01M379.7 345.7h.01M362.6 343.6h.01M341.5 287.0h.01M390.5 273.1h.01M351.9 267.6h.01M388.8 327.0h.01M384.4 353.1h.01M360.2 355.6h.01" stroke="#000004"/>
<path d="M338.7 280.7h.01M333.6 322.5h.01M385.1 289.3h.01M374.3 338.0h.01M372.0 313.1h.01M375.8 350.6h.01" stroke="#781c6d"/>
<path d="M352.6 342.6h.01M398.3 361.4h.01M374.2 335.8h.01M347.8 280.6h.01M341.2 284.1h.01M379.6 301.4h.01M380.0 271.8h.01M370.3 361.5h.01M376.7 298.0h.01M334.3 287.3h.01M364.5 358.1h.01M359.2 337.4h.01M377.3 307.6h.01M343.5 294.0h.01M375.5 283.2h.01M319.9 346.3h.01M353.0 284.0h.01M383.1 289.3h.01M394.3 334.5h.01M395.6 299.8h.01M390.8 301.9h.01M348.1 264.9h.01M387.6 312.5h.01M367.8 283.1h.01M385.8 351.9h.01" stroke="#ed6925"/>
<path d="M368.0 298.1h.01M378.6 359.2h.01M364.4 267.1h.01" stroke="#fcffa4"/>
<path d="M373.9 297.9h.01M346.0 340.7h.01M373.6 363.4h.01M377.4 284.9h.01M387.2 357.8h.01M367.0 295.4h.01M376.9 256.4h.01M383.9 297.7h.01M309.9 289.6h.01M370.5 271.1h.01M330.3 342.1h.01M354.9 295.0h.01M367.6 334.8h.01M392.3 354.5h.01M365.6 353.2h.01M377.3 296.6h.01M390.9 259.3h.01M358.0 351.4h.01M384.2 297.4h.01M350.6 331.2h.01M364.7 275.8h.01M383.2 340.3h.01M357.9 310.8h.01M391.2 345.6h.01M359.2 333.5h.01M383.8 314.1h.01M377.7 294.2h.01M372.3 341.9h.01M357.2 353.6h.01M356.7 336.3h.01M377.9 330.5h.01M391.7 296.2h.01M380.5 283.5h.01M388.4 321.1h.01M375.5 306.0h.01M358.1 347.0h.01M360.7 294.5h.01M376.2 311.9h.01M350.7 330.2h.01" stroke="#000004"/>
<path d="M374.8 289.7h.01M386.3 267.9h.01M395.6 254.9h.01M380.5 299.9h.01M360.6 304.1h.01M392.3 260.7h.01M371.3 304.8h.01M343.1 355.3h.01M375.9 361.7h.01M345.6 297.2h.01M346.2 328.9h.01M377.7 351.7h.01" stroke="#781c6d"/>
<path d="M388.8 285.2h.01M393.0 254.6h.01M367.9 355.3h.01M368.8 351.4h.01M344.3 301.0h.01M352.6 340.2h.01M380.3 287.2h.01M337.2 295.2h.01M395.3 286.2h.01M383.6 285.9h.01M369.8 339.7h.01M370.3 264.1h.01M363.6 289.2h.01M394.7 352.9h.01M368.4 307.7h.01M377.4 258.8h.01M378.7 269.7h.01M390.5 354.3h.01M360.7 335.1h.01M317.6 309.7h.01M373.7 307.1h.01M394.9 340.3h.01" stroke="#ed6925"/>
<path d="M364.6 348.8h.01" stroke="#fcffa4"/>
<path d="M351.1 266.4h.01M386.5 276.1h.01M359.2 342.5h.01M374.0 302.0h.01M356.9 266.3h.01M353.0 302.9h.01M386.6 361.6h.01M316.5 310.1h.01M364.4 339.9h.01M382.2 283.0h.01M375.7 295.8h.01M353.9 352.5h.01M374.0 310.7h.01M397.3 304.9h.01M344.0 270.1h.01M365.6 303.9h.01M374.1 306.1h.01M381.3 263.8h.01M370.5 334.4h.01M381.6 339.6h.01M378.6 282.3h.01M346.7 319.7h.01M387.1 341.3h.01M390.7 276.9h.01M389.0 361.8h.01M359.7 349.6h.01M344.0 287.3h.01M342.0 308.6h.01M361.2 303.6h.01M364.6 308.0h.01M379.6 278.8h.01M350.1 291.7h.01M384.0 300.1h.01M390.2 258.0h.01M342.9 301.3h.01M337.7 334.4h.01M365.6 355.9h.01M391.3 287.7h.01M401.2 329.7h.01M367.1 311.4h.01" stroke="#000004"/>
<path d="M380.9 296.2h.01M360.9 284.9h.01M342.4 278.2h.01M353.2 341.3h.01M377.0 279.0h.01M376.8 279.3h.01M347.2 303.1h.01" stroke="#781c6d"/>
<path d="M374.9 329.1h.01M337.8 295.0h.01M363.3 345.9h.01M374.8 297.8h.01M341.3 328.2h.01M387.1 351.9h.01M381.0 342.6h.01M394.9 299.9h.01M361.8 323.7h.01M350.2 321.3h.01M375.7 331.5h.01M396.6 282.9h.01M343.3 310.5h.01M386.1 260.5h.01M357.6 257.8h.01M371.6 283.1h.01M375.9 308.3h.01M334.8 311.8h.01M357.9 301.4h.01M368.5 357.5h.01M381.1 337.8h.01M383.7 265.3h.01M342.4 358.6h.01M369.4 344.9h.01M362.0 357.0h.01" stroke="#ed6925"/>
<path d="M367.4 275.6h.01" stroke="#fcffa4"/>
<path d="M379.5 260.2h.01M305.4 320.5h.01M383.0 325.2h.01M371.4 331.1h.01M335.3 350.2h.01M316.2 314.2h.01M341.7 309.2h.01M372.7 354.1h.01M387.0 276.9h.01M339.1 291.9h.01M376.6 283.8h.01M385.0 279.2h.01M363.5 345.7h.01M348.8 289.8h.01M354.2 353.9h.01M333.0 276.0h.01M372.7 278.2h.01M379.5 286.2h.01M364.6 310.2h.01M333.1 287.5h.01M319.9 280.2h.01M366.2 315.9h.01M391.4 333.1h.01M380.5 357.9h.01M344.4 290.6h.01M372.9 334.5h.01M384.0 296.8h.01M377.5 345.3h.01M334.8 319.5h.01M361.8 331.7h.01M361.7 361.1h.01M343.0 358.7h.01M352.0 357.6h.01M323.6 302.4h.01M370.7 304.3h.01M389.3 351.8h.01M316.1 328.4h.01M376.4 256.4h.01M381.7 356.6h.01M378.9 288.7h.01M377.9 343.1h.01M382.7 291.3h.01M353.3 268.9h.01M335.6 296.1h.01M375.3 354.0h.01" stroke="#000004"/>
<path d="M335.2 338.8h.01M387.3 358.7h.01M351.4 316.9h.01M338.9 332.8h.01" stroke="#781c6d"/>
<path d="M374.2 283.5h.01M373.8 327.0h.01M342.4 312.6h.01M351.5 350.4h.01M363.3 290.6h.01M346.8 341.5h.01M375.0 353.4h.01M336.7 334.0h.01M363.1 332.4h.01M389.0 279.2h.01M381.6 322.1h.01M394.9 274.7h.01M339.1 293.1h.01M372.3 339.8h.01M359.6 336.7h.01M378.0 346.3h.01M386.7 360.7h.01M334.2 307.4h.01M371.2 299.4h.01M355.9 342.3h.01M315.1 290.9h.01M372.6 307.2h.01M348.5 266.4h.01" stroke="#ed6925"/>
<path d="M392.1 301.2h.01" stroke="#fcffa4"/>
<path d="M357.6 341.0h.01M399.1 350.3h.01M351.5 304.6h.01M396.4 259.4h.01M342.3 327.0h.01M367.1 315.3h.01M386.3 288.6h.01M352.8 337.4h.01M342.5 287.6h.01M398.1 284.8h.01M345.9 302.2h.01M385.7 349.2h.01M353.0 318.6h.01M351.0 341.9h.01M385.2 342.9h.01M339.8 292.0h.01M386.7 332.9h.01M370.9 262.5h.01M371.6 285.3h.01M335.8 271.6h.01M340.6 292.5h.01M370.9 297.0h.01M367.3 320.2h.01M391.1 291.6h.01M357.6 300.2h.01M370.5 299.8h.01M380.4 278.6h.01M368.2 301.8h.01M388.9 288.0h.01M369.9 308.1h.01M380.1 272.1h.01M360.3 320.2h.01M368.1 278.9h.01M396.4 267.3h.01M370.9 255.4h.01M336.3 310.0h.01M362.5 342.1h.01M370.9 353.3h.01M352.1 282.9h.01" stroke="#000004"/>
<path d="M363.2 300.2h.01M351.0 277.0h.01M381.7 262.2h.01M340.7 294.5h.01M390.0 351.1h.01M398.9 286.4h.01M372.2 331.1h.01M350.6 328.4h.01M361.6 339.3h.01M365.3 349.9h.01M394.8 274.4h.01" stroke="#781c6d"/>
<path d="M356.3 302.7h.01M383.2 269.6h.01M372.8 353.8h.01M362.6 270.9h.01M370.7 316.3h.01M371.6 354.5h.01M383.9 357.6h.01M396.1 274.7h.01M360.7 309.1h.01M376.8 333.9h.01M390.1 279.8h.01M357.4 350.2h.01M361.9 351.0h.01M396.9 311.9h.01M360.5 329.7h.01M392.6 269.7h.01M366.9 335.6h.01M371.1 297.5h.01M338.1 308.8h.01M372.7 307.0h.01M396.3 262.6h.01M365.8 257.1h.01M384.3 266.3h.01" stroke="#ed6925"/>
<path d="M389.4 346.5h.01M366.8 275.9h.01M396.4 298.4h.01M337.7 322.7h.01M365.4 321.9h.01M397.0 296.6h.01M364.1 297.7h.01M375.8 341.2h.01M317.2 264.8h.01M379.4 275.2h.01M388.0 281.5h.01M356.9 345.9h.01M378.1 349.6h.01M333.7 293.9h.01M368.1 312.3h.01M370.9 259.4h.01M359.6 277.4h.01M357.9 348.7h.01M392.1 340.4h.01M380.4 337.6h.01M363.1 353.6h.01M378.5 350.3h.01M376.8 346.5h.01M387.7 300.0h.01M375.5 293.6h.01M364.4 356.3h.01M355.4 345.3h.01M370.5 353.3h.01M380.3 277.9h.01M379.6 290.3h.01M382.1 345.6h.01M353.8 336.9h.01M391.3 264.1h.01M363.3 352.5h.01M381.6 295.1h.01M387.7 293.2h.01M369.5 278.9h.01" stroke="#000004"/>
<path d="M378.6 292.8h.01M376.7 314.5h.01M394.4 264.5h.01M401.2 309.3h.01" stroke="#781c6d"/>
<path d="M358.4 352.8h.01M369.1 284.3h.01M384.2 332.9h.01M355.1 308.9h.01M365.6 336.0h.01M382.9 314.4h.01M344.0 280.2h.01M391.7 333.1h.01M378.8 334.3h.01M383.3 359.1h.01M354.5 282.3h.01M361.1 309.3h.01M335.1 290.4h.01M404.1 310.6h.01M387.0 353.6h.01M352.0 296.2h.01M391.6 264.2h.01M380.2 322.1h.01M374.6 283.1h.01M343.7 273.4h.01M361.8 357.0h.01M383.1 272.5h.01M381.1 282.6h.01M378.8 345.8h.01M358.5 338.4h.01M372.5 353.8h.01M382.7 301.7h.01M393.6 289.5h.01M391.0 345.8h.01M367.6 337.9h.01M354.8 342.4h.01M383.9 326.2h.01" stroke="#ed6925"/>
<path d="M397.6 254.9h.01M335.6 353.3h.01M394.5 254.3h.01M378.0 299.6h.01M396.6 333.5h.01M356.3 335.7h.01M397.6 309.8h.01M387.3 357.5h.01M381.4 335.8h.01M356.4 325.1h.01M403.7 329.5h.01M394.6 274.4h.01M371.9 357.6h.01M364.3 301.8h.01M350.3 304.8h.01M355.4 275.9h.01M393.5 279.9h.01M367.5 298.1h.01M370.6 303.8h.01M349.4 287.4h.01M342.4 355.8h.01M375.6 355.4h.01M380.8 301.2h.01M378.8 300.9h.01M341.1 346.2h.01M387.5 345.5h.01M328.7 342.0h.01M353.8 352.7h.01M373.8 331.8h.01M361.4 279.9h.01M370.5 349.8h.01M342.6 278.1h.01M384.5 351.1h.01M340.1 292.5h.01M311.3 303.0h.01M361.6 337.7h.01" stroke="#000004"/>
<path d="M373.2 294.3h.01M357.9 273.7h.01M377.2 302.3h.01M366.9 349.8h.01M357.2 280.8h.01M346.7 345.9h.01" stroke="#781c6d"/>
<path d="M383.5 283.8h.01M382.0 349.4h.01M380.6 338.3h.01M408.4 259.7h.01M349.7 281.2h.01M391.7 292.1h.01M354.4 282.9h.01M353.5 268.2h.01M380.4 287.6h.01M397.9 273.5h.01M392.3 278.5h.01M394.1 306.1h.01M370.7 332.6h.01M360.2 308.8h.01M389.1 281.4h.01M397.1 289.5h.01M366.1 322.0h.01M387.1 349.5h.01M364.7 351.5h.01M357.6 337.8h.01M332.5 277.8h.01M358.5 291.0h.01M377.4 262.1h.01M391.7 295.4h.01M395.7 263.7h.01M383.7 345.5h.01M346.1 311.7h.01M376.3 280.3h.01M366.1 301.6h.01M355.9 357.5h.01" stroke="#ed6925"/>
<path d="M372.7 276.4h.01" stroke="#fcffa4"/>
<path d="M362.1 339.1h.01M340.1 316.3h.01M393.2 296.6h.01M393.5 282.1h.01M379.7 279.3h.01M306.5 338.5h.01M386.0 343.4h.01M334.4 304.8h.01M356.0 345.6h.01M334.5 279.2h.01M382.1 278.7h.01M355.5 282.6h.01M371.3 325.1h.01M382.5 266.1h.01M392.3 300.1h.01M367.2 341.8h.01M383.5 334.4h.01M366.5 291.9h.01M377.6 329.2h.01M344.9 316.1h.01M394.7 283.8h.01M376.2 267.4h.01M366.9 348.9h.01M395.9 272.0h.01M337.0 298.4h.01M357.8 261.5h.01M350.8 340.8h.01M367.4 353.8h.01M380.0 342.2h.01M338.9 361.6h.01M391.9 328.4h.01M350.2 329.2h.01M340.0 313.5h.01M395.8 333.8h.01M381.5 303.1h.01M359.4 321.1h.01M369.3 302.7h.01M358.2 337.1h.01M394.8 356.3h.01M389.7 336.4h.01" stroke="#000004"/>
<path d="M373.6 336.1h.01M361.8 286.6h.01M367.9 280.7h.01M388.4 291.7h.01M368.4 292.2h.01" stroke="#781c6d"/>
<path d="M385.8 336.6h.01M393.7 298.6h.01M376.4 361.4h.01M353.0 355.5h.01M360.9 335.3h.01M346.6 302.0h.01M370.5 357.3h.01M355.9 313.7h.01M390.4 334.7h.01M378.6 316.4h.01M374.4 274.1h.01M401.3 324.3h.01M362.9 350.6h.01M347.9 294.7h.01M343.9 303.7h.01M361.9 343.1h.01M368.4 285.7h.01M394.9 293.4h.01M370.5 272.9h.01M371.2 322.3h.01M368.2 336.4h.01M359.7 347.6h.01M335.2 313.4h.01M378.7 353.0h.01M375.2 357.4h.01M351.9 282.9h.01M348.2 347.7h.01" stroke="#ed6925"/>
<path d="M390.7 274.2h.01" stroke="#fcffa4"/>
<path d="M345.6 269.9h.01M388.3 300.2h.01M371.2 332.7h.01M384.8 333.9h.01M393.7 353.6h.01M365.5 337.3h.01M396.5 286.9h.01M362.3 271.8h.01M388.1 275.9h.01M353.7 336.3h.01M326.9 281.5h.01M377.5 343.4h.01M382.9 340.3h.01M366.9 344.7h.01M372.2 292.2h.01M350.3 279.0h.01M334.8 291.9h.01M378.6 305.6h.01M352.3 358.7h.01M337.3 337.5h.01M396.8 270.2h.01M390.4 348.1h.01M395.4 267.5h.01M365.7 329.0h.01M364.3 300.2h.01M366.1 346.2h.01M393.7 270.1h.01M368.0 357.8h.01M375.9 270.9h.01M359.5 314.2h.01M382.7 259.9h.01" stroke="#000004"/>
<path d="M350.2 270.5h.01M346.5 262.0h.01M379.0 339.6h.01M389.4 255.6h.01M359.0 306.3h.01M380.1 254.2h.01M359.7 345.9h.01M343.1 272.1h.01M368.9 300.6h.01M382.8 346.9h.01M378.7 270.2h.01M369.9 306.4h.01M381.3 276.9h.01M386.4 286.7h.01" stroke="#781c6d"/>
<path d="M350.1 310.6h.01M383.8 277.7h.01M374.2 272.3h.01M359.4 347.2h.01M351.5 317.7h.01M367.6 286.1h.01M353.0 257.1h.01M377.6 361.0h.01M391.8 304.3h.01M345.8 339.5h.01M371.1 352.6h.01M385.0 358.5h.01M394.9 335.0h.01M361.8 325.5h.01M346.2 344.0h.01M352.9 354.4h.01M360.3 340.7h.01M388.4 341.4h.01M378.2 339.5h.01M339.2 279.2h.01M393.4 344.1h.01M393.4 311.9h.01M374.9 339.4h.01M332.1 317.4h.01M396.3 350.2h.01M346.6 302.2h.01" stroke="#ed6925"/>
<path d="M335.5 273.6h.01M371.4 354.4h.01" stroke="#fcffa4"/>
<path d="M349.1 326.7h.01M386.3 345.2h.01M346.1 347.0h.01M354.3 316.2h.01M383.2 284.1h.01M321.6 311.5h.01M373.8 354.4h.01M342.5 346.4h.01M347.0 344.5h.01M396.2 300.1h.01M393.9 321.6h.01M381.0 288.1h.01M355.1 356.4h.01M384.3 345.6h.01M361.5 354.2h.01M338.1 320.9h.01M360.1 283.6h.01M362.1 274.5h.01M335.5 322.5h.01M355.1 303.7h.01M364.2 299.3h.01M344.2 338.4h.01M403.4 315.8h.01M365.9 296.9h.01M373.3 286.1h.01M367.0 306.7h.01M392.2 273.2h.01M380.5 287.3h.01M400.7 329.6h.01M383.5 290.3h.01M395.2 293.9h.01M401.1 278.2h.01M380.9 352.6h.01M393.0 261.9h.01M368.7 306.0h.01M343.9 347.2h.01M347.1 320.4h.01M338.7 335.8h.01M371.8 334.2h.01M399.1 300.6h.01M379.2 294.6h.01M364.3 354.8h.01M334.8 341.4h.01M374.4 319.5h.01" stroke="#000004"/>
<path d="M343.8 322.5h.01M355.2 258.3h.01M361.8 266.4h.01M403.5 300.9h.01M385.0 343.1h.01" stroke="#781c6d"/>
<path d="M371.1 340.8h.01M377.3 341.1h.01M363.0 295.3h.01M340.7 291.9h.01M385.4 339.4h.01M363.7 289.0h.01M377.5 297.1h.01M367.5 312.5h.01M348.0 328.7h.01M374.4 330.8h.01M345.4 342.3h.01M347.6 349.4h.01M343.9 304.4h.01M387.5 294.6h.01M317.8 272.5h.01M371.2 266.1h.01M362.9 345.5h.01M367.5 280.9h.01M341.2 332.3h.01M382.3 323.2h.01M379.2 292.3h.01M387.3 328.5h.01M359.8 302.5h.01M391.7 315.4h.01" stroke="#ed6925"/>
<path d="M313.2 344.5h.01M323.0 352.1h.01M337.5 278.5h.01M408.4 332.3h.01M395.3 286.2h.01M356.7 270.2h.01M338.1 284.9h.01M387.2 341.4h.01M320.0 276.6h.01M365.9 278.7h.01M381.2 296.7h.01M360.2 352.7h.01M392.5 260.0h.01M363.2 308.2h.01M380.9 286.7h.01M356.4 274.4h.01M375.4 268.7h.01M327.4 310.0h.01M335.0 273.8h.01M339.4 294.6h.01M393.2 280.2h.01M357.0 332.3h.01M341.7 358.3h.01M340.0 317.0h.01M372.4 294.9h.01M379.4 341.9h.01M372.5 317.2h.01M350.2 330.9h.01M388.6 314.5h.01M338.0 301.2h.01M368.9 341.8h.01M342.3 342.9h.01M390.9 264.1h.01M356.3 346.7h.01M341.6 339.9h.01M375.1 285.2h.01M348.2 336.1h.01M328.2 291.7h.01M378.7 322.2h.01M363.4 351.0h.01M389.4 340.4h.01M396.4 275.5h.01" stroke="#000004"/>
<path d="M383.5 331.1h.01M345.1 315.9h.01M346.5 300.5h.01" stroke="#781c6d"/>
<path d="M376.6 277.3h.01M350.8 348.6h.01M389.2 355.5h.01M364.3 317.3h.01M344.4 309.5h.01M362.3 340.4h.01M397.2 281.5h.01M355.6 350.9h.01M364.5 318.7h.01M361.9 334.7h.01M368.7 287.7h.01M394.3 360.9h.01M357.9 336.2h.01M359.5 305.7h.01M388.5 276.0h.01M382.5 266.1h.01M397.9 284.2h.01M361.4 320.4h.01M397.0 329.6h.01M388.5 349.5h.01M373.0 342.2h.01M373.4 296.2h.01M364.2 306.5h.01M375.3 283.6h.01M354.1 351.4h.01M373.8 348.0h.01" stroke="#ed6925"/>
<path d="M381.5 320.9h.01M382.9 347.5h.01" stroke="#fcffa4"/>
<path d="M343.9 360.1h.01M389.0 328.5h.01M390.5 292.3h.01M380.8 267.4h.01M388.5 295.8h.01M383.5 333.8h.01M362.5 326.7h.01M354.6 338.1h.01M378.7 309.3h.01M362.7 302.1h.01M366.3 272.8h.01M357.9 342.1h.01M384.5 296.3h.01M343.4 344.1h.01M361.1 298.7h.01M367.8 280.4h.01M376.1 270.6h.01M368.5 346.1h.01M397.4 268.6h.01M394.5 275.3h.01M353.2 294.1h.01M367.4 307.6h.01M370.3 278.0h.01M398.3 273.0h.01M372.0 326.1h.01M319.6 283.6h.01M380.5 282.9h.01M347.5 305.2h.01M376.6 347.6h.01M348.6 347.9h.01M362.6 322.7h.01M353.6 301.8h.01M380.5 267.1h.01M366.4 340.8h.01M393.8 273.0h.01M393.5 280.1h.01M360.6 293.2h.01" stroke="#000004"/>
<path d="M353.2 306.0h.01M379.8 357.0h.01M381.5 283.3h.01M360.9 278.6h.01M357.3 343.0h.01M356.2 341.5h.01M363.0 339.3h.01M373.1 303.9h.01" stroke="#781c6d"/>
<path d="M400.4 286.4h.01M388.3 360.3h.01M333.6 340.2h.01M344.3 303.3h.01M394.9 275.3h.01M375.1 303.4h.01M355.0 334.0h.01M371.4 275.1h.01M361.6 346.3h.01M359.1 294.5h.01M323.1 289.0h.01M361.9 289.6h.01M347.4 301.2h.01M356.7 269.6h.01M353.0 262.2h.01M342.2 333.8h.01M354.0 310.2h.01M350.8 336.6h.01M355.8 343.9h.01M360.1 261.6h.01M355.8 289.0h.01M411.5 335.4h.01M364.1 254.6h.01M376.1 351.1h.01M369.6 286.5h.01" stroke="#ed6925"/>
<path d="M364.1 360.3h.01M394.2 271.0h.01M352.6 304.0h.01" stroke="#fcffa4"/>
<path d="M396.9 276.8h.01M361.7 285.4h.01M356.1 291.7h.01M395.1 335.4h.01M333.2 330.3h.01M362.2 272.4h.01M389.2 275.4h.01M352.6 281.2h.01M374.7 293.1h.01M393.8 273.2h.01M302.5 297.3h.01M361.2 301.4h.01M392.4 352.1h.01M372.6 317.6h.01M378.8 295.9h.01M371.0 298.1h.01M369.5 280.3h.01M393.0 312.8h.01M388.3 330.2h.01M371.4 328.9h.01M364.9 344.5h.01M386.2 280.4h.01M347.9 283.5h.01M359.1 283.8h.01M347.3 283.5h.01M361.8 291.9h.01M387.4 337.6h.01M363.4 307.2h.01M375.3 342.0h.01M380.2 304.9h.01M386.8 344.7h.01M384.3 285.2h.01M388.6 308.3h.01M396.1 295.8h.01M395.4 255.5h.01M390.9 287.6h.01M271.9 244.1h.01M426.2 254.3h.01M426.2 259.1h.01M410.8 274.0h.01M412.4 280.0h.01M407.7 277.0h.01M415.4 324.8h.01M410.8 336.8h.01" stroke="#000004"/>
<path d="M378.8 351.4h.01M338.4 273.0h.01M393.7 345.5h.01M389.5 353.2h.01M390.2 351.2h.01M385.1 264.9h.01" stroke="#781c6d"/>
<path d="M395.9 343.9h.01M359.7 334.9h.01M345.0 325.8h.01M346.1 345.8h.01M373.7 315.5h.01M370.2 284.8h.01M340.6 304.4h.01M379.8 362.9h.01M364.0 358.8h.01M360.3 337.0h.01M385.9 303.2h.01M348.1 280.0h.01M352.4 345.2h.01M359.1 339.9h.01M362.7 354.0h.01M389.0 269.3h.01M390.7 346.6h.01M393.8 327.6h.01M398.5 322.2h.01M389.2 356.7h.01" stroke="#ed6925"/>
<path d="M365.8 360.2h.01M374.1 272.2h.01M292.0 346.4h.01" stroke="#fcffa4"/>
</g>
<rect x="264.2" y="238.0" width="169.5" height="135.6" fill="none" stroke="#000" stroke-opacity="0.45" stroke-width="0.5"/>
<text x="271.9" y="382.0" text-anchor="middle" class="t">0.0</text>
<text x="302.8" y="382.0" text-anchor="middle" class="t">0.2</text>
<text x="333.7" y="382.0" text-anchor="middle" class="t">0.4</text>
<text x="364.5" y="382.0" text-anchor="middle" class="t">0.6</text>
<text x="395.4" y="382.0" text-anchor="middle" class="t">0.8</text>
<text x="426.2" y="382.0" text-anchor="middle" class="t">1.0</text>
<text x="261.7" y="369.4" text-anchor="end" class="t">50</text>
<text x="261.7" y="339.5" text-anchor="end" class="t">100</text>
<text x="261.7" y="309.6" text-anchor="end" class="t">150</text>
<text x="261.7" y="279.7" text-anchor="end" class="t">200</text>
<text x="261.7" y="249.8" text-anchor="end" class="t">250</text>
<path d="M271.9 373.6v1.4M302.8 373.6v1.4M333.7 373.6v1.4M364.5 373.6v1.4M395.4 373.6v1.4M426.2 373.6v1.4M264.2 366.7h-1.4M264.2 336.8h-1.4M264.2 306.9h-1.4M264.2 277.0h-1.4M264.2 247.1h-1.4" stroke="#000" stroke-opacity="0.6" stroke-width="0.5" fill="none"/>
<text x="348.8" y="236.0" text-anchor="middle" class="ti">(d) Predicted area vs. mean pixel intensity</text>
</g>
<g>
<rect x="61.0" y="401.1" width="169.5" height="135.6" fill="#669a9b"/>
<clipPath id="c20"><rect x="61.0" y="401.1" width="169.5" height="135.6"/></clipPath>
<g clip-path="url(#c20)" fill="none" stroke-width="1.45" stroke-linecap="square">
<path d="M69.4 530.4h.01M76.2 521.2h.01M91.3 502.0h.01M103.3 493.9h.01M88.0 516.1h.01M70.5 528.8h.01M71.0 527.8h.01M97.3 490.5h.01M78.5 518.5h.01M82.1 520.9h.01M98.1 492.8h.01M89.4 504.4h.01M83.3 515.2h.01M96.7 494.1h.01M78.0 521.1h.01M81.5 510.6h.01M73.6 524.6h.01M92.5 499.5h.01M75.0 524.5h.01M76.3 523.3h.01M75.8 524.8h.01M77.4 523.2h.01M81.2 516.8h.01M88.8 504.2h.01M84.2 510.8h.01M77.3 521.7h.01M87.5 505.3h.01M74.2 523.6h.01M74.6 523.5h.01M72.1 527.9h.01M71.8 528.2h.01M80.7 518.8h.01M83.9 511.2h.01M82.4 520.5h.01M81.7 517.8h.01M79.2 519.9h.01M77.9 522.4h.01M77.2 520.8h.01M76.8 518.4h.01M76.5 522.3h.01M76.9 523.0h.01M105.1 497.7h.01M78.4 522.0h.01M89.1 507.1h.01M86.9 515.4h.01M94.1 510.3h.01M74.9 522.9h.01M80.0 517.1h.01M120.7 469.1h.01M71.2 527.7h.01M82.9 512.9h.01M70.9 528.7h.01M82.5 517.6h.01M76.4 520.3h.01M74.2 526.0h.01M69.6 529.9h.01M82.0 521.1h.01M70.6 529.2h.01M81.9 519.6h.01M79.8 513.8h.01M73.5 524.1h.01M72.3 527.2h.01M85.2 507.0h.01M77.6 522.7h.01M86.5 511.4h.01M84.3 511.3h.01M88.2 501.5h.01M70.8 528.8h.01M72.3 527.2h.01M74.7 523.0h.01M78.5 519.6h.01" stroke="#781c6d"/>
<path d="M79.5 523.7h.01M84.0 519.9h.01M74.9 528.0h.01M89.0 516.8h.01" stroke="#fcffa4"/>
<path d="M72.3 527.2h.01M98.9 495.6h.01M82.6 517.9h.01M71.7 527.7h.01M70.0 529.4h.01M74.8 522.4h.01M77.9 519.2h.01M76.7 522.5h.01M75.9 522.2h.01M76.0 522.6h.01M94.6 508.2h.01M71.3 529.2h.01M74.7 525.1h.01M79.8 513.9h.01M72.7 526.1h.01M71.8 528.3h.01M107.6 477.6h.01M70.3 528.8h.01M71.2 527.9h.01M82.7 514.3h.01M96.8 490.2h.01M75.7 523.6h.01M78.0 519.9h.01M76.1 522.2h.01M81.8 512.7h.01M87.9 504.7h.01M74.3 524.5h.01M70.8 528.2h.01M81.7 518.9h.01M72.5 527.8h.01M73.7 523.8h.01M78.4 516.5h.01M104.4 481.9h.01M79.8 519.7h.01M72.8 526.5h.01M73.6 526.2h.01M76.7 523.1h.01M78.1 520.9h.01M74.4 525.5h.01M72.0 527.0h.01M79.4 515.5h.01M74.0 525.4h.01M99.7 496.5h.01M74.8 522.1h.01M113.4 470.4h.01M72.8 525.6h.01M85.0 514.6h.01M70.2 529.4h.01M83.5 512.7h.01M76.6 521.2h.01M86.0 504.0h.01M76.8 523.4h.01M82.2 512.9h.01M76.2 522.7h.01M70.8 529.2h.01M81.5 514.0h.01M70.6 529.2h.01M87.8 511.4h.01M74.5 522.4h.01M90.1 508.3h.01M84.6 513.2h.01M93.9 505.6h.01M80.8 517.5h.01M84.0 509.1h.01M80.5 513.9h.01M75.1 520.8h.01M77.6 524.3h.01M90.3 511.1h.01M74.3 524.4h.01M85.5 506.9h.01" stroke="#781c6d"/>
<path d="M88.9 517.6h.01M78.2 522.4h.01" stroke="#ed6925"/>
<path d="M73.2 528.9h.01M106.7 508.9h.01M71.7 529.1h.01" stroke="#fcffa4"/>
<path d="M72.7 526.5h.01M74.7 523.3h.01M86.0 508.3h.01M91.6 501.5h.01M97.1 487.3h.01M81.1 515.4h.01M106.7 490.7h.01M78.8 521.5h.01M73.2 526.2h.01M87.1 506.0h.01M71.1 528.2h.01M79.3 515.2h.01M74.6 525.1h.01M78.8 518.6h.01M102.2 486.5h.01M76.3 521.1h.01M77.7 518.7h.01M77.5 517.7h.01M85.6 504.8h.01M76.2 523.1h.01M102.3 492.5h.01M71.7 526.6h.01M95.6 504.7h.01M71.2 527.4h.01M91.5 512.9h.01M110.3 482.1h.01M79.9 515.9h.01M77.5 517.9h.01M71.1 528.2h.01M80.4 517.3h.01M79.8 513.8h.01M69.7 530.0h.01M82.6 511.1h.01M85.7 506.8h.01M101.7 490.2h.01M89.5 505.8h.01M73.3 526.0h.01M72.7 525.6h.01M82.0 514.9h.01M82.0 514.8h.01M116.2 465.0h.01M73.2 526.3h.01M79.3 516.7h.01M76.4 521.6h.01M87.3 509.6h.01M71.8 528.1h.01M83.1 519.1h.01M73.7 524.3h.01M93.9 496.1h.01M87.5 513.6h.01M81.8 514.4h.01M71.5 528.9h.01M77.4 518.0h.01M84.8 510.4h.01M87.9 504.9h.01M75.9 522.7h.01M76.0 519.8h.01M76.6 523.2h.01M74.2 525.6h.01M81.6 515.6h.01M70.4 529.2h.01M80.4 521.0h.01M70.8 529.1h.01M71.7 528.3h.01M82.2 518.1h.01M83.0 515.6h.01M74.7 524.9h.01M75.5 525.0h.01M75.5 524.2h.01M79.6 515.0h.01M85.2 513.2h.01M73.8 523.5h.01M79.2 515.9h.01" stroke="#781c6d"/>
<path d="M75.4 526.8h.01" stroke="#ed6925"/>
<path d="M82.9 522.0h.01" stroke="#fcffa4"/>
<path d="M84.0 509.2h.01" stroke="#000004"/>
<path d="M75.7 520.9h.01M72.0 527.3h.01M90.5 499.9h.01M84.4 518.9h.01M112.4 487.0h.01M81.8 515.7h.01M71.8 528.7h.01M73.9 523.9h.01M71.8 527.2h.01M75.9 523.5h.01M79.1 517.5h.01M72.8 525.1h.01M71.1 527.8h.01M77.2 523.0h.01M83.2 517.0h.01M93.9 493.8h.01M93.7 501.6h.01M91.6 507.9h.01M99.6 487.0h.01M89.7 508.5h.01M85.4 510.6h.01M69.9 530.1h.01M88.8 512.3h.01M83.2 513.4h.01M77.2 520.0h.01M74.3 524.9h.01M81.5 514.1h.01M70.6 528.8h.01M90.6 506.4h.01M78.9 519.5h.01M73.2 524.2h.01M76.4 519.6h.01M73.9 523.2h.01M81.9 516.5h.01M85.5 509.3h.01M111.3 491.9h.01M73.4 524.9h.01M82.6 520.2h.01M74.9 522.9h.01M72.0 528.2h.01M82.0 515.7h.01M78.9 521.9h.01M78.0 521.5h.01M76.9 521.2h.01M82.5 508.8h.01M74.9 524.5h.01M72.9 526.8h.01M80.1 517.7h.01M71.9 527.4h.01M74.9 522.3h.01M91.6 493.6h.01M87.2 507.8h.01M70.4 529.1h.01M71.2 527.1h.01M84.9 517.8h.01M135.7 416.1h.01M72.9 524.8h.01M82.0 516.9h.01M70.8 528.0h.01M75.9 522.9h.01M78.7 523.1h.01M72.8 526.1h.01M84.4 509.0h.01M94.9 496.3h.01M70.3 529.3h.01M103.7 481.9h.01M80.8 514.5h.01M95.5 505.5h.01M83.1 515.1h.01M75.9 524.6h.01M69.8 529.9h.01" stroke="#781c6d"/>
<path d="M71.2 529.7h.01" stroke="#ed6925"/>
<path d="M76.4 526.6h.01M81.7 521.4h.01" stroke="#fcffa4"/>
<path d="M96.5 490.7h.01" stroke="#000004"/>
<path d="M79.2 515.0h.01M106.4 490.7h.01M88.6 501.9h.01M75.2 523.1h.01M77.6 521.9h.01M77.1 522.1h.01M98.0 502.1h.01M85.8 506.5h.01M71.6 527.0h.01M76.4 520.4h.01M73.6 526.4h.01M74.5 522.6h.01M87.4 506.1h.01M79.6 519.3h.01M93.7 505.5h.01M74.7 524.7h.01M77.3 523.1h.01M71.8 527.1h.01M69.9 529.8h.01M73.5 525.9h.01M88.9 515.0h.01M76.1 522.2h.01M78.6 517.5h.01M84.6 518.7h.01M73.1 526.2h.01M86.7 506.4h.01M74.8 525.7h.01M71.1 528.0h.01M82.4 515.2h.01M70.0 529.4h.01M78.7 518.1h.01M73.0 526.6h.01M75.6 521.5h.01M72.3 527.8h.01M70.4 529.4h.01M85.5 514.1h.01M77.2 520.3h.01M98.3 489.8h.01M76.4 520.4h.01M71.1 528.2h.01M108.0 478.0h.01M78.4 516.5h.01M70.4 529.7h.01M77.4 520.8h.01M90.6 498.1h.01M83.6 510.2h.01M89.0 514.0h.01M72.3 526.1h.01M76.8 522.5h.01M71.2 527.9h.01M76.9 522.5h.01M78.4 517.5h.01M76.7 523.0h.01M80.1 519.0h.01M74.2 523.0h.01M71.3 527.3h.01M74.7 525.0h.01M76.7 521.2h.01M70.4 529.4h.01M77.6 519.1h.01M79.8 515.1h.01M74.0 524.6h.01M71.8 528.0h.01M69.6 530.2h.01M82.1 516.1h.01M70.6 529.1h.01M77.7 521.3h.01M75.2 521.9h.01M80.6 514.2h.01M109.2 483.0h.01M75.8 524.7h.01" stroke="#781c6d"/>
<path d="M97.4 512.1h.01" stroke="#ed6925"/>
<path d="M79.1 525.2h.01M72.9 528.2h.01" stroke="#fcffa4"/>
<path d="M104.0 480.9h.01M75.6 521.2h.01M69.9 529.6h.01" stroke="#000004"/>
<path d="M81.9 514.8h.01M76.5 521.6h.01M73.9 524.4h.01M83.8 510.6h.01M81.8 515.1h.01M78.4 523.7h.01M72.2 525.6h.01M77.1 521.2h.01M81.7 512.1h.01M78.6 518.2h.01M72.3 527.5h.01M90.7 505.2h.01M82.5 510.0h.01M105.1 487.1h.01M77.0 519.8h.01M93.6 498.6h.01M72.0 527.3h.01M73.2 527.6h.01M80.3 517.3h.01M137.3 442.0h.01M75.1 522.0h.01M85.9 504.9h.01M81.6 516.3h.01M76.2 520.0h.01M71.4 528.0h.01M97.6 494.5h.01M93.5 501.1h.01M91.1 501.3h.01M79.2 518.6h.01M84.6 513.8h.01M76.2 522.4h.01M79.8 521.1h.01M76.9 522.7h.01M85.7 509.7h.01M71.6 526.5h.01M78.9 517.3h.01M93.2 505.7h.01M80.5 516.9h.01M91.1 514.1h.01M75.4 524.1h.01M75.2 521.7h.01M103.8 496.5h.01M75.2 524.6h.01M77.0 524.2h.01M88.5 503.8h.01M83.6 516.9h.01M71.0 528.4h.01M75.6 524.9h.01M75.0 521.7h.01M100.8 504.9h.01M71.6 528.1h.01M76.4 521.9h.01M92.4 499.5h.01M91.2 508.9h.01M78.7 515.9h.01M74.4 524.5h.01M84.5 514.4h.01M85.7 514.8h.01M74.4 524.5h.01M94.7 491.7h.01M126.0 480.2h.01M77.2 524.5h.01M79.5 515.1h.01M71.8 527.5h.01M82.3 513.4h.01M124.7 449.6h.01M93.5 501.7h.01M77.7 521.5h.01M77.1 524.7h.01M81.1 519.1h.01" stroke="#781c6d"/>
<path d="M69.8 529.6h.01" stroke="#ed6925"/>
<path d="M71.5 529.2h.01" stroke="#fcffa4"/>
<path d="M71.1 528.4h.01M78.1 519.7h.01M80.1 516.9h.01M71.0 528.4h.01M79.6 514.7h.01M86.7 503.3h.01M71.5 527.9h.01M79.8 517.7h.01M74.9 522.9h.01M74.6 523.2h.01M86.5 512.7h.01M107.5 485.2h.01M78.2 516.6h.01M79.4 517.4h.01M75.0 524.6h.01M71.5 527.5h.01M71.4 528.4h.01M87.1 506.0h.01M96.5 488.9h.01M76.4 521.8h.01M83.8 507.6h.01M89.1 509.7h.01M73.1 526.7h.01M103.2 490.3h.01M77.3 521.1h.01M82.1 515.9h.01M73.4 523.8h.01M77.3 520.7h.01M82.4 514.8h.01M84.4 518.7h.01M83.3 513.4h.01M72.0 526.3h.01M85.3 510.5h.01M79.5 519.1h.01M73.3 524.8h.01M74.5 526.2h.01M73.9 524.9h.01M99.0 493.3h.01M73.8 525.6h.01M69.9 529.6h.01M115.0 465.4h.01M78.5 520.1h.01M74.2 524.0h.01M77.5 522.5h.01M77.3 523.6h.01M73.5 524.8h.01M81.2 512.7h.01M108.1 492.5h.01M81.6 514.7h.01M107.1 494.8h.01M77.0 523.1h.01M80.4 517.1h.01M98.5 503.9h.01M89.2 511.7h.01M105.0 485.3h.01M83.8 518.0h.01M92.2 502.6h.01M126.5 481.4h.01M77.0 522.5h.01M85.7 517.6h.01M87.8 515.0h.01M71.7 527.4h.01M84.8 511.1h.01M69.8 530.0h.01M74.1 525.2h.01M95.1 498.9h.01M83.6 510.3h.01M71.8 526.4h.01M80.6 521.9h.01M74.0 525.7h.01M80.6 517.0h.01" stroke="#781c6d"/>
<path d="M74.0 527.8h.01M80.2 526.8h.01" stroke="#ed6925"/>
<path d="M79.9 522.7h.01M75.6 528.1h.01" stroke="#fcffa4"/>
<path d="M76.9 519.1h.01M84.6 506.7h.01" stroke="#000004"/>
<path d="M74.6 524.0h.01M92.7 498.0h.01M83.9 517.9h.01M71.3 528.2h.01M72.1 527.1h.01M95.6 500.7h.01M74.3 523.9h.01M89.3 504.1h.01M84.1 514.4h.01M82.7 511.2h.01M81.3 514.4h.01M89.0 499.5h.01M75.2 523.3h.01M71.8 527.1h.01M72.8 526.7h.01M74.6 522.9h.01M79.7 520.1h.01M90.4 499.6h.01M77.0 518.6h.01M88.5 516.0h.01M74.4 522.2h.01M85.9 509.4h.01M74.3 524.4h.01M75.7 521.7h.01M74.0 524.8h.01M74.6 522.2h.01M100.8 494.2h.01M83.2 514.9h.01M81.7 514.3h.01M70.4 529.0h.01M72.1 526.1h.01M79.9 517.9h.01M117.2 464.6h.01M80.1 520.7h.01M77.4 521.1h.01M79.4 517.8h.01M99.0 495.3h.01M71.6 527.4h.01M74.2 523.5h.01M71.6 527.4h.01M74.0 524.1h.01M85.1 512.4h.01M81.7 514.7h.01M87.3 507.6h.01M79.3 522.9h.01M73.9 523.3h.01M77.2 522.3h.01M91.2 501.5h.01M71.5 527.8h.01M80.8 516.5h.01M84.0 516.2h.01M91.9 507.1h.01M82.6 513.6h.01M75.4 521.4h.01M77.9 518.1h.01M91.5 499.9h.01M78.7 516.4h.01M76.6 521.0h.01M83.1 518.2h.01M76.9 522.4h.01M71.6 527.5h.01M98.5 500.2h.01M87.8 502.0h.01M71.7 527.3h.01M77.9 524.1h.01M70.0 529.5h.01" stroke="#781c6d"/>
<path d="M72.2 528.8h.01M73.7 529.0h.01" stroke="#ed6925"/>
<path d="M74.9 527.3h.01M75.8 527.6h.01M78.4 526.2h.01M77.4 525.2h.01" stroke="#fcffa4"/>
<path d="M101.5 490.7h.01M95.7 493.2h.01M85.8 509.7h.01M77.8 518.5h.01M88.2 507.6h.01M83.9 517.8h.01M72.5 526.1h.01M88.0 511.3h.01M74.0 524.1h.01M75.6 522.4h.01M71.0 528.8h.01M71.7 527.2h.01M96.0 507.2h.01M72.0 527.3h.01M71.5 528.5h.01M82.2 513.0h.01M83.6 515.6h.01M81.2 512.6h.01M80.3 521.1h.01M80.0 517.9h.01M79.4 517.5h.01M72.1 526.8h.01M82.0 515.4h.01M71.9 527.0h.01M79.6 516.6h.01M86.8 509.1h.01M72.9 526.2h.01M70.1 529.4h.01M73.4 524.5h.01M81.1 511.7h.01M74.0 523.4h.01M79.5 517.5h.01M105.0 484.8h.01M78.4 522.4h.01M76.8 521.3h.01M85.1 505.8h.01M84.3 512.0h.01M84.5 515.3h.01M76.3 521.5h.01M78.4 519.4h.01M73.9 526.8h.01M100.9 494.8h.01M71.4 527.7h.01M95.7 510.6h.01M81.7 512.3h.01M85.3 511.2h.01M82.0 514.5h.01M78.8 519.7h.01M94.8 506.7h.01M76.0 525.5h.01M79.1 522.1h.01M74.1 524.2h.01M81.4 512.0h.01M69.9 530.0h.01M87.6 503.7h.01M71.4 527.2h.01M71.1 527.4h.01M79.4 517.4h.01M90.7 508.9h.01M85.7 513.5h.01M80.8 520.9h.01M71.9 527.1h.01M106.6 493.3h.01M73.4 525.7h.01M88.2 503.9h.01M76.0 522.4h.01M78.2 517.9h.01M82.1 517.9h.01M76.8 522.4h.01M73.7 523.7h.01" stroke="#781c6d"/>
<path d="M91.0 515.3h.01" stroke="#ed6925"/>
<path d="M77.2 526.9h.01M85.0 521.2h.01M81.0 524.7h.01" stroke="#fcffa4"/>
<path d="M70.8 528.2h.01" stroke="#000004"/>
<path d="M79.7 522.0h.01M83.9 514.2h.01M73.5 526.8h.01M84.1 509.2h.01M71.6 528.7h.01M84.9 510.7h.01M88.2 504.0h.01M75.9 520.3h.01M83.2 514.9h.01M104.8 474.7h.01M79.7 517.0h.01M88.7 507.9h.01M101.3 491.7h.01M77.1 519.6h.01M72.7 525.5h.01M98.3 501.2h.01M70.5 529.1h.01M73.4 525.2h.01M80.2 517.3h.01M72.1 528.5h.01M71.7 527.7h.01M73.5 526.4h.01M83.0 517.8h.01M80.6 520.0h.01M86.3 501.6h.01M83.9 515.1h.01M72.9 527.6h.01M80.3 516.3h.01M72.2 527.6h.01M71.7 527.7h.01M79.7 522.6h.01M83.0 512.1h.01M77.5 518.9h.01M85.0 507.7h.01M77.0 521.4h.01M82.2 514.8h.01M99.3 505.1h.01M73.9 523.8h.01M74.5 524.6h.01M73.9 526.1h.01M74.6 522.1h.01M114.9 476.4h.01M76.7 521.7h.01M72.8 524.9h.01M75.8 525.7h.01M86.1 504.4h.01M83.1 510.9h.01M74.7 522.2h.01M71.6 528.3h.01M95.1 510.4h.01M72.1 528.1h.01M75.2 526.2h.01M76.5 524.7h.01M75.1 522.9h.01M125.3 451.5h.01M86.5 511.1h.01M83.0 511.8h.01M81.5 511.4h.01M74.7 524.8h.01M105.3 486.5h.01M74.9 523.1h.01M76.1 521.5h.01M71.8 527.1h.01M76.3 522.5h.01M80.7 514.7h.01M78.7 519.5h.01M79.3 518.4h.01M87.6 510.0h.01M75.9 524.9h.01M92.4 499.7h.01" stroke="#781c6d"/>
<path d="M80.2 522.7h.01M72.4 529.0h.01M71.1 529.7h.01" stroke="#fcffa4"/>
<path d="M97.6 488.5h.01M77.9 517.9h.01" stroke="#000004"/>
<path d="M81.2 521.1h.01M78.6 519.4h.01M80.0 515.6h.01M72.2 525.8h.01M73.8 526.5h.01M80.5 515.8h.01M87.5 514.8h.01M74.8 524.2h.01M74.3 524.6h.01M72.1 528.2h.01M72.1 527.5h.01M76.0 520.9h.01M80.2 513.5h.01M80.8 519.2h.01M76.8 524.4h.01M81.1 514.0h.01M89.6 509.8h.01M78.8 520.9h.01M78.9 518.3h.01M76.4 521.5h.01M76.9 520.9h.01M98.5 501.9h.01M73.8 523.4h.01M87.2 506.2h.01M80.4 512.9h.01M98.7 492.4h.01M79.7 519.0h.01M82.5 509.6h.01M74.1 524.8h.01M86.1 514.0h.01M78.0 516.5h.01M94.1 497.8h.01M77.3 521.3h.01M76.8 524.4h.01M75.6 522.4h.01M72.0 526.8h.01M98.4 493.1h.01M83.2 516.9h.01M81.4 513.5h.01M91.3 510.4h.01M80.5 516.7h.01M73.7 524.6h.01M79.9 514.5h.01M102.3 484.8h.01M89.7 502.1h.01M79.7 515.2h.01M70.7 528.8h.01M71.6 526.7h.01M122.6 477.8h.01M75.8 523.2h.01M75.4 522.4h.01M80.3 515.6h.01M88.7 508.9h.01M75.0 521.4h.01M85.1 516.8h.01M73.6 524.1h.01M76.6 520.1h.01M72.6 527.4h.01M73.9 525.2h.01M89.9 513.2h.01M78.7 517.1h.01M78.5 516.6h.01M81.2 513.2h.01M79.1 519.1h.01M73.1 525.1h.01M78.2 516.6h.01M73.7 526.3h.01" stroke="#781c6d"/>
<path d="M75.5 526.5h.01M75.5 527.5h.01M81.6 526.6h.01M90.4 498.2h.01M77.5 524.8h.01" stroke="#fcffa4"/>
<path d="M97.0 490.7h.01" stroke="#000004"/>
<path d="M73.2 526.6h.01M88.2 509.4h.01M87.9 504.8h.01M74.9 524.8h.01M71.7 527.3h.01M79.0 520.9h.01M74.1 525.1h.01M88.8 506.0h.01M82.3 514.2h.01M75.5 521.8h.01M72.6 526.7h.01M75.0 524.3h.01M72.9 527.5h.01M71.1 529.2h.01M71.7 527.2h.01M79.1 518.7h.01M82.9 512.0h.01M80.2 520.0h.01M77.8 519.6h.01M79.7 519.7h.01M70.8 528.1h.01M86.0 509.6h.01M91.3 503.4h.01M93.7 505.7h.01M82.8 519.6h.01M73.1 526.6h.01M74.8 525.0h.01M73.4 524.2h.01M75.1 522.4h.01M80.0 519.0h.01M79.6 517.7h.01M78.9 520.1h.01M79.8 520.9h.01M89.9 514.8h.01M73.2 525.2h.01M79.5 520.1h.01M72.6 526.0h.01M81.3 516.4h.01M80.7 518.2h.01M94.2 511.4h.01M92.2 513.1h.01M82.8 512.7h.01M73.0 527.5h.01M75.0 522.6h.01M70.8 528.2h.01M106.1 495.2h.01M88.3 503.1h.01M87.1 507.7h.01M80.9 521.8h.01M81.2 514.4h.01M73.5 525.4h.01M74.2 525.7h.01M74.2 525.7h.01M75.0 522.1h.01M79.1 521.6h.01M75.7 520.7h.01M90.3 502.4h.01M75.4 521.4h.01M72.2 528.2h.01M69.2 530.5h.01M88.0 510.3h.01M82.0 519.3h.01M73.9 524.2h.01M96.8 487.8h.01M89.7 505.4h.01M77.3 519.8h.01M70.1 529.8h.01" stroke="#781c6d"/>
<path d="M73.1 528.7h.01" stroke="#ed6925"/>
<path d="M76.5 521.6h.01M90.6 522.1h.01M71.8 529.4h.01M114.1 503.2h.01M79.2 526.8h.01" stroke="#fcffa4"/>
<path d="M75.1 521.9h.01" stroke="#000004"/>
<path d="M80.4 517.3h.01M76.7 524.3h.01M73.3 526.2h.01M73.2 526.8h.01M75.2 524.6h.01M72.9 524.8h.01M83.3 509.8h.01M104.9 490.2h.01M86.9 507.4h.01M73.2 525.9h.01M103.2 502.6h.01M72.9 525.4h.01M81.6 521.2h.01M75.8 523.2h.01M72.5 526.6h.01M82.1 509.8h.01M73.5 525.8h.01M79.1 518.0h.01M96.2 495.8h.01M83.8 518.6h.01M86.2 509.3h.01M70.1 529.5h.01M121.0 479.3h.01M76.6 521.6h.01M75.6 521.5h.01M75.6 521.5h.01M90.2 499.8h.01M105.7 479.6h.01M87.1 511.2h.01M87.9 503.1h.01M73.7 523.8h.01M77.2 518.8h.01M87.3 505.7h.01M70.6 529.1h.01M78.3 520.3h.01M91.7 507.7h.01M88.0 507.8h.01M73.9 525.4h.01M76.6 522.7h.01M75.4 522.0h.01M94.5 498.7h.01M82.1 515.2h.01M74.9 522.7h.01M69.4 530.3h.01M79.1 517.1h.01M71.6 527.2h.01M77.5 523.2h.01M82.5 513.3h.01M116.8 476.1h.01M70.2 528.9h.01M87.0 514.8h.01M82.2 512.6h.01M76.8 517.5h.01M78.4 517.2h.01M73.9 524.1h.01M82.2 517.8h.01M77.9 521.6h.01M131.6 457.9h.01M98.5 492.0h.01M85.1 513.4h.01M86.0 509.8h.01M86.8 509.1h.01M75.8 522.2h.01M91.0 512.0h.01M85.3 514.1h.01M74.6 522.8h.01M71.1 528.2h.01M87.4 510.6h.01" stroke="#781c6d"/>
<path d="M78.6 524.2h.01" stroke="#ed6925"/>
<path d="M86.5 518.7h.01M74.5 528.5h.01M76.1 526.4h.01M74.5 527.7h.01" stroke="#fcffa4"/>
<path d="M78.9 517.3h.01M86.3 504.9h.01M77.9 520.4h.01M78.9 517.1h.01M71.6 528.7h.01M85.8 510.2h.01M80.3 514.2h.01M73.2 525.3h.01M77.6 520.3h.01M79.4 517.4h.01M103.4 501.0h.01M72.6 527.0h.01M120.5 461.0h.01M81.7 517.2h.01M77.8 518.4h.01M74.9 524.0h.01M73.2 524.3h.01M80.8 516.6h.01M76.3 523.5h.01M75.2 522.2h.01M77.5 521.3h.01M97.0 489.6h.01M91.1 497.6h.01M90.7 501.2h.01M70.3 529.2h.01M78.5 521.5h.01M72.3 526.3h.01M99.6 503.3h.01M77.5 520.7h.01M71.7 528.3h.01M71.4 529.0h.01M71.4 527.9h.01M71.6 527.0h.01M73.8 525.0h.01M84.4 513.4h.01M77.7 521.6h.01M101.3 484.7h.01M130.6 458.3h.01M74.6 524.2h.01M84.5 509.3h.01M88.9 511.9h.01M72.2 526.4h.01M76.8 522.1h.01M72.7 526.6h.01M77.4 521.0h.01M77.3 519.3h.01M81.2 515.5h.01M72.8 525.1h.01M76.6 521.3h.01M75.3 522.0h.01M74.0 525.8h.01M116.4 468.9h.01M75.0 525.4h.01M100.6 498.0h.01M73.9 523.9h.01M102.4 500.9h.01M89.4 503.5h.01M75.0 525.3h.01M75.5 522.8h.01M89.1 509.7h.01M95.6 496.5h.01M88.6 505.1h.01M81.8 514.8h.01M87.5 505.2h.01M71.2 528.0h.01M79.1 515.4h.01M81.3 517.9h.01M81.0 513.7h.01M81.4 518.9h.01M80.1 517.4h.01" stroke="#781c6d"/>
<path d="M80.2 525.5h.01" stroke="#ed6925"/>
<path d="M81.5 523.3h.01M86.4 524.0h.01M95.2 513.4h.01" stroke="#fcffa4"/>
<path d="M94.1 494.8h.01M82.0 511.6h.01M88.3 501.6h.01" stroke="#000004"/>
<path d="M91.1 504.6h.01M70.9 528.5h.01M74.1 523.8h.01M76.1 523.4h.01M70.2 529.4h.01M84.1 512.1h.01M79.9 516.1h.01M80.7 520.4h.01M76.6 519.4h.01M126.1 457.0h.01M91.1 508.2h.01M73.1 525.2h.01M77.4 520.6h.01M79.2 519.4h.01M111.9 476.4h.01M75.2 525.3h.01M76.4 521.0h.01M74.4 523.8h.01M79.9 515.8h.01M82.7 517.0h.01M71.2 528.1h.01M71.8 527.1h.01M78.3 519.3h.01M72.5 527.0h.01M96.8 491.3h.01M79.8 519.5h.01M73.4 525.6h.01M89.5 506.6h.01M92.2 497.9h.01M80.2 516.5h.01M127.9 464.5h.01M70.2 529.2h.01M72.3 527.3h.01M72.1 527.2h.01M77.0 524.8h.01M78.3 515.2h.01M77.3 519.8h.01M72.9 527.4h.01M90.1 504.5h.01M74.0 524.0h.01M79.1 521.0h.01M78.9 522.1h.01M72.4 527.7h.01M78.7 520.0h.01M76.8 518.7h.01M75.4 522.2h.01M87.6 511.5h.01M87.7 503.3h.01M86.9 506.1h.01M95.1 501.6h.01M83.2 513.1h.01M78.4 519.4h.01M76.2 522.8h.01M74.9 524.4h.01M71.6 528.4h.01M71.5 528.5h.01M87.9 512.6h.01M84.5 518.2h.01M70.4 528.7h.01M87.0 504.0h.01M73.6 527.0h.01M82.5 512.0h.01M75.3 520.5h.01M71.4 527.8h.01M72.5 527.2h.01M83.5 512.2h.01M75.7 523.4h.01" stroke="#781c6d"/>
<path d="M75.5 528.6h.01M84.5 519.4h.01" stroke="#ed6925"/>
<path d="M75.4 526.2h.01M77.9 524.4h.01" stroke="#fcffa4"/>
<path d="M80.6 514.5h.01M90.5 498.8h.01" stroke="#000004"/>
<path d="M85.2 512.6h.01M89.3 505.4h.01M86.7 504.6h.01M70.7 528.3h.01M93.0 499.9h.01M91.9 504.3h.01M70.4 529.5h.01M78.8 516.6h.01M81.6 515.7h.01M73.9 526.1h.01M82.7 516.5h.01M80.6 517.0h.01M73.1 526.3h.01M77.0 520.7h.01M92.9 507.8h.01M76.1 521.0h.01M90.0 501.9h.01M73.5 524.0h.01M108.0 488.9h.01M70.0 529.7h.01M70.9 528.6h.01M80.4 521.5h.01M79.8 518.7h.01M74.1 524.6h.01M80.1 519.1h.01M76.9 518.7h.01M97.7 491.2h.01M79.0 521.7h.01M89.5 500.4h.01M75.4 520.8h.01M69.5 530.4h.01M76.3 519.6h.01M114.5 464.7h.01M72.5 526.6h.01M81.6 516.0h.01M112.5 468.0h.01M81.7 517.9h.01M76.6 520.5h.01M71.3 527.7h.01M72.7 527.9h.01M71.7 527.8h.01M78.1 520.3h.01M87.0 502.9h.01M77.0 523.2h.01M72.8 527.4h.01M73.1 526.1h.01M77.9 523.3h.01M72.4 525.9h.01M71.4 527.4h.01M76.1 520.1h.01M102.7 499.5h.01M83.1 514.9h.01M80.9 517.2h.01M90.2 506.5h.01M77.9 520.8h.01M80.8 519.2h.01M78.8 518.2h.01M74.2 524.8h.01M83.2 514.6h.01M83.6 514.9h.01M83.7 507.8h.01M94.6 506.6h.01M78.0 520.9h.01M79.9 516.9h.01M79.5 515.3h.01M81.1 515.4h.01M77.6 522.6h.01M76.2 521.6h.01M72.0 527.4h.01" stroke="#781c6d"/>
<path d="M89.8 516.3h.01M74.4 527.9h.01M73.3 528.2h.01" stroke="#fcffa4"/>
<path d="M71.4 528.8h.01M72.4 525.6h.01M71.2 527.6h.01M76.9 520.3h.01M99.2 487.5h.01M77.4 521.6h.01M88.6 509.9h.01M78.5 521.4h.01M77.6 523.4h.01M70.7 528.8h.01M85.7 505.2h.01M77.3 520.0h.01M83.6 515.5h.01M70.6 528.8h.01M74.5 524.1h.01M74.9 522.0h.01M88.0 506.1h.01M119.7 490.5h.01M91.9 513.0h.01M76.4 519.7h.01M78.1 520.8h.01M73.3 526.9h.01M74.3 524.8h.01M72.5 527.5h.01M75.0 522.6h.01M85.7 516.8h.01M87.2 508.5h.01M99.5 496.2h.01M70.3 529.4h.01M76.1 521.2h.01M104.7 490.8h.01M71.5 527.5h.01M97.0 508.5h.01M72.1 525.9h.01M76.3 521.4h.01M76.6 524.8h.01M73.5 524.8h.01M111.7 482.0h.01M75.9 520.6h.01M75.0 523.4h.01M75.5 520.6h.01M70.0 530.0h.01M73.1 525.0h.01M76.1 523.1h.01M76.0 522.3h.01M86.2 512.6h.01M84.2 511.2h.01M75.9 524.6h.01M95.5 497.9h.01M77.4 523.7h.01M71.2 528.8h.01M93.6 491.2h.01M84.5 513.0h.01M76.5 520.9h.01M72.6 525.8h.01M77.3 518.8h.01M83.4 519.0h.01M72.5 527.0h.01M72.2 526.3h.01M79.2 516.0h.01M71.8 528.1h.01M71.4 528.8h.01M83.9 515.9h.01M76.1 520.4h.01M75.7 523.3h.01M77.2 520.5h.01M81.8 510.7h.01" stroke="#781c6d"/>
<path d="M72.9 529.1h.01M76.4 527.2h.01" stroke="#ed6925"/>
<path d="M81.9 522.7h.01M69.9 530.5h.01M73.0 528.2h.01M79.1 516.9h.01M72.2 529.4h.01" stroke="#fcffa4"/>
<path d="M74.7 522.4h.01" stroke="#000004"/>
<path d="M91.1 502.8h.01M77.9 518.5h.01M80.1 520.4h.01M73.8 526.1h.01M76.8 519.5h.01M93.0 510.2h.01M74.8 523.6h.01M80.3 515.6h.01M76.5 522.1h.01M78.7 517.9h.01M77.4 518.0h.01M74.4 523.8h.01M88.2 507.4h.01M115.8 474.9h.01M125.1 456.5h.01M70.8 528.7h.01M72.6 526.5h.01M73.4 526.6h.01M75.4 524.4h.01M82.4 513.4h.01M94.7 509.6h.01M78.1 520.7h.01M114.0 496.4h.01M84.2 519.2h.01M76.8 518.9h.01M72.3 527.3h.01M81.2 516.8h.01M78.1 519.3h.01M108.7 475.0h.01M84.5 514.1h.01M75.4 520.8h.01M73.6 525.4h.01M78.7 518.1h.01M76.1 523.7h.01M79.3 521.8h.01M73.9 525.3h.01M75.8 525.3h.01M74.5 524.7h.01M73.7 524.8h.01M75.0 523.4h.01M79.8 516.9h.01M96.7 495.6h.01M107.7 482.7h.01M89.7 510.1h.01M69.1 530.6h.01M80.4 515.1h.01M76.3 522.9h.01M118.6 473.8h.01M79.4 515.0h.01M77.0 522.9h.01M69.6 529.8h.01M70.3 529.1h.01M74.6 524.6h.01M92.4 500.6h.01M79.2 522.1h.01M82.5 510.0h.01M79.1 515.9h.01M82.1 518.6h.01M84.1 509.2h.01M79.4 518.4h.01M83.5 510.3h.01M71.2 528.7h.01M70.8 528.3h.01M71.3 527.6h.01M74.3 525.0h.01M85.7 506.6h.01M72.4 526.5h.01M84.1 508.0h.01M72.5 527.7h.01M82.6 514.6h.01M100.8 490.2h.01M74.0 524.5h.01" stroke="#781c6d"/>
<path d="M82.3 523.0h.01" stroke="#ed6925"/>
<path d="M75.8 520.7h.01" stroke="#000004"/>
<path d="M73.7 524.7h.01M90.3 505.2h.01M74.2 523.3h.01M72.2 527.0h.01M77.3 520.1h.01M72.8 525.6h.01M80.9 520.2h.01M77.5 520.4h.01M91.9 498.3h.01M80.4 519.5h.01M90.5 501.8h.01M74.1 525.6h.01M77.5 520.8h.01M74.2 524.8h.01M93.7 510.9h.01M72.2 526.6h.01M76.0 520.5h.01M78.3 516.5h.01M85.3 508.2h.01M103.7 477.5h.01M96.3 494.0h.01M73.4 526.2h.01M81.0 516.3h.01M77.7 518.7h.01M77.8 522.3h.01M77.8 520.7h.01M128.7 462.1h.01M97.6 499.3h.01M82.4 514.5h.01M84.8 512.8h.01M72.2 526.4h.01M73.2 526.4h.01M97.7 487.8h.01M71.5 527.0h.01M72.5 527.1h.01M71.0 528.0h.01M97.5 495.6h.01M77.9 517.2h.01M76.6 520.9h.01M96.0 507.0h.01M82.8 514.3h.01M70.1 529.5h.01M86.9 507.3h.01M74.8 524.7h.01M78.2 518.6h.01M76.2 523.3h.01M82.4 511.0h.01M73.5 524.9h.01M71.7 526.8h.01M92.2 500.8h.01M80.3 518.4h.01M69.6 530.0h.01M71.8 526.8h.01M73.9 524.5h.01M106.8 496.3h.01M103.3 499.2h.01M84.0 511.9h.01M73.7 525.8h.01M79.0 515.5h.01M76.7 522.4h.01M69.9 529.6h.01M93.1 499.1h.01M73.3 526.7h.01M75.3 524.7h.01M70.2 529.1h.01M71.4 528.2h.01M71.3 528.0h.01M79.5 517.3h.01M71.7 528.0h.01M74.1 525.7h.01" stroke="#781c6d"/>
<path d="M72.4 528.5h.01" stroke="#ed6925"/>
<path d="M71.7 529.7h.01M84.2 522.4h.01" stroke="#fcffa4"/>
<path d="M81.9 520.4h.01M80.5 517.8h.01M72.7 525.6h.01M81.7 514.6h.01M94.9 495.7h.01M106.2 489.8h.01M106.2 498.4h.01M79.8 521.6h.01M76.0 522.9h.01M74.4 523.4h.01M77.4 520.0h.01M79.0 516.5h.01M104.4 495.1h.01M79.2 517.0h.01M75.4 524.3h.01M71.4 527.8h.01M73.3 524.0h.01M75.0 525.6h.01M71.7 527.7h.01M74.4 524.0h.01M71.9 526.9h.01M80.2 513.6h.01M74.6 524.1h.01M89.8 507.6h.01M90.9 509.6h.01M117.0 473.9h.01M74.1 523.8h.01M73.9 524.3h.01M84.0 511.4h.01M71.9 528.2h.01M85.1 505.9h.01M76.6 519.9h.01M80.6 520.7h.01M75.8 520.8h.01M77.7 518.1h.01M88.1 503.7h.01M79.3 519.9h.01M72.1 527.5h.01M79.3 518.1h.01M73.6 526.8h.01M77.1 523.9h.01M79.3 517.5h.01M77.7 521.2h.01M76.7 522.0h.01M75.9 521.5h.01M82.1 520.7h.01M82.3 516.7h.01M93.2 499.3h.01M76.3 523.8h.01M78.4 519.5h.01M73.1 525.0h.01M86.9 506.5h.01M73.8 523.8h.01M71.5 528.7h.01M78.3 517.9h.01M77.3 524.2h.01M74.4 524.6h.01M92.6 510.3h.01M76.7 519.4h.01M84.1 512.5h.01M82.4 515.9h.01M95.9 495.8h.01M75.4 520.6h.01M76.6 521.8h.01M97.3 504.4h.01M72.5 526.2h.01M103.4 503.9h.01M77.0 519.8h.01M73.9 524.8h.01M79.0 518.2h.01M80.6 516.2h.01M77.4 524.3h.01" stroke="#781c6d"/>
<path d="M73.1 529.3h.01" stroke="#ed6925"/>
<path d="M77.4 526.3h.01" stroke="#fcffa4"/>
<path d="M115.4 461.4h.01M73.3 527.2h.01M70.9 528.5h.01M75.9 521.0h.01M70.7 529.5h.01M87.2 515.0h.01M72.0 526.9h.01M72.5 525.9h.01M81.4 518.7h.01M86.0 511.6h.01M78.1 520.6h.01M85.1 515.9h.01M75.6 524.6h.01M70.8 529.0h.01M86.0 509.1h.01M70.9 529.5h.01M82.2 520.3h.01M71.6 527.6h.01M71.6 527.4h.01M70.4 529.2h.01M70.0 530.2h.01M87.1 510.4h.01M88.9 501.8h.01M76.9 521.6h.01M75.3 521.4h.01M77.1 519.8h.01M91.6 498.4h.01M82.2 512.8h.01M84.7 506.8h.01M75.8 524.8h.01M73.2 525.6h.01M85.1 517.5h.01M88.5 506.5h.01M76.9 519.8h.01M72.1 526.7h.01M73.4 527.5h.01M79.1 519.9h.01M78.4 518.4h.01M73.7 525.6h.01M71.3 528.3h.01M82.6 511.4h.01M76.5 524.3h.01M76.1 523.9h.01M71.2 528.1h.01M75.7 521.0h.01M91.0 513.9h.01M104.1 496.2h.01M72.2 526.7h.01M73.4 524.8h.01M74.5 523.5h.01M73.3 525.2h.01M85.5 510.4h.01M73.5 524.7h.01M86.3 512.9h.01M74.0 525.8h.01M83.5 512.7h.01M83.7 516.9h.01M94.7 509.6h.01M73.5 527.3h.01M71.9 527.1h.01M89.5 509.4h.01M70.4 529.4h.01M85.4 508.1h.01M70.8 527.9h.01M70.9 529.0h.01M82.5 513.9h.01M111.4 482.8h.01M102.5 498.0h.01M96.6 493.2h.01" stroke="#781c6d"/>
<path d="M76.8 526.7h.01" stroke="#ed6925"/>
<path d="M73.3 528.6h.01M73.4 528.3h.01M72.2 528.9h.01M89.7 519.9h.01" stroke="#fcffa4"/>
<path d="M100.5 484.6h.01" stroke="#000004"/>
<path d="M77.7 517.3h.01M74.3 526.2h.01M99.5 504.8h.01M80.5 517.9h.01M83.2 513.5h.01M78.5 519.7h.01M85.2 510.7h.01M79.6 516.1h.01M88.8 500.2h.01M81.8 516.8h.01M82.2 513.6h.01M72.6 525.7h.01M70.0 529.9h.01M82.5 511.0h.01M74.5 526.1h.01M82.5 516.5h.01M82.9 515.3h.01M83.3 508.5h.01M71.1 529.0h.01M95.1 489.5h.01M71.1 527.9h.01M103.7 487.6h.01M71.5 528.3h.01M71.9 528.1h.01M80.6 518.1h.01M76.9 519.6h.01M86.2 505.0h.01M78.2 523.2h.01M83.1 514.2h.01M84.2 512.1h.01M82.6 519.7h.01M74.6 522.8h.01M76.2 522.0h.01M71.3 528.0h.01M96.4 504.1h.01M74.2 526.8h.01M70.2 529.9h.01M71.6 527.6h.01M76.7 521.7h.01M75.7 520.9h.01M75.1 524.4h.01M82.0 514.5h.01M76.9 521.2h.01M76.5 520.6h.01M73.3 525.7h.01M94.1 502.9h.01M74.8 522.4h.01M76.5 521.7h.01M75.2 522.6h.01M79.9 513.9h.01M73.8 525.6h.01M84.3 513.0h.01M97.9 497.3h.01M75.4 523.2h.01M72.7 525.1h.01M71.4 527.9h.01M72.8 527.9h.01M80.4 514.9h.01M73.5 525.9h.01M74.0 524.7h.01M72.4 527.5h.01M99.3 484.4h.01M72.0 526.4h.01M76.9 521.6h.01M82.1 516.8h.01M78.6 519.2h.01M74.1 522.8h.01M79.0 516.9h.01M91.4 507.8h.01M72.2 527.2h.01M70.4 528.7h.01" stroke="#781c6d"/>
<path d="M71.1 529.2h.01" stroke="#ed6925"/>
<path d="M72.0 526.0h.01" stroke="#fcffa4"/>
<path d="M85.9 505.6h.01M95.0 491.2h.01M84.9 507.1h.01" stroke="#000004"/>
<path d="M75.5 523.4h.01M86.5 510.5h.01M72.9 525.8h.01M78.1 518.3h.01M79.2 521.7h.01M70.4 528.9h.01M73.5 524.3h.01M73.9 525.7h.01M94.1 497.5h.01M76.2 521.3h.01M79.9 516.3h.01M77.9 524.1h.01M82.4 512.3h.01M85.0 514.5h.01M76.7 521.7h.01M84.9 513.3h.01M72.6 526.4h.01M74.5 524.9h.01M84.3 518.9h.01M73.7 525.9h.01M80.6 511.7h.01M76.6 519.5h.01M89.9 500.9h.01M87.2 512.8h.01M75.9 521.6h.01M101.1 489.0h.01M70.3 529.4h.01M72.7 526.0h.01M89.6 500.2h.01M78.6 517.9h.01M71.0 528.3h.01M83.2 518.3h.01M91.0 506.3h.01M87.0 506.0h.01M72.7 525.4h.01M90.8 501.2h.01M78.4 518.4h.01M91.7 506.5h.01M72.2 526.7h.01M73.5 525.7h.01M73.4 526.3h.01M76.9 521.2h.01M75.7 521.8h.01M73.6 524.5h.01M81.2 515.6h.01M78.8 517.3h.01M90.0 499.0h.01M77.2 522.6h.01M80.9 513.2h.01M72.0 526.3h.01M79.7 518.1h.01M75.2 523.8h.01M94.9 489.2h.01M89.7 509.5h.01M70.9 528.2h.01M87.3 505.3h.01M73.3 524.7h.01M77.2 520.9h.01M72.3 525.6h.01M90.1 501.5h.01M82.8 511.9h.01M78.1 523.7h.01M81.2 514.3h.01M77.6 517.8h.01M80.9 510.6h.01M76.0 521.6h.01M93.7 507.0h.01M113.3 475.1h.01" stroke="#781c6d"/>
<path d="M76.8 526.6h.01M80.1 516.7h.01M76.6 520.7h.01" stroke="#fcffa4"/>
<path d="M82.7 510.1h.01" stroke="#000004"/>
<path d="M72.4 525.5h.01M83.2 516.4h.01M79.1 520.6h.01M82.1 513.1h.01M69.9 529.9h.01M71.5 526.9h.01M73.9 523.8h.01M70.7 528.5h.01M74.5 525.1h.01M81.1 511.9h.01M71.6 526.5h.01M87.9 502.5h.01M73.7 523.7h.01M82.9 509.7h.01M79.6 517.9h.01M79.0 519.9h.01M81.1 513.1h.01M76.5 521.5h.01M74.6 524.5h.01M76.4 523.7h.01M75.1 524.5h.01M90.4 497.5h.01M69.3 530.3h.01M76.6 521.8h.01M73.1 525.9h.01M96.8 501.2h.01M79.4 518.7h.01M82.5 511.4h.01M100.1 490.1h.01M73.4 526.7h.01M80.0 518.2h.01M73.0 527.4h.01M75.2 522.8h.01M75.8 521.6h.01M77.3 519.9h.01M72.1 528.3h.01M86.9 511.8h.01M92.2 506.0h.01M74.1 523.5h.01M79.7 516.8h.01M86.6 504.6h.01M76.1 523.6h.01M78.0 516.9h.01M92.9 502.6h.01M74.3 524.1h.01M113.6 483.6h.01M71.2 528.4h.01M74.8 523.7h.01M74.8 525.8h.01M85.5 508.0h.01M113.9 489.2h.01M76.7 520.0h.01M86.3 515.0h.01M117.5 470.0h.01M79.2 522.3h.01M87.4 507.0h.01M88.6 507.9h.01M72.2 527.3h.01M91.4 507.5h.01M73.4 526.0h.01M78.5 522.9h.01M92.7 500.9h.01M74.3 522.7h.01M83.5 510.3h.01M76.0 520.3h.01M71.5 527.4h.01M90.9 502.5h.01M85.3 514.4h.01M74.8 522.6h.01" stroke="#781c6d"/>
<path d="M78.6 524.2h.01M74.5 528.7h.01" stroke="#ed6925"/>
<path d="M82.8 520.5h.01M75.3 527.9h.01" stroke="#fcffa4"/>
<path d="M79.4 515.5h.01M70.1 529.1h.01" stroke="#000004"/>
<path d="M76.8 524.9h.01M69.5 530.3h.01M71.6 528.9h.01M71.3 527.7h.01M72.0 527.7h.01M73.8 525.0h.01M82.8 515.6h.01M95.9 500.8h.01M93.5 501.6h.01M82.9 518.0h.01M140.5 425.2h.01M71.6 527.2h.01M84.2 512.2h.01M92.4 497.0h.01M76.5 519.6h.01M79.6 519.8h.01M74.8 524.0h.01M75.6 521.6h.01M78.3 518.5h.01M75.2 523.6h.01M81.2 515.3h.01M73.4 525.0h.01M78.8 522.0h.01M74.7 522.2h.01M77.3 520.1h.01M74.9 523.9h.01M86.3 511.4h.01M85.1 515.7h.01M75.8 520.2h.01M90.5 511.7h.01M82.7 515.5h.01M82.6 514.6h.01M76.6 524.8h.01M70.4 529.4h.01M81.4 511.8h.01M77.5 522.6h.01M74.8 524.0h.01M102.5 490.7h.01M73.2 525.2h.01M84.0 512.4h.01M78.7 522.9h.01M87.3 508.3h.01M81.4 516.0h.01M82.9 515.7h.01M74.2 523.0h.01M79.5 522.7h.01M88.3 505.2h.01M78.9 521.2h.01M73.5 527.2h.01M69.6 529.8h.01M77.3 519.5h.01M84.1 511.4h.01M75.1 524.2h.01M71.0 528.4h.01M88.8 511.2h.01M70.7 529.0h.01M83.3 517.4h.01M77.5 517.8h.01M76.8 519.4h.01M85.9 514.5h.01M99.5 501.2h.01M78.7 517.4h.01M80.2 516.6h.01M78.1 522.6h.01M72.6 525.6h.01M112.6 490.5h.01M72.8 526.2h.01M82.3 516.4h.01M104.3 483.9h.01M72.2 526.3h.01M100.5 484.8h.01" stroke="#781c6d"/>
<path d="M85.2 504.8h.01" stroke="#ed6925"/>
<path d="M72.6 526.7h.01M83.7 516.4h.01M83.6 513.5h.01M74.5 522.3h.01M95.1 502.6h.01M82.7 517.1h.01M95.7 494.9h.01M96.3 501.1h.01M70.8 528.9h.01M81.4 514.6h.01M74.0 523.6h.01M84.2 508.2h.01M74.3 525.5h.01M73.6 524.9h.01M71.2 527.8h.01M76.0 522.6h.01M75.2 523.1h.01M87.3 514.1h.01M70.5 529.4h.01M79.0 523.1h.01M76.0 521.6h.01M71.8 528.1h.01M79.0 518.6h.01M79.3 516.4h.01M73.8 527.0h.01M99.9 503.6h.01M88.1 501.6h.01M75.5 520.6h.01M100.5 492.9h.01M83.6 514.5h.01M95.3 494.6h.01M81.6 519.2h.01M125.3 486.4h.01M116.0 472.8h.01M88.4 511.4h.01M95.7 495.4h.01M92.4 502.4h.01M82.1 516.4h.01M81.0 513.5h.01M73.8 523.7h.01M72.4 525.6h.01M82.1 513.5h.01M81.5 520.4h.01M79.7 514.6h.01M76.1 522.6h.01M78.0 520.5h.01M93.5 497.5h.01M74.7 524.2h.01M79.7 514.6h.01M72.3 525.7h.01M86.4 508.5h.01M93.6 495.8h.01M76.6 521.8h.01M72.1 526.9h.01M73.4 526.1h.01M84.1 507.5h.01M71.0 528.1h.01M80.0 520.7h.01M72.8 527.2h.01M85.8 510.1h.01M99.3 503.9h.01M75.2 522.0h.01M103.5 495.2h.01M76.7 523.8h.01M86.7 507.6h.01M69.6 530.2h.01M74.5 523.2h.01M80.5 517.8h.01M91.3 511.8h.01M69.5 530.2h.01M74.5 526.1h.01" stroke="#781c6d"/>
<path d="M77.8 525.0h.01M82.8 520.6h.01M69.9 530.4h.01" stroke="#fcffa4"/>
<path d="M79.1 516.6h.01M73.7 526.5h.01M81.9 516.2h.01M71.5 527.0h.01M77.3 519.6h.01M80.7 515.5h.01M71.2 528.7h.01M81.6 515.9h.01M70.6 528.6h.01M71.2 528.5h.01M73.4 527.3h.01M74.9 524.4h.01M74.1 525.1h.01M88.9 512.1h.01M74.3 526.7h.01M78.5 521.1h.01M71.8 527.7h.01M72.2 528.1h.01M74.8 521.4h.01M106.1 489.4h.01M70.8 528.8h.01M91.6 502.1h.01M74.0 524.6h.01M72.6 526.6h.01M72.2 526.0h.01M73.0 525.5h.01M89.3 512.4h.01M82.5 518.2h.01M89.0 513.0h.01M85.5 507.2h.01M89.7 505.4h.01M88.3 509.0h.01M74.1 522.6h.01M80.5 517.2h.01M77.0 519.7h.01M79.3 522.1h.01M72.7 525.1h.01M79.2 516.9h.01M71.6 526.6h.01M73.3 525.0h.01M77.7 517.7h.01M73.7 525.3h.01M75.3 525.3h.01M79.2 517.3h.01M86.6 505.6h.01M75.0 525.3h.01M92.5 492.3h.01M72.6 528.0h.01M75.1 523.3h.01M93.0 497.1h.01M86.5 511.8h.01M76.7 518.7h.01M80.9 513.1h.01M71.8 527.0h.01M69.9 529.8h.01M72.5 528.2h.01M75.9 522.1h.01M83.6 511.9h.01M84.7 515.6h.01M74.8 526.2h.01M119.3 462.3h.01M70.8 527.6h.01M98.1 490.4h.01M80.9 513.4h.01M75.4 520.9h.01M71.3 528.4h.01M84.2 513.4h.01M74.2 526.7h.01M90.9 511.2h.01M85.2 512.7h.01" stroke="#781c6d"/>
<path d="M77.0 526.9h.01M77.2 525.8h.01" stroke="#ed6925"/>
<path d="M72.1 526.0h.01M91.5 518.2h.01" stroke="#fcffa4"/>
<path d="M73.1 524.9h.01" stroke="#000004"/>
<path d="M82.6 509.7h.01M70.8 528.2h.01M113.9 468.9h.01M82.8 516.6h.01M75.7 523.0h.01M78.6 519.9h.01M75.3 522.2h.01M73.1 526.3h.01M70.6 528.5h.01M81.7 516.6h.01M78.0 520.6h.01M72.8 525.6h.01M85.6 510.9h.01M69.4 530.5h.01M86.0 505.0h.01M79.8 519.4h.01M77.9 519.3h.01M77.3 524.4h.01M72.1 528.4h.01M75.8 520.5h.01M75.9 523.6h.01M81.6 517.1h.01M85.9 506.4h.01M72.5 527.9h.01M79.2 522.3h.01M79.0 517.0h.01M73.7 525.0h.01M81.4 511.4h.01M73.8 524.4h.01M79.5 519.2h.01M77.7 520.0h.01M97.3 505.2h.01M74.2 525.9h.01M71.5 527.2h.01M86.0 504.4h.01M81.1 513.2h.01M80.8 516.0h.01M71.0 529.3h.01M70.7 528.8h.01M72.5 525.6h.01M72.4 527.4h.01M70.5 529.6h.01M75.7 522.2h.01M81.4 515.2h.01M82.1 515.9h.01M83.3 512.5h.01M72.7 527.4h.01M95.8 506.1h.01M72.3 526.4h.01M77.3 521.5h.01M72.8 525.2h.01M84.2 515.4h.01M89.1 505.3h.01M76.9 518.6h.01M94.7 504.9h.01M74.7 525.8h.01M71.5 527.2h.01M71.1 527.8h.01M76.7 520.4h.01M101.7 487.0h.01M81.3 511.2h.01M110.7 474.1h.01M83.4 510.0h.01M74.1 523.8h.01M94.9 511.1h.01M93.6 503.7h.01M80.0 521.1h.01M74.6 524.5h.01M75.6 524.1h.01" stroke="#781c6d"/>
<path d="M76.7 524.2h.01" stroke="#ed6925"/>
<path d="M73.9 528.0h.01M76.1 526.1h.01M76.5 525.7h.01" stroke="#fcffa4"/>
<path d="M72.6 526.1h.01M77.8 520.9h.01M71.9 527.4h.01M85.2 506.0h.01M102.2 495.6h.01M74.6 524.9h.01M82.2 513.9h.01M84.9 514.5h.01M96.1 502.5h.01M79.8 517.5h.01M79.2 519.5h.01M75.9 521.1h.01M77.0 523.8h.01M87.7 510.6h.01M76.5 522.6h.01M80.6 517.9h.01M89.7 511.5h.01M84.7 514.4h.01M120.6 471.7h.01M87.3 512.4h.01M71.1 528.4h.01M82.1 519.5h.01M75.6 522.2h.01M72.1 527.1h.01M87.4 512.1h.01M84.5 515.7h.01M128.2 440.9h.01M90.7 508.3h.01M70.7 528.2h.01M75.1 521.6h.01M79.2 519.7h.01M77.0 522.9h.01M70.9 528.6h.01M77.2 520.9h.01M74.4 522.3h.01M86.7 512.5h.01M74.2 524.4h.01M80.9 510.1h.01M114.7 479.2h.01M80.3 517.9h.01M73.8 524.3h.01M87.7 506.6h.01M77.3 523.1h.01M76.4 521.1h.01M118.9 480.9h.01M74.7 525.5h.01M73.1 526.3h.01M72.7 527.1h.01M74.9 522.9h.01M73.8 525.3h.01M88.5 507.2h.01M69.2 530.4h.01M74.0 523.2h.01M70.2 529.5h.01M71.8 526.5h.01M70.4 529.3h.01M72.4 527.4h.01M71.0 527.7h.01M72.2 528.5h.01M71.1 528.5h.01M77.0 519.1h.01M70.6 529.3h.01M75.3 522.8h.01M77.9 517.0h.01M106.3 481.2h.01M73.5 524.0h.01M83.8 514.7h.01M80.5 520.4h.01M73.9 525.4h.01M70.7 528.2h.01" stroke="#781c6d"/>
<path d="M88.1 518.8h.01M73.2 528.5h.01M94.6 498.7h.01M76.4 528.2h.01" stroke="#fcffa4"/>
<path d="M95.5 490.7h.01M108.1 473.7h.01M76.8 519.7h.01M101.9 482.5h.01M77.8 518.6h.01M70.4 528.8h.01M72.3 525.6h.01M85.5 506.7h.01M88.9 501.4h.01M84.4 507.5h.01M88.4 500.3h.01M108.0 476.0h.01M84.9 507.6h.01M70.6 528.3h.01M76.8 519.3h.01" stroke="#000004"/>
<path d="M81.9 519.0h.01M80.2 516.7h.01M69.6 530.0h.01M78.9 518.8h.01M85.6 516.8h.01M146.1 440.9h.01M72.9 526.0h.01M71.9 527.3h.01M74.8 522.0h.01M75.1 521.9h.01M75.9 522.3h.01M78.7 517.9h.01M75.5 523.4h.01M78.7 519.8h.01M72.6 525.7h.01M81.5 517.2h.01M70.8 529.2h.01M78.5 520.6h.01M72.4 527.7h.01M73.5 525.8h.01M78.1 517.9h.01M75.0 522.2h.01M90.2 510.8h.01M116.5 470.5h.01M80.6 519.3h.01M91.6 506.4h.01M71.8 527.6h.01M92.8 504.1h.01M73.3 525.3h.01M77.1 520.0h.01M192.6 408.3h.01M157.6 421.5h.01M153.1 430.8h.01M181.3 436.7h.01M134.2 437.4h.01M132.4 443.3h.01" stroke="#781c6d"/>
<path d="M161.7 494.1h.01M125.6 517.2h.01M138.7 490.6h.01M131.2 495.7h.01M109.3 503.4h.01M100.9 510.5h.01M104.0 514.7h.01" stroke="#ed6925"/>
<path d="M77.7 520.0h.01M99.3 505.9h.01M163.4 462.5h.01M221.9 476.3h.01M163.4 496.8h.01M142.8 482.9h.01M116.4 496.1h.01M116.7 500.3h.01M128.2 496.4h.01M122.5 501.1h.01M119.0 504.3h.01M110.5 506.6h.01M104.4 508.7h.01M111.8 511.9h.01M107.6 514.4h.01M102.6 517.5h.01" stroke="#fcffa4"/>
</g>
<rect x="61.0" y="401.1" width="169.5" height="135.6" fill="none" stroke="#000" stroke-opacity="0.45" stroke-width="0.5"/>
<text x="68.8" y="545.1" text-anchor="middle" class="t">0</text>
<text x="103.2" y="545.1" text-anchor="middle" class="t">1000</text>
<text x="137.6" y="545.1" text-anchor="middle" class="t">2000</text>
<text x="172.0" y="545.1" text-anchor="middle" class="t">3000</text>
<text x="206.4" y="545.1" text-anchor="middle" class="t">4000</text>
<text x="58.5" y="533.8" text-anchor="end" class="t">0</text>
<text x="58.5" y="517.3" text-anchor="end" class="t">250</text>
<text x="58.5" y="500.8" text-anchor="end" class="t">500</text>
<text x="58.5" y="484.3" text-anchor="end" class="t">750</text>
<text x="58.5" y="467.8" text-anchor="end" class="t">1000</text>
<text x="58.5" y="451.3" text-anchor="end" class="t">1250</text>
<text x="58.5" y="434.8" text-anchor="end" class="t">1500</text>
<text x="58.5" y="418.3" text-anchor="end" class="t">1750</text>
<path d="M68.8 536.7v1.4M103.2 536.7v1.4M137.6 536.7v1.4M172.0 536.7v1.4M206.4 536.7v1.4M61.0 531.1h-1.4M61.0 514.6h-1.4M61.0 498.1h-1.4M61.0 481.6h-1.4M61.0 465.1h-1.4M61.0 448.6h-1.4M61.0 432.1h-1.4M61.0 415.6h-1.4" stroke="#000" stroke-opacity="0.6" stroke-width="0.5" fill="none"/>
<text x="145.6" y="399.1" text-anchor="middle" class="ti">(e) Calculated pixels number of BB vs. not null</text>
</g>
<g>
<rect x="264.2" y="401.1" width="169.5" height="135.6" fill="#669a9b"/>
<clipPath id="c21"><rect x="264.2" y="401.1" width="169.5" height="135.6"/></clipPath>
<g clip-path="url(#c21)" fill="none" stroke-width="1.45" stroke-linecap="square">
<path d="M272.6 530.4h.01M279.4 521.2h.01M273.7 528.8h.01M274.2 527.8h.01M281.2 521.1h.01M276.8 524.6h.01M278.2 524.5h.01M279.5 523.3h.01M279.0 524.8h.01M280.6 523.2h.01M280.5 521.7h.01M277.4 523.6h.01M277.8 523.5h.01M275.3 527.9h.01M275.0 528.2h.01M282.7 523.7h.01M281.1 522.4h.01M280.4 520.8h.01M280.0 518.4h.01M278.1 528.0h.01M279.7 522.3h.01M280.1 523.0h.01M281.6 522.0h.01M278.1 522.9h.01M274.4 527.7h.01M274.1 528.7h.01M279.6 520.3h.01M277.4 526.0h.01M272.8 529.9h.01M273.8 529.2h.01M276.7 524.1h.01M275.5 527.2h.01M280.8 522.7h.01M274.0 528.8h.01M275.5 527.2h.01M277.9 523.0h.01" stroke="#000004"/>
<path d="M306.5 493.9h.01M300.5 490.5h.01M301.3 492.8h.01M299.9 494.1h.01M295.7 499.5h.01M308.3 497.7h.01" stroke="#781c6d"/>
<path d="M294.5 502.0h.01M291.2 516.1h.01M281.7 518.5h.01M285.3 520.9h.01M292.6 504.4h.01M286.5 515.2h.01M284.7 510.6h.01M284.4 516.8h.01M292.0 504.2h.01M287.4 510.8h.01M290.7 505.3h.01M283.9 518.8h.01M287.1 511.2h.01M285.6 520.5h.01M287.2 519.9h.01M284.9 517.8h.01M282.4 519.9h.01M292.3 507.1h.01M290.1 515.4h.01M297.3 510.3h.01M283.2 517.1h.01M286.1 512.9h.01M285.7 517.6h.01M285.2 521.1h.01M285.1 519.6h.01M283.0 513.8h.01M288.4 507.0h.01M289.7 511.4h.01M287.5 511.3h.01M291.4 501.5h.01M292.2 516.8h.01M281.7 519.6h.01" stroke="#ed6925"/>
<path d="M323.9 469.1h.01" stroke="#fcffa4"/>
<path d="M275.5 527.2h.01M274.9 527.7h.01M273.2 529.4h.01M278.0 522.4h.01M281.1 519.2h.01M279.9 522.5h.01M279.1 522.2h.01M279.2 522.6h.01M276.4 528.9h.01M274.5 529.2h.01M277.9 525.1h.01M275.9 526.1h.01M275.0 528.3h.01M273.5 528.8h.01M274.4 527.9h.01M278.9 523.6h.01M281.2 519.9h.01M279.3 522.2h.01M277.5 524.5h.01M274.0 528.2h.01M275.7 527.8h.01M276.9 523.8h.01M276.0 526.5h.01M276.8 526.2h.01M279.9 523.1h.01M281.3 520.9h.01M277.6 525.5h.01M275.2 527.0h.01M277.2 525.4h.01M281.4 522.4h.01M278.0 522.1h.01M276.0 525.6h.01M273.4 529.4h.01M279.8 521.2h.01M280.0 523.4h.01M279.4 522.7h.01M274.0 529.2h.01M273.8 529.2h.01M277.7 522.4h.01M274.9 529.1h.01M278.3 520.8h.01M280.8 524.3h.01M277.5 524.4h.01" stroke="#000004"/>
<path d="M302.1 495.6h.01M297.8 508.2h.01M310.8 477.6h.01M300.0 490.2h.01M307.6 481.9h.01M309.9 508.9h.01M302.9 496.5h.01M316.6 470.4h.01M297.1 505.6h.01" stroke="#781c6d"/>
<path d="M285.8 517.9h.01M292.1 517.6h.01M283.0 513.9h.01M285.9 514.3h.01M285.0 512.7h.01M291.1 504.7h.01M284.9 518.9h.01M281.6 516.5h.01M283.0 519.7h.01M282.6 515.5h.01M288.2 514.6h.01M286.7 512.7h.01M289.2 504.0h.01M285.4 512.9h.01M284.7 514.0h.01M291.0 511.4h.01M293.3 508.3h.01M287.8 513.2h.01M284.0 517.5h.01M287.2 509.1h.01M283.7 513.9h.01M293.5 511.1h.01M288.7 506.9h.01" stroke="#ed6925"/>
<path d="M275.9 526.5h.01M277.9 523.3h.01M282.0 521.5h.01M276.4 526.2h.01M274.3 528.2h.01M277.8 525.1h.01M279.5 521.1h.01M280.9 518.7h.01M280.7 517.7h.01M279.4 523.1h.01M274.9 526.6h.01M274.4 527.4h.01M280.7 517.9h.01M274.3 528.2h.01M272.9 530.0h.01M276.5 526.0h.01M275.9 525.6h.01M276.4 526.3h.01M279.6 521.6h.01M275.0 528.1h.01M276.9 524.3h.01M274.7 528.9h.01M280.6 518.0h.01M279.1 522.7h.01M279.2 519.8h.01M279.8 523.2h.01M277.4 525.6h.01M273.6 529.2h.01M274.0 529.1h.01M274.9 528.3h.01M278.6 526.8h.01M277.9 524.9h.01M278.7 525.0h.01M278.7 524.2h.01M277.0 523.5h.01" stroke="#000004"/>
<path d="M300.3 487.3h.01M309.9 490.7h.01M305.4 486.5h.01M305.5 492.5h.01M298.8 504.7h.01M313.5 482.1h.01M304.9 490.2h.01M297.1 496.1h.01" stroke="#781c6d"/>
<path d="M289.2 508.3h.01M294.8 501.5h.01M286.1 522.0h.01M284.3 515.4h.01M290.3 506.0h.01M282.5 515.2h.01M282.0 518.6h.01M288.8 504.8h.01M294.7 512.9h.01M283.1 515.9h.01M283.6 517.3h.01M283.0 513.8h.01M285.8 511.1h.01M288.9 506.8h.01M292.7 505.8h.01M285.2 514.9h.01M285.2 514.8h.01M282.5 516.7h.01M290.5 509.6h.01M286.3 519.1h.01M290.7 513.6h.01M285.0 514.4h.01M288.0 510.4h.01M291.1 504.9h.01M284.8 515.6h.01M283.6 521.0h.01M285.4 518.1h.01M286.2 515.6h.01M282.8 515.0h.01M288.4 513.2h.01M282.4 515.9h.01" stroke="#ed6925"/>
<path d="M319.4 465.0h.01" stroke="#fcffa4"/>
<path d="M278.9 520.9h.01M275.2 527.3h.01M275.0 528.7h.01M277.1 523.9h.01M275.0 527.2h.01M279.1 523.5h.01M276.0 525.1h.01M274.3 527.8h.01M280.4 523.0h.01M273.1 530.1h.01M280.4 520.0h.01M277.5 524.9h.01M273.8 528.8h.01M276.4 524.2h.01M279.6 519.6h.01M277.1 523.2h.01M279.6 526.6h.01M276.6 524.9h.01M278.1 522.9h.01M275.2 528.2h.01M282.1 521.9h.01M281.2 521.5h.01M280.1 521.2h.01M278.1 524.5h.01M276.1 526.8h.01M275.1 527.4h.01M278.1 522.3h.01M273.6 529.1h.01M274.4 527.1h.01M276.1 524.8h.01M274.0 528.0h.01M279.1 522.9h.01M281.9 523.1h.01M276.0 526.1h.01M274.4 529.7h.01M273.5 529.3h.01M279.1 524.6h.01M273.0 529.9h.01" stroke="#000004"/>
<path d="M315.6 487.0h.01M297.1 493.8h.01M296.9 501.6h.01M302.8 487.0h.01M314.5 491.9h.01M294.8 493.6h.01M298.1 496.3h.01M306.9 481.9h.01M298.7 505.5h.01" stroke="#781c6d"/>
<path d="M293.7 499.9h.01M287.6 518.9h.01M285.0 515.7h.01M282.3 517.5h.01M286.4 517.0h.01M294.8 507.9h.01M292.9 508.5h.01M288.6 510.6h.01M292.0 512.3h.01M286.4 513.4h.01M284.7 514.1h.01M293.8 506.4h.01M282.1 519.5h.01M287.2 509.2h.01M285.1 516.5h.01M288.7 509.3h.01M285.8 520.2h.01M285.2 515.7h.01M284.9 521.4h.01M285.7 508.8h.01M283.3 517.7h.01M290.4 507.8h.01M288.1 517.8h.01M285.2 516.9h.01M287.6 509.0h.01M284.0 514.5h.01M286.3 515.1h.01" stroke="#ed6925"/>
<path d="M338.9 416.1h.01" stroke="#fcffa4"/>
<path d="M282.3 525.2h.01M278.4 523.1h.01M280.8 521.9h.01M280.3 522.1h.01M274.8 527.0h.01M279.6 520.4h.01M276.8 526.4h.01M277.7 522.6h.01M277.9 524.7h.01M280.5 523.1h.01M275.0 527.1h.01M273.1 529.8h.01M276.7 525.9h.01M279.3 522.2h.01M276.3 526.2h.01M278.0 525.7h.01M274.3 528.0h.01M273.2 529.4h.01M276.1 528.2h.01M276.2 526.6h.01M278.8 521.5h.01M275.5 527.8h.01M273.6 529.4h.01M280.4 520.3h.01M279.6 520.4h.01M274.3 528.2h.01M273.6 529.7h.01M280.6 520.8h.01M275.5 526.1h.01M280.0 522.5h.01M274.4 527.9h.01M280.1 522.5h.01M279.9 523.0h.01M277.4 523.0h.01M274.5 527.3h.01M277.9 525.0h.01M279.9 521.2h.01M273.6 529.4h.01M280.8 519.1h.01M277.2 524.6h.01M275.0 528.0h.01M272.8 530.2h.01M273.8 529.1h.01M280.9 521.3h.01M278.4 521.9h.01M279.0 524.7h.01" stroke="#000004"/>
<path d="M309.6 490.7h.01M301.2 502.1h.01M296.9 505.5h.01M301.5 489.8h.01M311.2 478.0h.01M300.6 512.1h.01M312.4 483.0h.01M299.7 490.7h.01" stroke="#781c6d"/>
<path d="M282.4 515.0h.01M291.8 501.9h.01M289.0 506.5h.01M290.6 506.1h.01M282.8 519.3h.01M292.1 515.0h.01M281.8 517.5h.01M287.8 518.7h.01M289.9 506.4h.01M285.6 515.2h.01M281.9 518.1h.01M288.7 514.1h.01M281.6 516.5h.01M293.8 498.1h.01M286.8 510.2h.01M292.2 514.0h.01M281.6 517.5h.01M283.3 519.0h.01M283.0 515.1h.01M285.3 516.1h.01M283.8 514.2h.01" stroke="#ed6925"/>
<path d="M279.7 521.6h.01M277.1 524.4h.01M281.6 523.7h.01M275.4 525.6h.01M280.3 521.2h.01M274.7 529.2h.01M275.5 527.5h.01M280.2 519.8h.01M278.8 521.2h.01M275.2 527.3h.01M273.1 529.6h.01M276.4 527.6h.01M278.3 522.0h.01M279.4 520.0h.01M274.6 528.0h.01M273.0 529.6h.01M279.4 522.4h.01M280.1 522.7h.01M274.8 526.5h.01M278.6 524.1h.01M278.4 521.7h.01M278.4 524.6h.01M280.2 524.2h.01M274.2 528.4h.01M278.8 524.9h.01M278.2 521.7h.01M274.8 528.1h.01M279.6 521.9h.01M277.6 524.5h.01M277.6 524.5h.01M280.4 524.5h.01M275.0 527.5h.01M280.9 521.5h.01M280.3 524.7h.01" stroke="#000004"/>
<path d="M307.2 480.9h.01M308.3 487.1h.01M296.8 498.6h.01M300.8 494.5h.01M296.7 501.1h.01M307.0 496.5h.01M304.0 504.9h.01M295.6 499.5h.01M297.9 491.7h.01M296.7 501.7h.01" stroke="#781c6d"/>
<path d="M285.1 514.8h.01M287.0 510.6h.01M285.0 515.1h.01M284.9 512.1h.01M281.8 518.2h.01M293.9 505.2h.01M285.7 510.0h.01M283.5 517.3h.01M289.1 504.9h.01M284.8 516.3h.01M294.3 501.3h.01M282.4 518.6h.01M287.8 513.8h.01M283.0 521.1h.01M288.9 509.7h.01M282.1 517.3h.01M296.4 505.7h.01M283.7 516.9h.01M294.3 514.1h.01M291.7 503.8h.01M286.8 516.9h.01M294.4 508.9h.01M281.9 515.9h.01M287.7 514.4h.01M288.9 514.8h.01M282.7 515.1h.01M285.5 513.4h.01M284.3 519.1h.01" stroke="#ed6925"/>
<path d="M340.5 442.0h.01M329.2 480.2h.01M327.9 449.6h.01" stroke="#fcffa4"/>
<path d="M274.3 528.4h.01M281.3 519.7h.01M274.2 528.4h.01M274.7 527.9h.01M278.1 522.9h.01M277.8 523.2h.01M278.2 524.6h.01M274.7 527.5h.01M274.6 528.4h.01M279.6 521.8h.01M276.3 526.7h.01M280.5 521.1h.01M276.6 523.8h.01M280.5 520.7h.01M278.8 528.1h.01M275.2 526.3h.01M276.5 524.8h.01M277.7 526.2h.01M277.1 524.9h.01M277.0 525.6h.01M273.1 529.6h.01M281.7 520.1h.01M277.4 524.0h.01M280.7 522.5h.01M280.5 523.6h.01M276.7 524.8h.01M280.2 523.1h.01M277.2 527.8h.01M280.2 522.5h.01M274.9 527.4h.01M283.4 526.8h.01M273.0 530.0h.01M277.3 525.2h.01M275.0 526.4h.01M277.2 525.7h.01" stroke="#000004"/>
<path d="M310.7 485.2h.01M299.7 488.9h.01M306.4 490.3h.01M302.2 493.3h.01M311.3 492.5h.01M310.3 494.8h.01M301.7 503.9h.01M308.2 485.3h.01M298.3 498.9h.01" stroke="#781c6d"/>
<path d="M283.3 516.9h.01M282.8 514.7h.01M289.9 503.3h.01M283.0 517.7h.01M289.7 512.7h.01M281.4 516.6h.01M282.6 517.4h.01M290.3 506.0h.01M287.0 507.6h.01M292.3 509.7h.01M285.3 515.9h.01M285.6 514.8h.01M287.6 518.7h.01M286.5 513.4h.01M283.1 522.7h.01M288.5 510.5h.01M282.7 519.1h.01M284.4 512.7h.01M284.8 514.7h.01M283.6 517.1h.01M292.4 511.7h.01M287.0 518.0h.01M295.4 502.6h.01M288.9 517.6h.01M291.0 515.0h.01M288.0 511.1h.01M286.8 510.3h.01M283.8 521.9h.01M283.8 517.0h.01" stroke="#ed6925"/>
<path d="M318.2 465.4h.01M329.7 481.4h.01" stroke="#fcffa4"/>
<path d="M277.8 524.0h.01M274.5 528.2h.01M275.3 527.1h.01M277.5 523.9h.01M278.1 527.3h.01M278.4 523.3h.01M275.0 527.1h.01M276.0 526.7h.01M277.8 522.9h.01M280.1 519.1h.01M280.2 518.6h.01M279.0 527.6h.01M277.6 522.2h.01M277.5 524.4h.01M278.9 521.7h.01M277.2 524.8h.01M277.8 522.2h.01M281.6 526.2h.01M273.6 529.0h.01M275.3 526.1h.01M280.6 521.1h.01M275.4 528.8h.01M274.8 527.4h.01M277.4 523.5h.01M274.8 527.4h.01M277.2 524.1h.01M280.6 525.2h.01M276.9 529.0h.01M282.5 522.9h.01M277.1 523.3h.01M280.4 522.3h.01M274.7 527.8h.01M278.6 521.4h.01M281.1 518.1h.01M279.8 521.0h.01M280.1 522.4h.01M274.8 527.5h.01M274.9 527.3h.01M281.1 524.1h.01M273.2 529.5h.01" stroke="#000004"/>
<path d="M295.9 498.0h.01M298.8 500.7h.01M304.0 494.2h.01M302.2 495.3h.01M301.7 500.2h.01" stroke="#781c6d"/>
<path d="M287.1 517.9h.01M292.5 504.1h.01M287.3 514.4h.01M285.9 511.2h.01M284.5 514.4h.01M292.2 499.5h.01M282.9 520.1h.01M293.6 499.6h.01M291.7 516.0h.01M289.1 509.4h.01M286.4 514.9h.01M284.9 514.3h.01M283.1 517.9h.01M283.3 520.7h.01M287.8 506.7h.01M282.6 517.8h.01M288.3 512.4h.01M284.9 514.7h.01M290.5 507.6h.01M294.4 501.5h.01M284.0 516.5h.01M287.2 516.2h.01M295.1 507.1h.01M285.8 513.6h.01M294.7 499.9h.01M281.9 516.4h.01M286.3 518.2h.01M291.0 502.0h.01" stroke="#ed6925"/>
<path d="M320.4 464.6h.01" stroke="#fcffa4"/>
<path d="M281.0 518.5h.01M275.7 526.1h.01M277.2 524.1h.01M278.8 522.4h.01M274.2 528.8h.01M274.9 527.2h.01M275.2 527.3h.01M274.7 528.5h.01M275.3 526.8h.01M275.1 527.0h.01M276.1 526.2h.01M273.3 529.4h.01M276.6 524.5h.01M280.4 526.9h.01M277.2 523.4h.01M281.6 522.4h.01M280.0 521.3h.01M279.5 521.5h.01M281.6 519.4h.01M277.1 526.8h.01M274.6 527.7h.01M279.2 525.5h.01M282.3 522.1h.01M277.3 524.2h.01M273.1 530.0h.01M274.6 527.2h.01M274.3 527.4h.01M275.1 527.1h.01M276.6 525.7h.01M279.2 522.4h.01M280.0 522.4h.01M276.9 523.7h.01" stroke="#000004"/>
<path d="M304.7 490.7h.01M298.9 493.2h.01M299.2 507.2h.01M308.2 484.8h.01M304.1 494.8h.01M298.9 510.6h.01M298.0 506.7h.01M309.8 493.3h.01" stroke="#781c6d"/>
<path d="M289.0 509.7h.01M291.4 507.6h.01M287.1 517.8h.01M291.2 511.3h.01M285.4 513.0h.01M286.8 515.6h.01M284.4 512.6h.01M283.5 521.1h.01M283.2 517.9h.01M282.6 517.5h.01M285.2 515.4h.01M282.8 516.6h.01M290.0 509.1h.01M284.3 511.7h.01M282.7 517.5h.01M288.3 505.8h.01M287.5 512.0h.01M287.7 515.3h.01M288.2 521.2h.01M294.2 515.3h.01M284.9 512.3h.01M288.5 511.2h.01M285.2 514.5h.01M282.0 519.7h.01M284.6 512.0h.01M290.8 503.7h.01M282.6 517.4h.01M293.9 508.9h.01M284.2 524.7h.01M288.9 513.5h.01M284.0 520.9h.01M291.4 503.9h.01M281.4 517.9h.01M285.3 517.9h.01" stroke="#ed6925"/>
<path d="M276.7 526.8h.01M274.8 528.7h.01M279.1 520.3h.01M280.3 519.6h.01M275.9 525.5h.01M273.7 529.1h.01M276.6 525.2h.01M275.3 528.5h.01M274.9 527.7h.01M276.7 526.4h.01M276.1 527.6h.01M275.4 527.6h.01M274.9 527.7h.01M280.7 518.9h.01M280.2 521.4h.01M277.1 523.8h.01M277.7 524.6h.01M277.1 526.1h.01M277.8 522.1h.01M279.9 521.7h.01M276.0 524.9h.01M275.6 529.0h.01M279.0 525.7h.01M277.9 522.2h.01M274.8 528.3h.01M275.3 528.1h.01M278.4 526.2h.01M274.3 529.7h.01M279.7 524.7h.01M278.3 522.9h.01M277.9 524.8h.01M274.0 528.2h.01M278.1 523.1h.01M279.3 521.5h.01M275.0 527.1h.01M279.5 522.5h.01M279.1 524.9h.01" stroke="#000004"/>
<path d="M308.0 474.7h.01M304.5 491.7h.01M301.5 501.2h.01M302.5 505.1h.01M318.1 476.4h.01M298.3 510.4h.01M308.5 486.5h.01M295.6 499.7h.01" stroke="#781c6d"/>
<path d="M282.9 522.0h.01M287.1 514.2h.01M287.3 509.2h.01M288.1 510.7h.01M291.4 504.0h.01M286.4 514.9h.01M282.9 517.0h.01M291.9 507.9h.01M283.4 522.7h.01M283.4 517.3h.01M286.2 517.8h.01M283.8 520.0h.01M289.5 501.6h.01M287.1 515.1h.01M283.5 516.3h.01M282.9 522.6h.01M286.2 512.1h.01M288.2 507.7h.01M285.4 514.8h.01M289.3 504.4h.01M286.3 510.9h.01M289.7 511.1h.01M286.2 511.8h.01M284.7 511.4h.01M283.9 514.7h.01M281.9 519.5h.01M282.5 518.4h.01M290.8 510.0h.01" stroke="#ed6925"/>
<path d="M328.5 451.5h.01" stroke="#fcffa4"/>
<path d="M275.4 525.8h.01M277.0 526.5h.01M278.0 524.2h.01M277.5 524.6h.01M278.7 526.5h.01M275.3 528.2h.01M275.3 527.5h.01M279.2 520.9h.01M278.7 527.5h.01M280.0 524.4h.01M282.0 520.9h.01M279.6 521.5h.01M280.1 520.9h.01M277.0 523.4h.01M277.3 524.8h.01M280.5 521.3h.01M280.0 524.4h.01M278.8 522.4h.01M275.2 526.8h.01M276.9 524.6h.01M273.9 528.8h.01M274.8 526.7h.01M279.0 523.2h.01M278.6 522.4h.01M278.2 521.4h.01M280.7 524.8h.01M276.8 524.1h.01M279.8 520.1h.01M275.8 527.4h.01M277.1 525.2h.01M276.3 525.1h.01M276.9 526.3h.01" stroke="#000004"/>
<path d="M300.8 488.5h.01M301.7 501.9h.01M301.9 492.4h.01M297.3 497.8h.01M301.6 493.1h.01M305.5 484.8h.01" stroke="#781c6d"/>
<path d="M284.4 521.1h.01M281.8 519.4h.01M283.2 515.6h.01M283.7 515.8h.01M290.7 514.8h.01M283.4 513.5h.01M281.1 517.9h.01M284.0 519.2h.01M284.3 514.0h.01M292.8 509.8h.01M282.1 518.3h.01M290.4 506.2h.01M283.6 512.9h.01M282.9 519.0h.01M285.7 509.6h.01M289.3 514.0h.01M281.2 516.5h.01M286.4 516.9h.01M284.6 513.5h.01M294.5 510.4h.01M283.7 516.7h.01M283.1 514.5h.01M292.9 502.1h.01M284.8 526.6h.01M282.9 515.2h.01M283.5 515.6h.01M291.9 508.9h.01M293.6 498.2h.01M288.3 516.8h.01M293.1 513.2h.01M281.9 517.1h.01M281.7 516.6h.01M284.4 513.2h.01M282.3 519.1h.01M281.4 516.6h.01" stroke="#ed6925"/>
<path d="M325.8 477.8h.01" stroke="#fcffa4"/>
<path d="M276.4 526.6h.01M278.1 524.8h.01M274.9 527.3h.01M277.3 525.1h.01M278.7 521.8h.01M275.8 526.7h.01M278.2 524.3h.01M276.1 527.5h.01M274.3 529.2h.01M274.9 527.2h.01M281.0 519.6h.01M274.0 528.1h.01M276.3 526.6h.01M278.0 525.0h.01M276.6 524.2h.01M278.3 522.4h.01M276.4 525.2h.01M279.7 521.6h.01M275.8 526.0h.01M276.2 527.5h.01M275.0 529.4h.01M278.2 522.6h.01M274.0 528.2h.01M276.7 525.4h.01M277.4 525.7h.01M277.4 525.7h.01M278.2 522.1h.01M278.9 520.7h.01M278.6 521.4h.01M275.4 528.2h.01M272.4 530.5h.01M282.4 526.8h.01M277.1 524.2h.01M280.5 519.8h.01M273.3 529.8h.01M276.3 528.7h.01" stroke="#000004"/>
<path d="M296.9 505.7h.01M300.2 490.7h.01M309.3 495.2h.01M317.3 503.2h.01M300.0 487.8h.01" stroke="#781c6d"/>
<path d="M291.4 509.4h.01M291.1 504.8h.01M282.2 520.9h.01M292.0 506.0h.01M285.5 514.2h.01M282.3 518.7h.01M286.1 512.0h.01M283.4 520.0h.01M282.9 519.7h.01M289.2 509.6h.01M294.5 503.4h.01M286.0 519.6h.01M283.2 519.0h.01M282.8 517.7h.01M282.1 520.1h.01M283.0 520.9h.01M293.1 514.8h.01M282.7 520.1h.01M284.5 516.4h.01M283.9 518.2h.01M297.4 511.4h.01M293.8 522.1h.01M295.4 513.1h.01M286.0 512.7h.01M291.5 503.1h.01M290.3 507.7h.01M284.1 521.8h.01M284.4 514.4h.01M282.3 521.6h.01M293.5 502.4h.01M291.2 510.3h.01M285.2 519.3h.01M292.9 505.4h.01" stroke="#ed6925"/>
<path d="M279.9 524.3h.01M276.5 526.2h.01M276.4 526.8h.01M278.4 524.6h.01M276.1 524.8h.01M276.4 525.9h.01M276.1 525.4h.01M277.7 528.5h.01M279.0 523.2h.01M275.7 526.6h.01M276.7 525.8h.01M281.8 524.2h.01M273.3 529.5h.01M279.8 521.6h.01M278.8 521.5h.01M278.8 521.5h.01M276.9 523.8h.01M280.4 518.8h.01M273.8 529.1h.01M281.5 520.3h.01M278.3 521.9h.01M277.1 525.4h.01M279.8 522.7h.01M278.6 522.0h.01M279.3 526.4h.01M278.1 522.7h.01M272.6 530.3h.01M274.8 527.2h.01M280.7 523.2h.01M273.4 528.9h.01M280.0 517.5h.01M277.1 524.1h.01M281.1 521.6h.01M279.0 522.2h.01M277.7 527.7h.01M277.8 522.8h.01M274.3 528.2h.01" stroke="#000004"/>
<path d="M308.1 490.2h.01M306.4 502.6h.01M299.4 495.8h.01M308.9 479.6h.01M297.7 498.7h.01M301.7 492.0h.01" stroke="#781c6d"/>
<path d="M283.6 517.3h.01M286.5 509.8h.01M290.1 507.4h.01M289.7 518.7h.01M284.8 521.2h.01M285.3 509.8h.01M282.3 518.0h.01M287.0 518.6h.01M289.4 509.3h.01M293.4 499.8h.01M290.3 511.2h.01M291.1 503.1h.01M290.5 505.7h.01M294.9 507.7h.01M291.2 507.8h.01M285.3 515.2h.01M282.3 517.1h.01M285.7 513.3h.01M290.2 514.8h.01M285.4 512.6h.01M281.6 517.2h.01M285.4 517.8h.01M288.3 513.4h.01M289.2 509.8h.01M290.0 509.1h.01M294.2 512.0h.01M288.5 514.1h.01M290.6 510.6h.01" stroke="#ed6925"/>
<path d="M324.2 479.3h.01M320.0 476.1h.01M334.8 457.9h.01" stroke="#fcffa4"/>
<path d="M281.1 520.4h.01M274.8 528.7h.01M276.4 525.3h.01M280.8 520.3h.01M275.8 527.0h.01M281.0 518.4h.01M278.1 524.0h.01M276.4 524.3h.01M279.5 523.5h.01M278.4 522.2h.01M280.7 521.3h.01M273.5 529.2h.01M281.7 521.5h.01M275.5 526.3h.01M280.7 520.7h.01M274.9 528.3h.01M274.6 529.0h.01M274.6 527.9h.01M274.8 527.0h.01M277.0 525.0h.01M280.9 521.6h.01M277.8 524.2h.01M275.4 526.4h.01M280.0 522.1h.01M275.9 526.6h.01M280.6 521.0h.01M280.5 519.3h.01M276.0 525.1h.01M279.8 521.3h.01M278.5 522.0h.01M277.2 525.8h.01M278.2 525.4h.01M277.1 523.9h.01M283.4 525.5h.01M278.2 525.3h.01M278.7 522.8h.01M274.4 528.0h.01" stroke="#000004"/>
<path d="M306.6 501.0h.01M300.2 489.6h.01M294.3 497.6h.01M302.8 503.3h.01M304.5 484.7h.01M303.8 498.0h.01M305.6 500.9h.01M298.8 496.5h.01" stroke="#781c6d"/>
<path d="M282.1 517.3h.01M289.5 504.9h.01M282.1 517.1h.01M289.0 510.2h.01M283.5 514.2h.01M282.6 517.4h.01M284.9 517.2h.01M284.0 516.6h.01M293.9 501.2h.01M287.6 513.4h.01M284.7 523.3h.01M287.7 509.3h.01M292.1 511.9h.01M284.4 515.5h.01M289.6 524.0h.01M292.6 503.5h.01M292.3 509.7h.01M291.8 505.1h.01M285.0 514.8h.01M290.7 505.2h.01M282.3 515.4h.01M284.5 517.9h.01M284.2 513.7h.01M284.6 518.9h.01M298.4 513.4h.01M283.3 517.4h.01" stroke="#ed6925"/>
<path d="M323.7 461.0h.01M333.8 458.3h.01M319.6 468.9h.01" stroke="#fcffa4"/>
<path d="M274.1 528.5h.01M277.3 523.8h.01M279.3 523.4h.01M273.4 529.4h.01M279.8 519.4h.01M276.3 525.2h.01M280.6 520.6h.01M278.4 525.3h.01M279.6 521.0h.01M277.6 523.8h.01M274.4 528.1h.01M275.0 527.1h.01M281.5 519.3h.01M275.7 527.0h.01M276.6 525.6h.01M273.4 529.2h.01M275.5 527.3h.01M275.3 527.2h.01M280.2 524.8h.01M280.5 519.8h.01M276.1 527.4h.01M277.2 524.0h.01M278.6 526.2h.01M278.7 528.6h.01M282.1 522.1h.01M275.6 527.7h.01M280.0 518.7h.01M278.6 522.2h.01M279.4 522.8h.01M278.1 524.4h.01M274.8 528.4h.01M274.7 528.5h.01M281.1 524.4h.01M273.6 528.7h.01M276.8 527.0h.01M278.5 520.5h.01M274.6 527.8h.01M275.7 527.2h.01M278.9 523.4h.01" stroke="#000004"/>
<path d="M315.1 476.4h.01M300.0 491.3h.01M295.4 497.9h.01M297.3 494.8h.01M298.3 501.6h.01" stroke="#781c6d"/>
<path d="M294.3 504.6h.01M287.3 512.1h.01M283.1 516.1h.01M283.9 520.4h.01M294.3 508.2h.01M282.4 519.4h.01M283.1 515.8h.01M285.9 517.0h.01M283.0 519.5h.01M292.7 506.6h.01M283.4 516.5h.01M281.5 515.2h.01M293.3 504.5h.01M282.3 521.0h.01M281.9 520.0h.01M290.8 511.5h.01M290.9 503.3h.01M290.1 506.1h.01M286.4 513.1h.01M281.6 519.4h.01M287.7 519.4h.01M291.1 512.6h.01M287.7 518.2h.01M285.2 511.6h.01M290.2 504.0h.01M285.7 512.0h.01M286.7 512.2h.01M291.5 501.6h.01" stroke="#ed6925"/>
<path d="M329.3 457.0h.01M331.1 464.5h.01" stroke="#fcffa4"/>
<path d="M273.9 528.3h.01M273.6 529.5h.01M277.1 526.1h.01M276.3 526.3h.01M280.2 520.7h.01M279.3 521.0h.01M276.7 524.0h.01M273.2 529.7h.01M274.1 528.6h.01M277.3 524.6h.01M277.6 527.9h.01M280.1 518.7h.01M282.2 521.7h.01M278.6 520.8h.01M272.7 530.4h.01M279.5 519.6h.01M275.7 526.6h.01M279.8 520.5h.01M274.5 527.7h.01M275.9 527.9h.01M274.9 527.8h.01M281.3 520.3h.01M280.2 523.2h.01M276.0 527.4h.01M276.3 526.1h.01M281.1 523.3h.01M275.6 525.9h.01M274.6 527.4h.01M279.3 520.1h.01M281.1 520.8h.01M277.4 524.8h.01M276.5 528.2h.01M281.2 520.9h.01M280.8 522.6h.01M279.4 521.6h.01M275.2 527.4h.01" stroke="#000004"/>
<path d="M296.2 499.9h.01M311.2 488.9h.01M300.9 491.2h.01M315.7 468.0h.01M305.9 499.5h.01M297.8 506.6h.01" stroke="#781c6d"/>
<path d="M288.4 512.6h.01M292.5 505.4h.01M289.9 504.6h.01M295.1 504.3h.01M282.0 516.6h.01M284.8 515.7h.01M293.0 516.3h.01M285.9 516.5h.01M283.8 517.0h.01M296.1 507.8h.01M283.8 514.5h.01M293.2 501.9h.01M283.6 521.5h.01M283.0 518.7h.01M283.3 519.1h.01M292.7 500.4h.01M284.8 516.0h.01M284.9 517.9h.01M290.2 502.9h.01M286.3 514.9h.01M284.1 517.2h.01M293.4 506.5h.01M284.0 519.2h.01M282.0 518.2h.01M286.4 514.6h.01M286.8 514.9h.01M286.9 507.8h.01M283.1 516.9h.01M282.7 515.3h.01M284.3 515.4h.01M293.7 498.8h.01" stroke="#ed6925"/>
<path d="M317.7 464.7h.01" stroke="#fcffa4"/>
<path d="M274.6 528.8h.01M275.6 525.6h.01M274.4 527.6h.01M280.1 520.3h.01M280.6 521.6h.01M281.7 521.4h.01M280.8 523.4h.01M273.9 528.8h.01M273.1 530.5h.01M280.5 520.0h.01M273.8 528.8h.01M277.7 524.1h.01M278.1 522.0h.01M279.6 519.7h.01M281.3 520.8h.01M276.5 526.9h.01M276.2 528.2h.01M277.5 524.8h.01M275.7 527.5h.01M278.2 522.6h.01M273.5 529.4h.01M279.3 521.2h.01M274.7 527.5h.01M275.3 525.9h.01M279.5 521.4h.01M275.4 529.4h.01M279.8 524.8h.01M276.7 524.8h.01M279.1 520.6h.01M278.2 523.4h.01M278.7 520.6h.01M273.2 530.0h.01M276.3 525.0h.01M279.3 523.1h.01M276.1 529.1h.01M279.2 522.3h.01M279.6 527.2h.01M279.1 524.6h.01M280.6 523.7h.01M274.4 528.8h.01M279.7 520.9h.01M275.8 525.8h.01M280.5 518.8h.01M275.7 527.0h.01M275.4 526.3h.01M275.0 528.1h.01M274.6 528.8h.01M279.3 520.4h.01M278.9 523.3h.01M280.4 520.5h.01" stroke="#000004"/>
<path d="M302.4 487.5h.01M322.9 490.5h.01M302.7 496.2h.01M307.9 490.8h.01M300.2 508.5h.01M314.9 482.0h.01M298.7 497.9h.01M296.8 491.2h.01" stroke="#781c6d"/>
<path d="M285.1 522.7h.01M291.8 509.9h.01M288.9 505.2h.01M286.8 515.5h.01M291.2 506.1h.01M295.1 513.0h.01M288.9 516.8h.01M282.3 516.9h.01M290.4 508.5h.01M289.4 512.6h.01M287.4 511.2h.01M287.7 513.0h.01M286.6 519.0h.01M282.4 516.0h.01M287.1 515.9h.01M285.0 510.7h.01" stroke="#ed6925"/>
<path d="M281.1 518.5h.01M277.0 526.1h.01M280.0 519.5h.01M278.0 523.6h.01M279.7 522.1h.01M280.6 518.0h.01M277.6 523.8h.01M274.0 528.7h.01M275.8 526.5h.01M276.6 526.6h.01M278.6 524.4h.01M281.3 520.7h.01M280.0 518.9h.01M275.5 527.3h.01M281.3 519.3h.01M278.6 520.8h.01M276.8 525.4h.01M279.3 523.7h.01M277.1 525.3h.01M279.0 525.3h.01M277.7 524.7h.01M276.9 524.8h.01M278.2 523.4h.01M272.3 530.6h.01M279.5 522.9h.01M280.2 522.9h.01M272.8 529.8h.01M273.5 529.1h.01M277.8 524.6h.01M282.4 522.1h.01M277.9 522.4h.01M274.4 528.7h.01M274.0 528.3h.01M274.5 527.6h.01M277.5 525.0h.01M275.6 526.5h.01M275.7 527.7h.01M277.2 524.5h.01" stroke="#000004"/>
<path d="M297.9 509.6h.01M317.2 496.4h.01M311.9 475.0h.01M299.9 495.6h.01M310.9 482.7h.01M295.6 500.6h.01M304.0 490.2h.01" stroke="#781c6d"/>
<path d="M294.3 502.8h.01M283.3 520.4h.01M296.2 510.2h.01M283.5 515.6h.01M281.9 517.9h.01M291.4 507.4h.01M285.6 513.4h.01M287.4 519.2h.01M284.4 516.8h.01M287.7 514.1h.01M281.9 518.1h.01M282.5 521.8h.01M283.0 516.9h.01M285.5 523.0h.01M292.9 510.1h.01M283.6 515.1h.01M282.6 515.0h.01M285.7 510.0h.01M282.3 515.9h.01M285.3 518.6h.01M287.3 509.2h.01M282.6 518.4h.01M286.7 510.3h.01M288.9 506.6h.01M287.3 508.0h.01M285.8 514.6h.01" stroke="#ed6925"/>
<path d="M319.0 474.9h.01M328.3 456.5h.01M321.8 473.8h.01" stroke="#fcffa4"/>
<path d="M276.9 524.7h.01M277.4 523.3h.01M275.4 527.0h.01M280.5 520.1h.01M276.0 525.6h.01M274.9 529.7h.01M280.7 520.4h.01M275.6 528.5h.01M277.3 525.6h.01M280.7 520.8h.01M279.0 520.7h.01M277.4 524.8h.01M275.4 526.6h.01M279.2 520.5h.01M276.6 526.2h.01M280.9 518.7h.01M281.0 522.3h.01M281.0 520.7h.01M275.4 526.4h.01M276.4 526.4h.01M274.7 527.0h.01M275.7 527.1h.01M274.2 528.0h.01M279.8 520.9h.01M273.3 529.5h.01M278.0 524.7h.01M279.4 523.3h.01M276.7 524.9h.01M274.9 526.8h.01M272.8 530.0h.01M275.0 526.8h.01M277.1 524.5h.01M276.9 525.8h.01M279.9 522.4h.01M273.1 529.6h.01M276.5 526.7h.01M278.5 524.7h.01M273.4 529.1h.01M274.6 528.2h.01M274.5 528.0h.01M274.9 528.0h.01M277.3 525.7h.01" stroke="#000004"/>
<path d="M295.1 498.3h.01M306.9 477.5h.01M299.5 494.0h.01M300.8 499.3h.01M300.9 487.8h.01M300.7 495.6h.01M299.2 507.0h.01M295.4 500.8h.01M310.0 496.3h.01M306.5 499.2h.01M296.3 499.1h.01" stroke="#781c6d"/>
<path d="M293.5 505.2h.01M284.1 520.2h.01M283.6 519.5h.01M293.7 501.8h.01M296.9 510.9h.01M281.5 516.5h.01M288.5 508.2h.01M284.2 516.3h.01M285.6 514.5h.01M288.0 512.8h.01M281.1 517.2h.01M286.0 514.3h.01M290.1 507.3h.01M281.4 518.6h.01M285.6 511.0h.01M283.5 518.4h.01M287.4 522.4h.01M287.2 511.9h.01M282.2 515.5h.01M282.7 517.3h.01" stroke="#ed6925"/>
<path d="M331.9 462.1h.01" stroke="#fcffa4"/>
<path d="M275.9 525.6h.01M280.6 526.3h.01M279.2 522.9h.01M277.6 523.4h.01M280.6 520.0h.01M278.6 524.3h.01M274.6 527.8h.01M276.5 524.0h.01M278.2 525.6h.01M274.9 527.7h.01M277.6 524.0h.01M275.1 526.9h.01M277.8 524.1h.01M277.3 523.8h.01M277.1 524.3h.01M275.1 528.2h.01M279.8 519.9h.01M279.0 520.8h.01M280.9 518.1h.01M275.3 527.5h.01M276.8 526.8h.01M280.3 523.9h.01M280.9 521.2h.01M279.9 522.0h.01M279.1 521.5h.01M279.5 523.8h.01M276.3 525.0h.01M277.0 523.8h.01M274.7 528.7h.01M280.5 524.2h.01M277.6 524.6h.01M279.9 519.4h.01M278.6 520.6h.01M279.8 521.8h.01M275.7 526.2h.01M276.3 529.3h.01M280.2 519.8h.01M277.1 524.8h.01M280.6 524.3h.01" stroke="#000004"/>
<path d="M298.1 495.7h.01M309.4 489.8h.01M309.4 498.4h.01M307.6 495.1h.01M296.4 499.3h.01M299.1 495.8h.01M300.5 504.4h.01M306.6 503.9h.01" stroke="#781c6d"/>
<path d="M285.1 520.4h.01M283.7 517.8h.01M284.9 514.6h.01M283.0 521.6h.01M282.2 516.5h.01M282.4 517.0h.01M283.4 513.6h.01M293.0 507.6h.01M294.1 509.6h.01M287.2 511.4h.01M288.3 505.9h.01M283.8 520.7h.01M291.3 503.7h.01M282.5 519.9h.01M282.5 518.1h.01M282.5 517.5h.01M285.3 520.7h.01M285.5 516.7h.01M281.6 519.5h.01M290.1 506.5h.01M281.5 517.9h.01M295.8 510.3h.01M287.3 512.5h.01M285.6 515.9h.01M282.2 518.2h.01M283.8 516.2h.01" stroke="#ed6925"/>
<path d="M320.2 473.9h.01" stroke="#fcffa4"/>
<path d="M276.5 528.6h.01M276.5 527.2h.01M274.1 528.5h.01M279.1 521.0h.01M273.9 529.5h.01M275.2 526.9h.01M275.7 525.9h.01M281.3 520.6h.01M278.8 524.6h.01M274.0 529.0h.01M274.1 529.5h.01M274.8 527.6h.01M274.8 527.4h.01M273.6 529.2h.01M273.2 530.2h.01M276.6 528.3h.01M280.1 521.6h.01M278.5 521.4h.01M280.3 519.8h.01M279.0 524.8h.01M276.4 525.6h.01M280.1 519.8h.01M275.3 526.7h.01M276.6 527.5h.01M276.9 525.6h.01M274.5 528.3h.01M279.7 524.3h.01M279.3 523.9h.01M275.4 528.9h.01M274.4 528.1h.01M278.9 521.0h.01M280.0 526.7h.01M275.4 526.7h.01M276.6 524.8h.01M277.7 523.5h.01M276.5 525.2h.01M276.7 524.7h.01M277.2 525.8h.01M276.7 527.3h.01M275.1 527.1h.01M273.6 529.4h.01M274.0 527.9h.01M274.1 529.0h.01" stroke="#000004"/>
<path d="M294.8 498.4h.01M307.3 496.2h.01M297.9 509.6h.01M314.6 482.8h.01M305.7 498.0h.01M299.8 493.2h.01" stroke="#781c6d"/>
<path d="M290.4 515.0h.01M284.6 518.7h.01M289.2 511.6h.01M288.3 515.9h.01M289.2 509.1h.01M285.4 520.3h.01M290.3 510.4h.01M292.1 501.8h.01M285.4 512.8h.01M287.9 506.8h.01M288.3 517.5h.01M291.7 506.5h.01M282.3 519.9h.01M281.6 518.4h.01M285.8 511.4h.01M294.2 513.9h.01M288.7 510.4h.01M289.5 512.9h.01M292.9 519.9h.01M286.7 512.7h.01M286.9 516.9h.01M292.7 509.4h.01M288.6 508.1h.01M285.7 513.9h.01" stroke="#ed6925"/>
<path d="M318.6 461.4h.01" stroke="#fcffa4"/>
<path d="M280.9 517.3h.01M277.5 526.2h.01M281.7 519.7h.01M275.8 525.7h.01M273.2 529.9h.01M277.7 526.1h.01M275.2 526.0h.01M274.3 529.0h.01M274.3 527.9h.01M274.7 528.3h.01M275.1 528.1h.01M280.1 519.6h.01M281.4 523.2h.01M277.8 522.8h.01M279.4 522.0h.01M274.5 528.0h.01M277.4 526.8h.01M273.4 529.9h.01M274.8 527.6h.01M279.9 521.7h.01M278.9 520.9h.01M278.3 524.4h.01M280.1 521.2h.01M279.7 520.6h.01M276.5 525.7h.01M278.0 522.4h.01M279.7 521.7h.01M278.4 522.6h.01M277.0 525.6h.01M278.6 523.2h.01M275.9 525.1h.01M274.6 527.9h.01M276.0 527.9h.01M276.7 525.9h.01M277.2 524.7h.01M275.6 527.5h.01M275.2 526.4h.01M280.1 521.6h.01M277.3 522.8h.01M274.3 529.2h.01M275.4 527.2h.01M273.6 528.7h.01" stroke="#000004"/>
<path d="M302.7 504.8h.01M303.7 484.6h.01M298.3 489.5h.01M306.9 487.6h.01M299.6 504.1h.01M297.3 502.9h.01M301.1 497.3h.01M302.5 484.4h.01" stroke="#781c6d"/>
<path d="M283.7 517.9h.01M286.4 513.5h.01M288.4 510.7h.01M282.8 516.1h.01M292.0 500.2h.01M285.0 516.8h.01M285.4 513.6h.01M285.7 511.0h.01M285.7 516.5h.01M286.1 515.3h.01M286.5 508.5h.01M283.8 518.1h.01M289.4 505.0h.01M286.3 514.2h.01M287.4 512.1h.01M285.8 519.7h.01M285.2 514.5h.01M283.1 513.9h.01M287.5 513.0h.01M283.6 514.9h.01M285.3 516.8h.01M281.8 519.2h.01M282.2 516.9h.01M294.6 507.8h.01" stroke="#ed6925"/>
<path d="M278.7 523.4h.01M276.1 525.8h.01M280.0 526.6h.01M273.6 528.9h.01M276.7 524.3h.01M277.1 525.7h.01M279.4 521.3h.01M281.1 524.1h.01M279.9 521.7h.01M275.8 526.4h.01M277.7 524.9h.01M276.9 525.9h.01M279.8 519.5h.01M279.1 521.6h.01M273.5 529.4h.01M275.9 526.0h.01M274.2 528.3h.01M275.9 525.4h.01M275.4 526.7h.01M276.7 525.7h.01M276.6 526.3h.01M280.1 521.2h.01M278.9 521.8h.01M279.8 520.7h.01M276.8 524.5h.01M280.4 522.6h.01M275.2 526.3h.01M278.4 523.8h.01M274.1 528.2h.01M276.5 524.7h.01M280.4 520.9h.01M275.5 525.6h.01M281.3 523.7h.01M280.8 517.8h.01M279.2 521.6h.01" stroke="#000004"/>
<path d="M297.3 497.5h.01M304.3 489.0h.01M298.2 491.2h.01M298.1 489.2h.01M316.5 475.1h.01" stroke="#781c6d"/>
<path d="M289.7 510.5h.01M281.3 518.3h.01M282.4 521.7h.01M289.1 505.6h.01M283.1 516.3h.01M285.6 512.3h.01M288.2 514.5h.01M288.1 513.3h.01M287.5 518.9h.01M283.8 511.7h.01M293.1 500.9h.01M290.4 512.8h.01M292.8 500.2h.01M281.8 517.9h.01M283.3 516.7h.01M286.4 518.3h.01M294.2 506.3h.01M290.2 506.0h.01M294.0 501.2h.01M281.6 518.4h.01M294.9 506.5h.01M284.4 515.6h.01M282.0 517.3h.01M293.2 499.0h.01M284.1 513.2h.01M282.9 518.1h.01M292.9 509.5h.01M290.5 505.3h.01M293.3 501.5h.01M286.0 511.9h.01M284.4 514.3h.01M284.1 510.6h.01M296.9 507.0h.01M288.1 507.1h.01" stroke="#ed6925"/>
<path d="M275.6 525.5h.01M273.1 529.9h.01M274.7 526.9h.01M277.1 523.8h.01M273.9 528.5h.01M277.7 525.1h.01M274.8 526.5h.01M276.9 523.7h.01M279.7 521.5h.01M277.8 524.5h.01M279.6 523.7h.01M278.3 524.5h.01M272.5 530.3h.01M279.8 521.8h.01M276.3 525.9h.01M276.6 526.7h.01M276.2 527.4h.01M278.4 522.8h.01M279.0 521.6h.01M280.5 519.9h.01M275.3 528.3h.01M277.3 523.5h.01M281.8 524.2h.01M279.3 523.6h.01M277.5 524.1h.01M274.4 528.4h.01M278.0 523.7h.01M278.0 525.8h.01M279.9 520.0h.01M282.4 522.3h.01M278.5 527.9h.01M275.4 527.3h.01M276.6 526.0h.01M281.7 522.9h.01M277.5 522.7h.01M279.2 520.3h.01M274.7 527.4h.01M277.7 528.7h.01M278.0 522.6h.01" stroke="#000004"/>
<path d="M300.0 501.2h.01M303.3 490.1h.01M296.1 502.6h.01M316.8 483.6h.01M317.1 489.2h.01M295.9 500.9h.01" stroke="#781c6d"/>
<path d="M286.4 516.4h.01M282.3 520.6h.01M285.3 513.1h.01M284.3 511.9h.01M291.1 502.5h.01M286.1 509.7h.01M282.8 517.9h.01M282.2 519.9h.01M284.3 513.1h.01M293.6 497.5h.01M282.6 518.7h.01M285.7 511.4h.01M283.2 518.2h.01M290.1 511.8h.01M286.0 520.5h.01M295.4 506.0h.01M282.9 516.8h.01M289.8 504.6h.01M281.2 516.9h.01M288.7 508.0h.01M289.5 515.0h.01M290.6 507.0h.01M291.8 507.9h.01M294.6 507.5h.01M286.7 510.3h.01M285.9 510.1h.01M294.1 502.5h.01M288.5 514.4h.01" stroke="#ed6925"/>
<path d="M320.7 470.0h.01" stroke="#fcffa4"/>
<path d="M280.0 524.9h.01M272.7 530.3h.01M274.8 528.9h.01M274.5 527.7h.01M275.2 527.7h.01M277.0 525.0h.01M274.8 527.2h.01M279.7 519.6h.01M278.0 524.0h.01M278.8 521.6h.01M278.4 523.6h.01M276.6 525.0h.01M282.0 522.0h.01M277.9 522.2h.01M280.5 520.1h.01M278.1 523.9h.01M279.0 520.2h.01M279.8 524.8h.01M273.6 529.4h.01M280.7 522.6h.01M278.0 524.0h.01M276.4 525.2h.01M281.9 522.9h.01M277.4 523.0h.01M282.1 521.2h.01M276.7 527.2h.01M272.8 529.8h.01M280.5 519.5h.01M278.3 524.2h.01M274.2 528.4h.01M273.9 529.0h.01M280.7 517.8h.01M280.0 519.4h.01M281.3 522.6h.01M275.8 525.6h.01M276.0 526.2h.01M275.4 526.3h.01M273.3 529.1h.01" stroke="#000004"/>
<path d="M299.1 500.8h.01M296.7 501.6h.01M295.6 497.0h.01M305.7 490.7h.01M302.7 501.2h.01M315.8 490.5h.01M307.5 483.9h.01M303.7 484.8h.01" stroke="#781c6d"/>
<path d="M286.0 515.6h.01M286.1 518.0h.01M287.4 512.2h.01M282.8 519.8h.01M282.6 515.5h.01M281.5 518.5h.01M284.4 515.3h.01M288.4 504.8h.01M289.5 511.4h.01M288.3 515.7h.01M293.7 511.7h.01M285.9 515.5h.01M285.8 514.6h.01M284.6 511.8h.01M287.2 512.4h.01M290.5 508.3h.01M284.6 516.0h.01M286.1 515.7h.01M282.7 522.7h.01M291.5 505.2h.01M287.3 511.4h.01M292.0 511.2h.01M286.5 517.4h.01M289.1 514.5h.01M281.9 517.4h.01M283.4 516.6h.01M285.5 516.4h.01" stroke="#ed6925"/>
<path d="M343.7 425.2h.01" stroke="#fcffa4"/>
<path d="M275.8 526.7h.01M277.7 522.3h.01M274.0 528.9h.01M277.2 523.6h.01M277.5 525.5h.01M281.0 525.0h.01M276.8 524.9h.01M274.4 527.8h.01M279.2 522.6h.01M278.4 523.1h.01M273.7 529.4h.01M282.2 523.1h.01M279.2 521.6h.01M275.0 528.1h.01M277.0 527.0h.01M278.7 520.6h.01M277.0 523.7h.01M275.6 525.6h.01M279.3 522.6h.01M281.2 520.5h.01M277.9 524.2h.01M275.5 525.7h.01M279.8 521.8h.01M275.3 526.9h.01M276.6 526.1h.01M274.2 528.1h.01M276.0 527.2h.01M278.4 522.0h.01M279.9 523.8h.01M272.8 530.2h.01M277.7 523.2h.01M273.1 530.4h.01M272.7 530.2h.01M277.7 526.1h.01" stroke="#000004"/>
<path d="M298.3 502.6h.01M298.9 494.9h.01M299.5 501.1h.01M303.1 503.6h.01M303.7 492.9h.01M298.5 494.6h.01M298.9 495.4h.01M295.6 502.4h.01M296.7 497.5h.01M296.8 495.8h.01M302.5 503.9h.01M306.7 495.2h.01" stroke="#781c6d"/>
<path d="M286.9 516.4h.01M286.8 513.5h.01M285.9 517.1h.01M284.6 514.6h.01M287.4 508.2h.01M290.5 514.1h.01M282.2 518.6h.01M282.5 516.4h.01M291.3 501.6h.01M286.8 514.5h.01M284.8 519.2h.01M291.6 511.4h.01M285.3 516.4h.01M284.2 513.5h.01M285.3 513.5h.01M284.7 520.4h.01M282.9 514.6h.01M282.9 514.6h.01M289.6 508.5h.01M286.0 520.6h.01M287.3 507.5h.01M283.2 520.7h.01M289.0 510.1h.01M289.9 507.6h.01M283.7 517.8h.01M294.5 511.8h.01" stroke="#ed6925"/>
<path d="M328.5 486.4h.01M319.2 472.8h.01" stroke="#fcffa4"/>
<path d="M276.9 526.5h.01M275.3 526.0h.01M274.7 527.0h.01M280.5 519.6h.01M274.4 528.7h.01M273.8 528.6h.01M274.4 528.5h.01M276.6 527.3h.01M278.1 524.4h.01M277.3 525.1h.01M277.5 526.7h.01M281.7 521.1h.01M275.0 527.7h.01M275.4 528.1h.01M278.0 521.4h.01M274.0 528.8h.01M277.2 524.6h.01M275.8 526.6h.01M275.4 526.0h.01M276.2 525.5h.01M277.3 522.6h.01M280.2 519.7h.01M275.9 525.1h.01M274.8 526.6h.01M276.5 525.0h.01M280.9 517.7h.01M276.9 525.3h.01M278.5 525.3h.01M278.2 525.3h.01M275.8 528.0h.01M278.3 523.3h.01M279.9 518.7h.01M275.0 527.0h.01M273.1 529.8h.01M275.7 528.2h.01M279.1 522.1h.01M280.2 526.9h.01M280.4 525.8h.01M278.0 526.2h.01M274.0 527.6h.01M278.6 520.9h.01M274.5 528.4h.01M277.4 526.7h.01" stroke="#000004"/>
<path d="M309.3 489.4h.01M295.7 492.3h.01M296.2 497.1h.01M301.3 490.4h.01" stroke="#781c6d"/>
<path d="M282.3 516.6h.01M285.1 516.2h.01M283.9 515.5h.01M284.8 515.9h.01M292.1 512.1h.01M294.8 502.1h.01M292.5 512.4h.01M285.7 518.2h.01M292.2 513.0h.01M288.7 507.2h.01M294.7 518.2h.01M292.9 505.4h.01M291.5 509.0h.01M283.7 517.2h.01M282.5 522.1h.01M282.4 516.9h.01M282.4 517.3h.01M289.8 505.6h.01M289.7 511.8h.01M284.1 513.1h.01M286.8 511.9h.01M287.9 515.6h.01M284.1 513.4h.01M287.4 513.4h.01M294.1 511.2h.01M288.4 512.7h.01" stroke="#ed6925"/>
<path d="M322.5 462.3h.01" stroke="#fcffa4"/>
<path d="M274.0 528.2h.01M277.1 528.0h.01M278.9 523.0h.01M278.5 522.2h.01M276.3 526.3h.01M273.8 528.5h.01M281.2 520.6h.01M276.0 525.6h.01M272.6 530.5h.01M281.1 519.3h.01M279.3 526.1h.01M280.5 524.4h.01M275.3 528.4h.01M279.0 520.5h.01M279.1 523.6h.01M275.7 527.9h.01M282.4 522.3h.01M276.9 525.0h.01M277.0 524.4h.01M280.9 520.0h.01M277.4 525.9h.01M274.7 527.2h.01M274.2 529.3h.01M273.9 528.8h.01M279.9 524.2h.01M275.7 525.6h.01M275.6 527.4h.01M273.7 529.6h.01M278.9 522.2h.01M275.9 527.4h.01M279.7 525.7h.01M275.5 526.4h.01M280.5 521.5h.01M276.0 525.2h.01M280.1 518.6h.01M277.9 525.8h.01M274.7 527.2h.01M274.3 527.8h.01M279.9 520.4h.01M276.3 524.9h.01M277.3 523.8h.01M277.8 524.5h.01M278.8 524.1h.01" stroke="#000004"/>
<path d="M300.5 505.2h.01M299.0 506.1h.01M297.9 504.9h.01M304.9 487.0h.01M313.9 474.1h.01M296.8 503.7h.01" stroke="#781c6d"/>
<path d="M285.8 509.7h.01M286.0 516.6h.01M281.8 519.9h.01M284.9 516.6h.01M288.8 510.9h.01M289.2 505.0h.01M283.0 519.4h.01M284.8 517.1h.01M289.1 506.4h.01M282.2 517.0h.01M284.6 511.4h.01M282.7 519.2h.01M289.2 504.4h.01M284.3 513.2h.01M284.0 516.0h.01M284.6 515.2h.01M285.3 515.9h.01M286.5 512.5h.01M287.4 515.4h.01M292.3 505.3h.01M284.5 511.2h.01M286.6 510.0h.01M298.1 511.1h.01M283.2 521.1h.01" stroke="#ed6925"/>
<path d="M317.1 468.9h.01" stroke="#fcffa4"/>
<path d="M275.8 526.1h.01M281.0 520.9h.01M275.1 527.4h.01M277.8 524.9h.01M279.1 521.1h.01M280.2 523.8h.01M279.7 522.6h.01M274.3 528.4h.01M278.8 522.2h.01M275.3 527.1h.01M273.9 528.2h.01M278.3 521.6h.01M280.2 522.9h.01M274.1 528.6h.01M280.4 520.9h.01M277.6 522.3h.01M277.4 524.4h.01M276.4 528.5h.01M277.0 524.3h.01M280.5 523.1h.01M279.6 521.1h.01M277.9 525.5h.01M276.3 526.3h.01M275.9 527.1h.01M278.1 522.9h.01M277.0 525.3h.01M272.4 530.4h.01M277.2 523.2h.01M273.4 529.5h.01M275.0 526.5h.01M273.6 529.3h.01M275.6 527.4h.01M274.2 527.7h.01M275.4 528.5h.01M274.3 528.5h.01M280.2 519.1h.01M273.8 529.3h.01M278.5 522.8h.01M276.7 524.0h.01M279.6 528.2h.01M277.1 525.4h.01M273.9 528.2h.01" stroke="#000004"/>
<path d="M305.4 495.6h.01M299.3 502.5h.01M317.9 479.2h.01M297.8 498.7h.01M309.5 481.2h.01" stroke="#781c6d"/>
<path d="M288.4 506.0h.01M285.4 513.9h.01M288.1 514.5h.01M283.0 517.5h.01M282.4 519.5h.01M290.9 510.6h.01M291.3 518.8h.01M283.8 517.9h.01M292.9 511.5h.01M287.9 514.4h.01M290.5 512.4h.01M285.3 519.5h.01M290.6 512.1h.01M287.7 515.7h.01M293.9 508.3h.01M282.4 519.7h.01M289.9 512.5h.01M284.1 510.1h.01M283.5 517.9h.01M290.9 506.6h.01M291.7 507.2h.01M281.1 517.0h.01M287.0 514.7h.01M283.7 520.4h.01" stroke="#ed6925"/>
<path d="M323.8 471.7h.01M331.4 440.9h.01M322.1 480.9h.01" stroke="#fcffa4"/>
<path d="M280.9 520.0h.01M272.8 530.0h.01M276.1 526.0h.01M275.1 527.3h.01M278.0 522.0h.01M278.3 521.9h.01M279.1 522.3h.01M278.7 523.4h.01M275.8 525.7h.01M274.0 529.2h.01M281.7 520.6h.01M275.6 527.7h.01M276.7 525.8h.01M278.2 522.2h.01M275.0 527.6h.01M276.5 525.3h.01M280.3 520.0h.01M280.0 519.7h.01M281.0 518.6h.01M273.6 528.8h.01M275.5 525.6h.01M273.8 528.3h.01M280.0 519.3h.01" stroke="#000004"/>
<path d="M302.5 505.9h.01M298.7 490.7h.01M311.3 473.7h.01M305.1 482.5h.01M311.2 476.0h.01M319.6 496.1h.01M319.9 500.3h.01M325.7 501.1h.01M322.2 504.3h.01M313.7 506.6h.01M307.6 508.7h.01M315.0 511.9h.01M310.8 514.4h.01M305.8 517.5h.01M312.5 503.4h.01M304.1 510.5h.01M307.2 514.7h.01" stroke="#781c6d"/>
<path d="M285.1 519.0h.01M283.4 516.7h.01M282.1 518.8h.01M288.8 516.8h.01M281.9 517.9h.01M281.9 519.8h.01M284.7 517.2h.01M281.3 517.9h.01M293.4 510.8h.01M283.8 519.3h.01M294.8 506.4h.01M296.0 504.1h.01M288.7 506.7h.01M292.1 501.4h.01M287.6 507.5h.01M291.6 500.3h.01M288.1 507.6h.01" stroke="#ed6925"/>
<path d="M349.3 440.9h.01M319.7 470.5h.01M395.8 408.3h.01M360.8 421.5h.01M356.3 430.8h.01M384.5 436.7h.01M366.6 462.5h.01M425.1 476.3h.01M364.9 494.1h.01M366.6 496.8h.01M346.0 482.9h.01M328.8 517.2h.01M337.4 437.4h.01M335.6 443.3h.01M331.4 496.4h.01M341.9 490.6h.01M334.4 495.7h.01" stroke="#fcffa4"/>
</g>
<rect x="264.2" y="401.1" width="169.5" height="135.6" fill="none" stroke="#000" stroke-opacity="0.45" stroke-width="0.5"/>
<text x="272.0" y="545.1" text-anchor="middle" class="t">0</text>
<text x="306.4" y="545.1" text-anchor="middle" class="t">1000</text>
<text x="340.8" y="545.1" text-anchor="middle" class="t">2000</text>
<text x="375.2" y="545.1" text-anchor="middle" class="t">3000</text>
<text x="409.6" y="545.1" text-anchor="middle" class="t">4000</text>
<text x="261.7" y="533.8" text-anchor="end" class="t">0</text>
<text x="261.7" y="517.3" text-anchor="end" class="t">250</text>
<text x="261.7" y="500.8" text-anchor="end" class="t">500</text>
<text x="261.7" y="484.3" text-anchor="end" class="t">750</text>
<text x="261.7" y="467.8" text-anchor="end" class="t">1000</text>
<text x="261.7" y="451.3" text-anchor="end" class="t">1250</text>
<text x="261.7" y="434.8" text-anchor="end" class="t">1500</text>
<text x="261.7" y="418.3" text-anchor="end" class="t">1750</text>
<path d="M272.0 536.7v1.4M306.4 536.7v1.4M340.8 536.7v1.4M375.2 536.7v1.4M409.6 536.7v1.4M264.2 531.1h-1.4M264.2 514.6h-1.4M264.2 498.1h-1.4M264.2 481.6h-1.4M264.2 465.1h-1.4M264.2 448.6h-1.4M264.2 432.1h-1.4M264.2 415.6h-1.4" stroke="#000" stroke-opacity="0.6" stroke-width="0.5" fill="none"/>
<text x="348.8" y="399.1" text-anchor="middle" class="ti">(f) Predicted pixels number of BB vs. not null</text>
</g>
<rect x="5.0" y="6.8" width="71.0" height="60.2" rx="2.2" fill="#85aeaf" stroke="#d6d6d6" stroke-width="0.7"/>
<text x="40.7" y="15.6" text-anchor="middle" class="lt">MPs</text>
<circle cx="16.1" cy="24.5" r="1.25" fill="#000004"/>
<text x="30.6" y="27.4" class="l">Pellets</text>
<circle cx="16.1" cy="36.3" r="1.25" fill="#781c6d"/>
<text x="30.6" y="39.2" class="l">Fragments</text>
<circle cx="16.1" cy="47.9" r="1.25" fill="#ed6925"/>
<text x="30.6" y="50.8" class="l">Lines</text>
<circle cx="16.1" cy="59.7" r="1.25" fill="#fcffa4"/>
<text x="30.6" y="62.6" class="l">Fibres</text>
<rect x="419.9" y="6.8" width="57.8" height="60.7" rx="2.2" fill="#85aeaf" stroke="#d6d6d6" stroke-width="0.7"/>
<text x="449.2" y="15.6" text-anchor="middle" class="lt">Predicted MPs</text>
<circle cx="431.3" cy="24.4" r="1.25" fill="#000004"/>
<text x="445.9" y="27.3" class="l">Class 1</text>
<circle cx="431.3" cy="36.1" r="1.25" fill="#781c6d"/>
<text x="445.9" y="39.0" class="l">Class 2</text>
<circle cx="431.3" cy="47.8" r="1.25" fill="#ed6925"/>
<text x="445.9" y="50.7" class="l">Class 3</text>
<circle cx="431.3" cy="59.6" r="1.25" fill="#fcffa4"/>
<text x="445.9" y="62.5" class="l">Class 4</text>
</svg>
</body></html>
